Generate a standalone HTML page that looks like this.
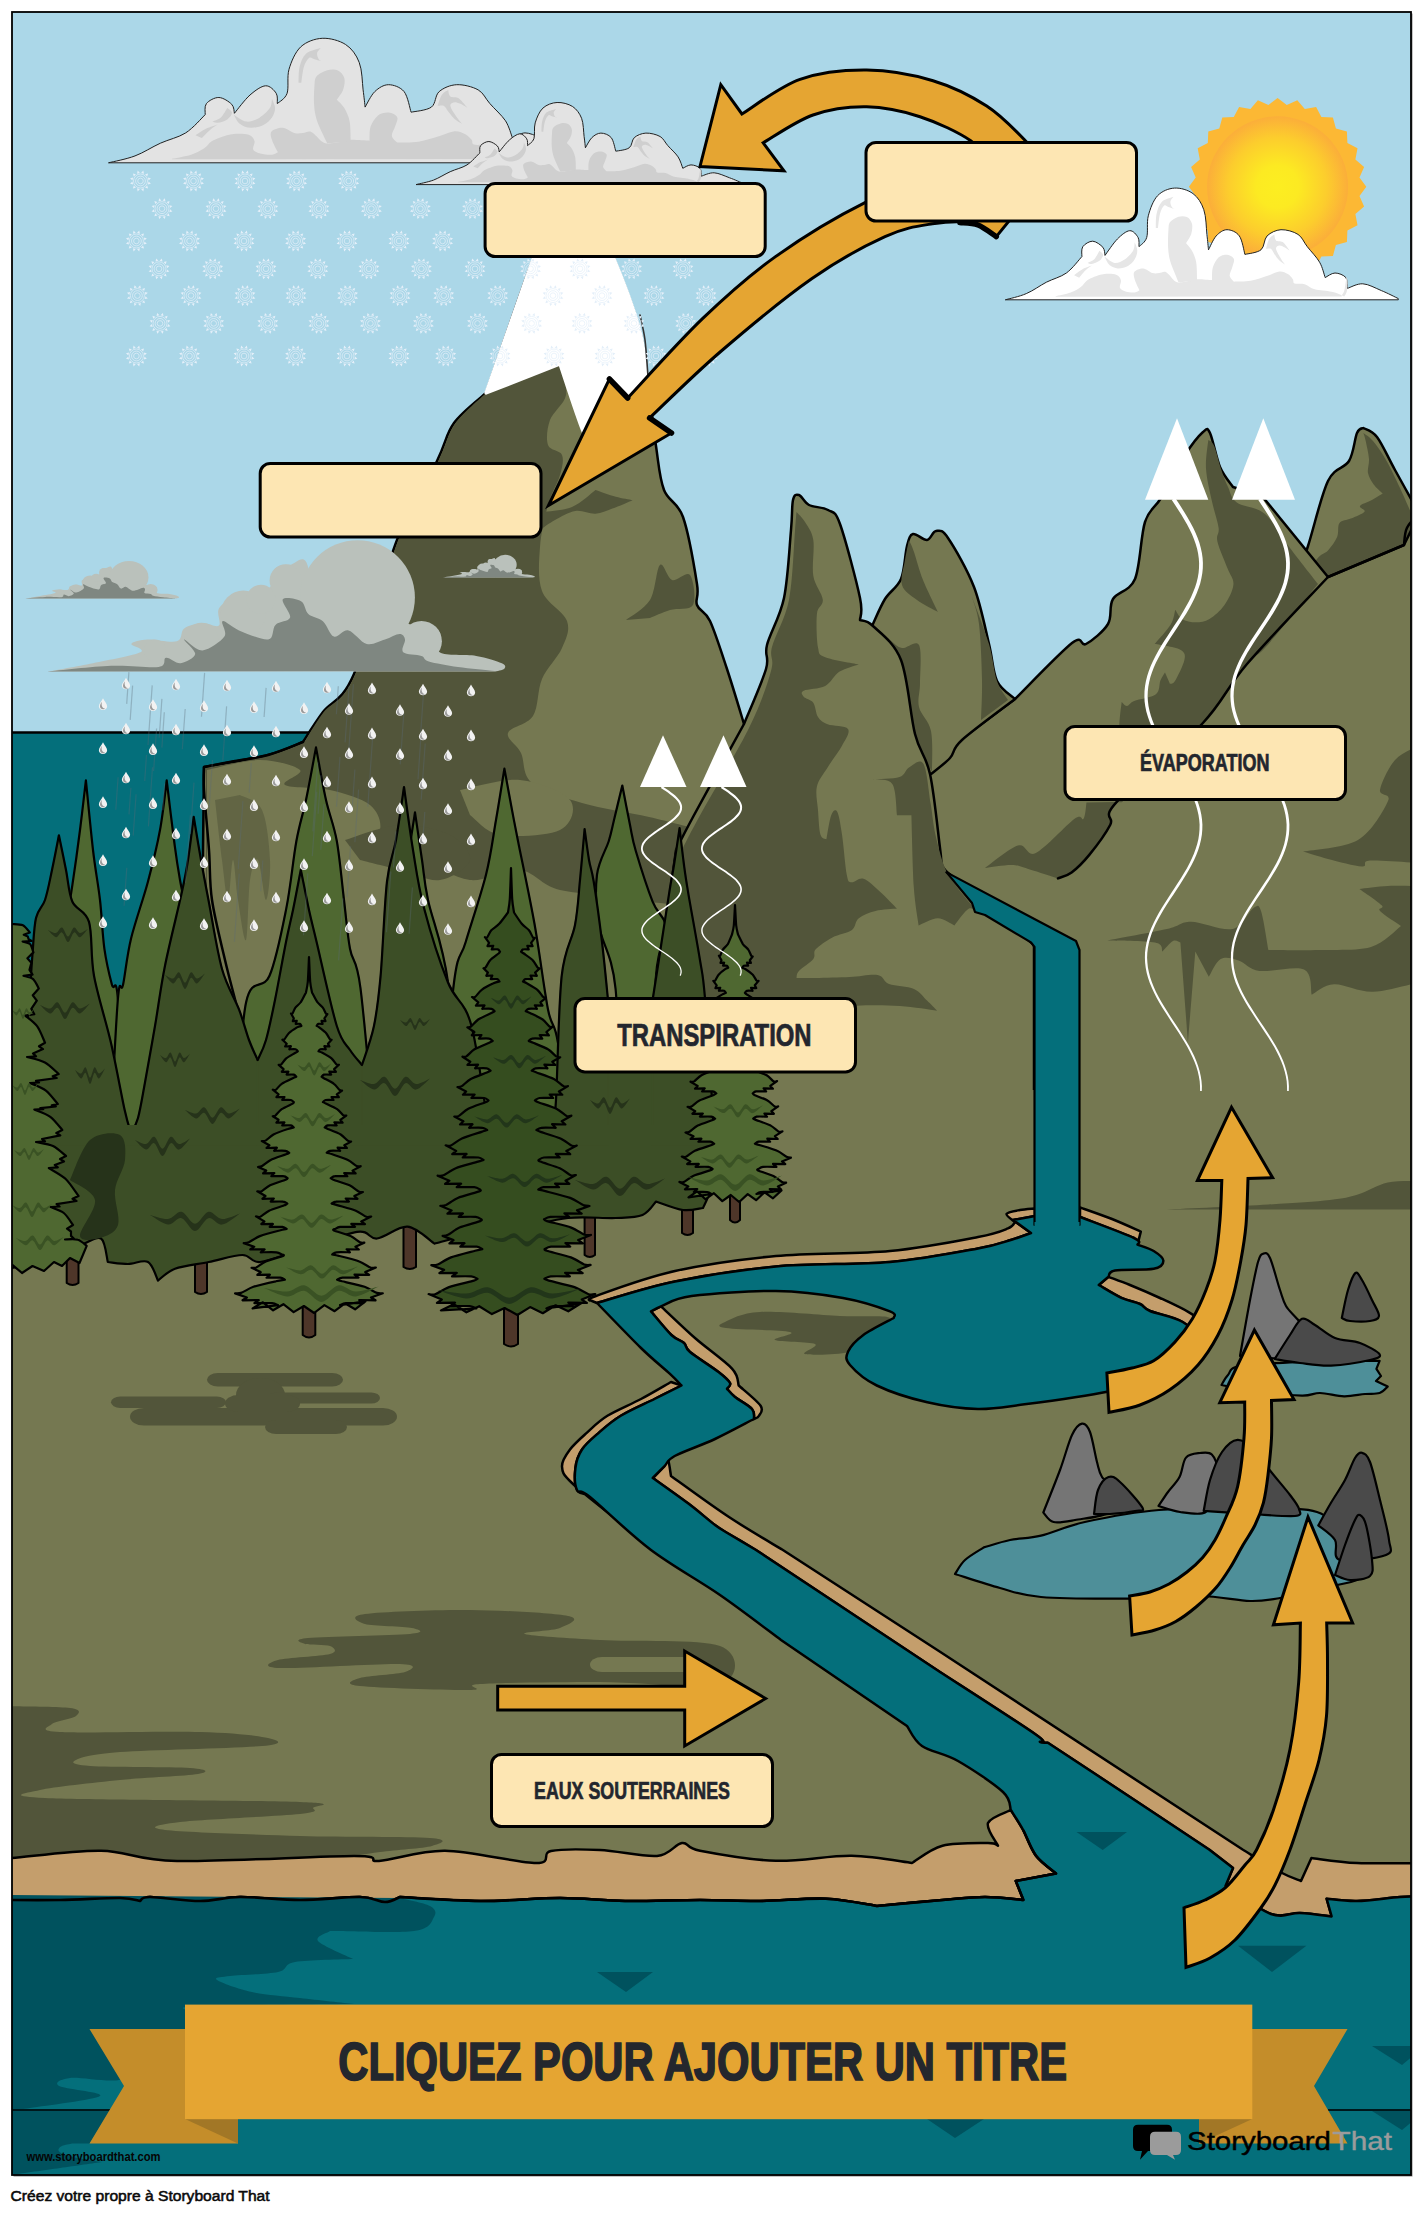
<!DOCTYPE html>
<html lang="fr"><head><meta charset="utf-8"><title>Cycle de l'eau</title>
<style>
html,body{margin:0;padding:0;background:#fff}
body{width:1425px;height:2214px;overflow:hidden;font-family:"Liberation Sans",sans-serif}
svg{display:block}
text{font-family:"Liberation Sans",sans-serif}
</style></head><body>
<svg width="1425" height="2214" viewBox="0 0 1425 2214">
<defs>
<clipPath id="fr"><rect x="12" y="12" width="1399" height="2163"/></clipPath>
<radialGradient id="sung" cx="0.5" cy="0.5" r="0.5"><stop offset="0" stop-color="#FCEE21"/><stop offset="0.3" stop-color="#FCEA22"/><stop offset="0.7" stop-color="#FCCD2D"/><stop offset="1" stop-color="#FBAE3A"/></radialGradient><g id="drop"><path d="M0 -6.5 C1.2 -3.5 4.6 -0.5 4.6 2.3 C4.6 5 2.6 6.5 0 6.5 C-2.6 6.5 -4.6 5 -4.6 2.3 C-4.6 -0.5 -1.2 -3.5 0 -6.5Z" fill="#F2F2F2"/><path d="M-1.2 -2.5 C-3.6 0.5 -3.8 3 -2.6 4.6 C-1.4 6 1.2 6.1 2.6 5 C0.2 5 -2.4 3 -1.2 -2.5Z" fill="#9A9A9A"/></g><g id="flake" fill="none" stroke="#E4EFF9" stroke-width="0.7"><circle r="2.8"/><circle r="4.9"/><circle r="7"/><path d="M10.4 2.8L7.3 3.5L8.1 0.6ZM7.6 7.6L4.6 6.7L6.7 4.6ZM2.8 10.4L0.6 8.1L3.5 7.3ZM-2.8 10.4L-3.5 7.3L-0.6 8.1ZM-7.6 7.6L-6.7 4.6L-4.6 6.7ZM-10.4 2.8L-8.1 0.6L-7.3 3.5ZM-10.4 -2.8L-7.3 -3.5L-8.1 -0.6ZM-7.6 -7.6L-4.6 -6.7L-6.7 -4.6ZM-2.8 -10.4L-0.6 -8.1L-3.5 -7.3ZM2.8 -10.4L3.5 -7.3L0.6 -8.1ZM7.6 -7.6L6.7 -4.6L4.6 -6.7ZM10.4 -2.8L8.1 -0.6L7.3 -3.5Z" fill="#E4EFF9" stroke="none"/></g>
</defs>
<rect x="13.5" y="13.5" width="1399" height="2163" fill="#8a8a8a"/>
<g clip-path="url(#fr)">
<rect x="0" y="0" width="1425" height="2214" fill="#ABD7E8"/>
<rect x="0" y="733" width="700" height="400" fill="#046F7B"/>
<line x1="0" y1="732.5" x2="420" y2="732.5" stroke="#000" stroke-width="2.6"/>
<path d="M1277.6 98.1 L1286.8 104.9 L1297.3 100.3 L1304.8 109 L1316.1 106.9 L1321.4 117 L1332.9 117.5 L1335.9 128.5 L1346.9 131.5 L1347.4 143 L1357.5 148.3 L1355.4 159.6 L1364.1 167.1 L1359.5 177.6 L1366.3 186.8 L1359.5 196 L1364.1 206.5 L1355.4 214 L1357.5 225.3 L1347.4 230.6 L1346.9 242.1 L1335.9 245.1 L1332.9 256.1 L1321.4 256.6 L1316.1 266.7 L1304.8 264.6 L1297.3 273.3 L1286.8 268.7 L1277.6 275.5 L1268.4 268.7 L1257.9 273.3 L1250.4 264.6 L1239.1 266.7 L1233.8 256.6 L1222.3 256.1 L1219.3 245.1 L1208.3 242.1 L1207.8 230.6 L1197.7 225.3 L1199.8 214 L1191.1 206.5 L1195.7 196 L1188.9 186.8 L1195.7 177.6 L1191.1 167.1 L1199.8 159.6 L1197.7 148.3 L1207.8 143 L1208.3 131.5 L1219.3 128.5 L1222.3 117.5 L1233.8 117 L1239.1 106.9 L1250.4 109 L1257.9 100.3 L1268.4 104.9Z" fill="#FCB834"/>
<circle cx="1277.6" cy="186.8" r="70.5" fill="url(#sung)"/>
<path d="M108.5 162.8C112.9 161.7 126.4 159.2 135 155.9C143.7 152.7 151.9 147 160.4 143.2C168.8 139.4 178.2 137.6 185.7 132.9C193.2 128.1 202 117.7 205.2 114.6C205.4 112.8 204.1 106.5 206.4 103.6C208.6 100.8 214.6 97.3 218.9 97.5C223.1 97.6 229.1 101.7 231.7 104.3C234.3 107 234 111.8 234.4 113.3C237 110.2 244.8 99.6 250 95C255.2 90.5 261.3 86 265.6 85.8C270 85.5 274.2 90.3 276.2 93.3C278.1 96.3 277.1 101.9 277.3 103.6C279 101.9 285.1 99.1 287.1 93.3C289 87.6 286.8 77 289 69.3C291.3 61.5 295.2 52.1 300.7 46.9C306.3 41.7 314.7 38.7 322.2 38.3C329.7 37.9 339.4 40.5 345.6 44.5C351.8 48.5 356.3 54.8 359.2 62.4C362.2 69.9 362.2 82.4 363.1 89.9C364.1 97.3 364.8 104.2 365.1 107.1C366.7 104.5 370.9 95.3 374.8 91.6C378.7 87.9 383.6 84.7 388.5 84.7C393.3 84.7 400.3 87 404.1 91.6C407.8 96.2 409.9 108.8 411.1 112.2C414.5 111.4 426.7 110.5 431.4 107.1C436 103.6 434.9 95.3 439.2 91.6C443.4 87.9 450.2 85 456.7 84.7C463.2 84.4 472.6 86.7 478.2 89.9C483.7 93 485.3 98.5 489.9 103.6C494.4 108.8 501.7 115.1 505.5 120.8C509.2 126.6 511.3 135.2 512.5 138C514.6 137.2 520.6 132.9 525 132.9C529.3 132.9 536 135.2 538.6 138C541.2 140.9 540.2 148.1 540.5 150.1C543.8 149.2 552.9 144.5 560 144.9C567.2 145.3 576 149.7 583.4 152.5C590.9 155.2 601.3 159.9 604.9 161.4L604.9 162.8L108.5 162.8Z" fill="#E3E3E3" stroke="#222" stroke-width="1.0" stroke-linejoin="round"/>
<path d="M172 158.8C175.2 158.1 185.8 156.4 191.1 154.7C196.4 152.9 200.5 150.6 203.9 148.5C207.3 146.3 208.5 143.4 211.3 141.5C214.2 139.6 217.2 138.5 220.9 137.2C224.6 136 229.1 134.4 233.7 134C238.3 133.6 245.1 133.6 248.6 134.8C252 135.9 253.7 138.5 254.5 141C255.3 143.4 252.3 147.3 253.2 149.4C254.2 151.5 257.1 152.6 260.3 153.5C263.4 154.4 269 154.9 272 154.7C274.9 154.4 276.9 152.6 277.9 152.2C276.9 150.2 273 143.5 272 140C270.9 136.6 269.8 133.6 271.5 131.6C273.3 129.5 278.8 127.6 282.6 127.8C286.4 128 290.9 132 294.3 132.9C297.7 133.8 300 133.2 302.8 133.1C305.6 132.9 308.1 130.5 311.3 131.9C314.5 133.4 319.2 139.5 321.9 141.5C324.7 143.5 326.7 143.4 327.7 143.8C329.7 143.5 336.2 142.6 340 141.9C343.8 141.2 345.5 140 350.4 139.8C355.3 139.6 366.4 140.6 369.5 140.7C369.7 138.4 369.2 130.9 370.6 126.6C372 122.4 375 117.7 378 115.4C381.1 113 385.5 112.3 388.7 112.6C391.9 112.9 396.1 114.9 397.2 117.3C398.3 119.6 396 123.5 395.1 126.6C394.2 129.8 391.5 133.4 391.9 136C392.2 138.7 396.3 141.5 397.2 142.6C400.7 142.4 411.4 142.8 418.5 141.7C425.6 140.6 433.7 137.7 439.7 136C445.8 134.3 450.4 131.7 454.6 131.3C458.9 131 462.4 132.7 465.3 134.2C468.1 135.6 470.2 138.1 471.6 139.8C473.1 141.5 471.3 143.5 473.8 144.5C476.3 145.4 482.3 144.3 486.5 145.4C490.8 146.5 493.6 149.6 499.3 151C505 152.4 514.9 152.8 520.6 153.9C526.2 154.9 531.2 157 533.3 157.6L533.3 159.1L172 159.3L172 158.8Z" fill="#CFCFCF"/>
<path d="M336.8 99.7C338.1 101.1 342.2 104.5 344.3 108.1C346.4 111.7 348.5 115.8 349.6 121.3C350.7 126.7 350.5 137.7 350.7 141L327.3 143.4C326.6 141.9 324.8 138.4 323 134.4C321.2 130.4 318.1 124.4 316.6 119.4C315.1 114.4 314.4 110 314.1 104.4C313.7 98.7 314.1 90.3 314.5 85.6C314.9 80.9 314.5 78.8 316.6 76.2C318.8 73.7 323.7 71.2 327.3 70.2C330.8 69.3 335.1 69.3 337.9 70.6C340.7 71.9 343.4 75 344.3 78.1C345.2 81.2 344.5 85.8 343.2 89.4C342 93 337.9 98 336.8 99.7Z" fill="#CFCFCF"/>
<path d="M298.5 82.8C298.7 80.1 298.4 71.7 299.6 66.8C300.9 62 302.4 56.8 306 53.7C309.5 50.6 318.4 49 320.9 48.1C320.2 48.9 317.4 51.3 317.1 53.1C316.7 55 317.8 57.9 318.8 59.3C319.7 60.7 321.9 61.2 322.6 61.6C321.2 61.2 316.7 60 314.5 59.3C312.3 58.7 311 56.6 309.2 57.8C307.4 59.1 305.2 62.7 303.9 66.8C302.6 71 301.7 80.1 301.3 82.8L298.5 82.8Z" fill="#CFCFCF"/>
<path d="M233.7 114.7C235.8 115.8 242.2 121.1 246.4 121.6C250.7 122.2 255.3 120.1 259.2 117.9C263.1 115.6 267.7 111.3 269.8 108.1C272 104.9 271.6 100.3 272 98.7C272.5 100.3 275.1 105 275.1 108.1C275.1 111.2 273.9 114.7 272 117.5C270 120.3 267 123.3 263.4 125C259.9 126.7 254.6 128 250.7 127.8C246.8 127.7 242.9 126.3 240.1 124.1C237.2 121.9 234.7 116.3 233.7 114.7Z" fill="#CFCFCF"/>
<path d="M212.4 121.6C213.8 120.9 218.4 119.8 220.9 117.5C223.4 115.2 226.2 109.7 227.3 108.1C228.1 108.9 232 110.9 232 112.8C232 114.7 229.7 117.7 227.3 119.4C224.9 121 220.2 122.4 217.7 122.8C215.2 123.1 213.3 121.8 212.4 121.6Z" fill="#CFCFCF"/>
<path d="M195.4 135.3C197.2 134.2 202.3 130.5 206 128.8C209.7 127 215.8 125.3 217.7 124.6C216.5 125.5 212.9 127.4 210.3 129.7C207.6 131.9 203.2 136.7 201.8 138.1L195.4 135.3Z" fill="#CFCFCF"/>
<path d="M437.6 106C438.3 104.1 440.1 97.4 441.9 94.8C443.6 92.1 447.2 90.8 448.2 90.1C448.6 91.2 448.6 95.2 450.4 96.6C452.1 98 456 96.6 458.9 98.5C461.7 100.4 466 106.3 467.4 107.9C466.3 107.3 463.1 105.1 461 104.1C458.9 103.2 456.4 101.9 454.6 102.3C452.9 102.6 450 103.5 450.4 106C450.7 108.5 454.8 114.3 456.8 117.3C458.7 120.2 461.2 122.7 462.1 123.8C460.8 123.1 456.9 121.2 454.6 119.1C452.3 117.1 450 113.8 448.2 111.6C446.5 109.4 445.8 106.9 444 106C442.2 105.1 438.7 106 437.6 106Z" fill="#CFCFCF"/>
<path d="M533.3 157.6C533.9 156.8 535.6 155.6 536.5 152.9C537.4 150.3 538.1 144.3 538.7 141.7C539.2 139 539.5 137.7 539.7 137C539.9 138.1 540.8 140.7 540.8 143.5C540.8 146.3 540.4 151.3 539.7 153.9C539 156.4 537.1 158.2 536.5 159.1L533.3 157.6Z" fill="#CFCFCF"/>
<path d="M416 184.6C418.9 183.8 427.8 182.2 433.5 180.1C439.2 177.9 444.7 174.2 450.2 171.7C455.8 169.1 462 168 467 164.9C471.9 161.7 477.7 154.8 479.9 152.8C480 151.6 479.1 147.5 480.6 145.6C482.1 143.7 486.1 141.4 488.9 141.5C491.7 141.6 495.6 144.3 497.4 146C499.1 147.8 498.9 150.9 499.2 151.9C500.9 149.9 506 142.9 509.5 139.9C512.9 136.9 516.9 134 519.8 133.8C522.6 133.6 525.4 136.8 526.7 138.8C528 140.7 527.4 144.4 527.5 145.6C528.6 144.4 532.6 142.5 533.9 138.8C535.2 135 533.7 128 535.2 122.9C536.7 117.8 539.3 111.5 542.9 108.1C546.6 104.7 552.2 102.7 557.1 102.5C562 102.2 568.5 103.9 572.6 106.5C576.6 109.2 579.6 113.3 581.6 118.3C583.5 123.3 583.5 131.6 584.1 136.5C584.8 141.4 585.2 145.9 585.4 147.8C586.5 146.1 589.3 140.1 591.9 137.6C594.4 135.2 597.7 133.1 600.9 133.1C604.1 133.1 608.7 134.6 611.2 137.6C613.7 140.7 615 149 615.8 151.2C618 150.7 626.1 150.1 629.2 147.8C632.3 145.6 631.6 140.1 634.3 137.6C637.1 135.2 641.6 133.3 645.9 133.1C650.2 132.9 656.4 134.4 660.1 136.5C663.7 138.6 664.8 142.2 667.8 145.6C670.8 149 675.6 153.1 678.1 156.9C680.6 160.7 682 166.4 682.8 168.3C684.1 167.7 688.1 164.9 691 164.9C693.9 164.9 698.3 166.4 700 168.3C701.7 170.2 701.1 174.9 701.3 176.2C703.4 175.6 709.4 172.5 714.2 172.8C718.9 173.1 724.7 176 729.6 177.8C734.6 179.6 741.4 182.7 743.8 183.7L743.8 184.6L416 184.6Z" fill="#E3E3E3" stroke="#222" stroke-width="1.0" stroke-linejoin="round"/>
<path d="M457.9 181.9C460 181.5 467 180.4 470.6 179.2C474.1 178.1 476.8 176.6 479 175.1C481.2 173.7 482 171.8 483.9 170.6C485.8 169.3 487.8 168.5 490.2 167.7C492.7 166.9 495.6 165.9 498.7 165.6C501.7 165.3 506.2 165.3 508.5 166.1C510.8 166.9 511.9 168.6 512.4 170.2C512.9 171.8 510.9 174.4 511.6 175.8C512.2 177.1 514.2 177.9 516.2 178.5C518.3 179.1 522 179.4 523.9 179.2C525.9 179.1 527.2 177.9 527.9 177.6C527.2 176.3 524.6 171.8 523.9 169.6C523.2 167.3 522.5 165.3 523.7 164C524.8 162.7 528.5 161.4 531 161.5C533.5 161.7 536.5 164.3 538.7 164.9C540.9 165.4 542.4 165.1 544.3 165C546.2 164.9 547.8 163.3 549.9 164.2C552 165.2 555.1 169.3 556.9 170.6C558.7 171.9 560.1 171.8 560.7 172C562.1 171.8 566.4 171.2 568.9 170.8C571.4 170.4 572.5 169.5 575.7 169.4C579 169.3 586.3 169.9 588.4 170C588.5 168.5 588.1 163.5 589.1 160.7C590 158 592 154.9 594 153.3C596 151.8 598.9 151.3 601 151.5C603.1 151.7 605.9 153 606.6 154.6C607.3 156.1 605.8 158.7 605.2 160.7C604.6 162.8 602.9 165.2 603.1 166.9C603.4 168.7 606 170.5 606.6 171.3C609 171.2 616 171.4 620.7 170.7C625.4 169.9 630.7 168.1 634.7 166.9C638.7 165.8 641.8 164 644.6 163.8C647.4 163.6 649.7 164.8 651.6 165.7C653.5 166.6 654.9 168.3 655.8 169.4C656.7 170.5 655.6 171.9 657.2 172.5C658.8 173.1 662.8 172.4 665.6 173.1C668.4 173.8 670.3 175.9 674.1 176.8C677.8 177.8 684.4 178 688.1 178.7C691.8 179.4 695.1 180.8 696.5 181.2L696.5 182.2L457.9 182.3L457.9 181.9Z" fill="#CFCFCF"/>
<path d="M566.8 143C567.6 143.9 570.3 146.2 571.7 148.5C573.1 150.9 574.5 153.6 575.2 157.2C575.9 160.8 575.8 168 575.9 170.2L560.5 171.8C560 170.8 558.8 168.5 557.6 165.9C556.5 163.2 554.4 159.3 553.4 156C552.5 152.6 552 149.8 551.7 146C551.5 142.3 551.7 136.8 552 133.7C552.3 130.6 552 129.2 553.4 127.5C554.8 125.8 558.1 124.1 560.5 123.5C562.8 122.9 565.6 122.9 567.5 123.8C569.4 124.6 571.1 126.7 571.7 128.7C572.3 130.8 571.8 133.8 571 136.1C570.2 138.5 567.5 141.8 566.8 143Z" fill="#CFCFCF"/>
<path d="M541.5 131.8C541.6 130.1 541.4 124.5 542.2 121.3C543 118.1 544.1 114.7 546.4 112.6C548.8 110.6 554.6 109.5 556.2 108.9C555.8 109.5 553.9 111 553.7 112.3C553.5 113.5 554.2 115.4 554.8 116.3C555.4 117.3 556.9 117.6 557.4 117.8C556.5 117.6 553.5 116.8 552 116.3C550.6 115.9 549.7 114.5 548.5 115.3C547.3 116.2 545.9 118.5 545 121.3C544.1 124 543.6 130.1 543.3 131.8L541.5 131.8Z" fill="#CFCFCF"/>
<path d="M498.7 152.9C500.1 153.6 504.3 157.1 507.1 157.4C509.9 157.8 512.9 156.4 515.5 155C518.1 153.5 521.1 150.6 522.5 148.5C523.9 146.4 523.7 143.4 523.9 142.3C524.3 143.4 526 146.5 526 148.5C526 150.6 525.2 152.9 523.9 154.7C522.6 156.6 520.7 158.5 518.3 159.7C516 160.8 512.5 161.6 509.9 161.5C507.3 161.4 504.7 160.5 502.9 159C501 157.6 499.4 153.9 498.7 152.9Z" fill="#CFCFCF"/>
<path d="M484.6 157.4C485.5 157 488.6 156.2 490.2 154.7C491.9 153.2 493.7 149.6 494.4 148.5C495 149 497.5 150.4 497.5 151.6C497.5 152.9 496 154.9 494.4 156C492.9 157 489.8 157.9 488.1 158.2C486.5 158.4 485.2 157.6 484.6 157.4Z" fill="#CFCFCF"/>
<path d="M473.4 166.5C474.5 165.8 477.9 163.3 480.4 162.1C482.9 161 486.8 159.9 488.1 159.4C487.3 160 485 161.3 483.2 162.8C481.4 164.2 478.5 167.4 477.6 168.3L473.4 166.5Z" fill="#CFCFCF"/>
<path d="M633.3 147.1C633.8 145.9 635 141.5 636.1 139.7C637.3 137.9 639.6 137.1 640.3 136.6C640.6 137.3 640.6 140 641.8 140.9C642.9 141.9 645.5 140.9 647.4 142.2C649.2 143.4 652.1 147.3 653 148.4C652.3 148 650.2 146.5 648.8 145.9C647.4 145.3 645.7 144.4 644.6 144.7C643.4 144.9 641.5 145.5 641.8 147.1C642 148.8 644.7 152.6 646 154.6C647.3 156.5 648.9 158.2 649.5 158.9C648.7 158.4 646.1 157.1 644.6 155.8C643 154.5 641.5 152.3 640.3 150.8C639.2 149.4 638.7 147.7 637.5 147.1C636.4 146.5 634 147.1 633.3 147.1Z" fill="#CFCFCF"/>
<path d="M696.5 181.2C696.9 180.7 698.1 179.8 698.6 178.1C699.2 176.3 699.7 172.4 700 170.7C700.4 168.9 700.6 168.1 700.7 167.6C700.9 168.3 701.4 170 701.4 171.9C701.4 173.7 701.2 177 700.7 178.7C700.3 180.4 699 181.6 698.6 182.2L696.5 181.2Z" fill="#CFCFCF"/>
<path d="M1005.3 299.8C1008.8 298.8 1019.5 296.6 1026.3 293.6C1033.2 290.7 1039.7 285.7 1046.4 282.2C1053.1 278.8 1060.5 277.2 1066.4 273C1072.4 268.7 1079.3 259.3 1081.9 256.6C1082 255 1081 249.3 1082.8 246.7C1084.6 244.1 1089.3 241.1 1092.7 241.2C1096 241.3 1100.8 245 1102.9 247.3C1104.9 249.7 1104.7 254 1105 255.4C1107.1 252.6 1113.3 243.1 1117.4 239C1121.5 234.9 1126.3 230.9 1129.7 230.7C1133.2 230.4 1136.5 234.8 1138.1 237.5C1139.6 240.1 1138.8 245.2 1139 246.7C1140.3 245.2 1145.2 242.6 1146.7 237.5C1148.3 232.3 1146.5 222.8 1148.3 215.8C1150.1 208.9 1153.2 200.4 1157.5 195.8C1161.9 191.1 1168.6 188.4 1174.5 188.1C1180.4 187.7 1188.1 190 1193 193.6C1197.9 197.2 1201.5 202.9 1203.8 209.7C1206.2 216.5 1206.2 227.7 1206.9 234.4C1207.7 241.1 1208.2 247.2 1208.5 249.8C1209.8 247.5 1213.1 239.3 1216.2 235.9C1219.3 232.6 1223.1 229.7 1227 229.7C1230.8 229.7 1236.4 231.8 1239.3 235.9C1242.3 240 1244 251.3 1244.9 254.4C1247.6 253.7 1257.2 252.9 1261 249.8C1264.7 246.7 1263.8 239.3 1267.1 235.9C1270.5 232.6 1275.9 230 1281 229.7C1286.2 229.5 1293.6 231.5 1298 234.4C1302.4 237.2 1303.7 242.1 1307.3 246.7C1310.9 251.3 1316.6 257 1319.6 262.2C1322.6 267.3 1324.2 275 1325.2 277.6C1326.8 276.8 1331.6 273 1335 273C1338.5 273 1343.8 275 1345.9 277.6C1347.9 280.2 1347.1 286.6 1347.4 288.4C1350 287.6 1357.2 283.4 1362.8 283.8C1368.5 284.1 1375.4 288.1 1381.4 290.6C1387.3 293 1395.5 297.2 1398.3 298.6L1398.3 299.8L1005.3 299.8Z" fill="#FFFFFF" stroke="#222" stroke-width="1.0" stroke-linejoin="round"/>
<path d="M1055.6 296.2C1058.1 295.6 1066.5 294 1070.7 292.5C1074.9 291 1078.2 288.9 1080.8 286.9C1083.5 285 1084.5 282.4 1086.7 280.7C1089 279 1091.4 278 1094.3 276.8C1097.3 275.7 1100.8 274.3 1104.4 274C1108.1 273.6 1113.5 273.6 1116.2 274.7C1119 275.7 1120.3 278 1120.9 280.2C1121.5 282.4 1119.2 285.9 1119.9 287.8C1120.7 289.7 1123 290.7 1125.5 291.5C1127.9 292.3 1132.4 292.7 1134.7 292.5C1137.1 292.3 1138.7 290.7 1139.5 290.3C1138.7 288.5 1135.6 282.5 1134.7 279.4C1133.9 276.3 1133 273.6 1134.4 271.8C1135.8 270 1140.2 268.2 1143.2 268.4C1146.2 268.6 1149.8 272.2 1152.4 273C1155.1 273.8 1156.9 273.3 1159.2 273.1C1161.4 273 1163.4 270.9 1165.9 272.1C1168.4 273.4 1172.2 278.9 1174.3 280.7C1176.5 282.5 1178.1 282.4 1178.9 282.7C1180.5 282.5 1185.6 281.6 1188.6 281.1C1191.6 280.5 1192.9 279.3 1196.8 279.2C1200.7 279 1209.5 279.9 1212 280C1212.1 277.9 1211.7 271.2 1212.8 267.4C1214 263.6 1216.4 259.4 1218.7 257.3C1221.1 255.2 1224.6 254.5 1227.2 254.7C1229.7 255 1233.1 256.8 1233.9 258.9C1234.7 261.1 1232.9 264.6 1232.2 267.4C1231.5 270.2 1229.4 273.4 1229.7 275.8C1230 278.2 1233.2 280.7 1233.9 281.7C1236.7 281.5 1245.1 281.8 1250.7 280.8C1256.4 279.9 1262.8 277.3 1267.6 275.8C1272.4 274.2 1276 271.9 1279.4 271.6C1282.7 271.3 1285.5 272.8 1287.8 274.1C1290 275.4 1291.7 277.6 1292.8 279.2C1294 280.7 1292.6 282.5 1294.5 283.4C1296.5 284.2 1301.3 283.2 1304.6 284.2C1308 285.2 1310.2 288 1314.7 289.3C1319.2 290.5 1327.1 290.8 1331.6 291.8C1336.1 292.8 1340 294.6 1341.7 295.2L1341.7 296.5L1055.6 296.7L1055.6 296.2Z" fill="#E6E6E6"/>
<path d="M1186.1 243.2C1187.1 244.4 1190.3 247.5 1192 250.7C1193.7 254 1195.4 257.6 1196.2 262.5C1197.1 267.4 1196.9 277.3 1197.1 280.2L1178.5 282.4C1178 281.1 1176.6 277.9 1175.2 274.3C1173.8 270.7 1171.3 265.3 1170.1 260.8C1168.9 256.4 1168.4 252.4 1168.1 247.4C1167.8 242.3 1168.1 234.7 1168.4 230.5C1168.8 226.3 1168.4 224.4 1170.1 222.1C1171.8 219.8 1175.7 217.6 1178.5 216.7C1181.3 215.9 1184.7 215.9 1186.9 217.1C1189.2 218.2 1191.3 221 1192 223.8C1192.7 226.6 1192.1 230.7 1191.2 233.9C1190.2 237.1 1186.9 241.6 1186.1 243.2Z" fill="#E6E6E6"/>
<path d="M1155.8 228C1155.9 225.6 1155.6 218 1156.6 213.7C1157.6 209.3 1158.9 204.7 1161.7 201.9C1164.5 199.1 1171.5 197.7 1173.5 196.8C1173 197.6 1170.7 199.7 1170.4 201.4C1170.2 203.1 1171.1 205.7 1171.8 206.9C1172.5 208.2 1174.3 208.6 1174.8 209C1173.8 208.6 1170.2 207.5 1168.4 206.9C1166.7 206.4 1165.6 204.5 1164.2 205.6C1162.8 206.7 1161 210 1160 213.7C1159 217.4 1158.3 225.6 1158 228L1155.8 228Z" fill="#E6E6E6"/>
<path d="M1104.4 256.6C1106.1 257.7 1111.2 262.4 1114.5 262.9C1117.9 263.3 1121.5 261.5 1124.6 259.5C1127.7 257.5 1131.4 253.6 1133.1 250.7C1134.7 247.9 1134.5 243.7 1134.7 242.3C1135.2 243.7 1137.3 247.9 1137.3 250.7C1137.3 253.5 1136.3 256.6 1134.7 259.2C1133.2 261.7 1130.8 264.4 1128 265.9C1125.2 267.4 1121 268.6 1117.9 268.4C1114.8 268.3 1111.7 267 1109.5 265.1C1107.2 263.1 1105.3 258 1104.4 256.6Z" fill="#E6E6E6"/>
<path d="M1087.6 262.9C1088.7 262.2 1092.4 261.2 1094.3 259.2C1096.3 257.1 1098.5 252.1 1099.4 250.7C1100 251.4 1103.1 253.3 1103.1 254.9C1103.1 256.6 1101.2 259.4 1099.4 260.8C1097.5 262.3 1093.8 263.5 1091.8 263.9C1089.8 264.2 1088.3 263 1087.6 262.9Z" fill="#E6E6E6"/>
<path d="M1074.1 275.2C1075.5 274.2 1079.6 270.9 1082.5 269.3C1085.5 267.7 1090.2 266.2 1091.8 265.6C1090.8 266.3 1088 268.1 1085.9 270.1C1083.8 272.1 1080.3 276.4 1079.2 277.7L1074.1 275.2Z" fill="#E6E6E6"/>
<path d="M1265.9 248.8C1266.5 247.2 1267.9 241.1 1269.3 238.7C1270.7 236.4 1273.5 235.2 1274.3 234.5C1274.6 235.5 1274.6 239.2 1276 240.4C1277.4 241.7 1280.5 240.4 1282.7 242.1C1285 243.8 1288.4 249.1 1289.5 250.5C1288.6 250 1286.1 248 1284.4 247.2C1282.7 246.3 1280.8 245.2 1279.4 245.5C1278 245.8 1275.7 246.6 1276 248.8C1276.3 251.1 1279.5 256.3 1281.1 258.9C1282.6 261.6 1284.6 263.9 1285.3 264.8C1284.3 264.1 1281.2 262.5 1279.4 260.6C1277.5 258.8 1275.7 255.9 1274.3 253.9C1272.9 251.9 1272.4 249.7 1270.9 248.8C1269.5 248 1266.7 248.8 1265.9 248.8Z" fill="#E6E6E6"/>
<path d="M1341.7 295.2C1342.1 294.5 1343.5 293.3 1344.2 290.9C1344.9 288.6 1345.5 283.2 1345.9 280.8C1346.3 278.5 1346.6 277.3 1346.7 276.6C1346.9 277.6 1347.6 280 1347.6 282.5C1347.6 285.1 1347.3 289.5 1346.7 291.8C1346.2 294.1 1344.6 295.7 1344.2 296.5L1341.7 295.2Z" fill="#E6E6E6"/>
<path d="M1290 600C1293 591 1301.7 565.8 1308 546C1314.3 526.2 1321.2 495.2 1328 481C1334.8 466.8 1344.2 469 1349 461C1353.8 453 1354.6 438.5 1357 433C1359.4 427.5 1362.3 428.8 1363.4 428C1365.7 429.5 1371.7 430 1377 437C1382.3 444 1387.8 457 1395 470C1402.2 483 1415.8 507.5 1420 515L1420 600L1290 600Z" fill="#757851" stroke="#000" stroke-width="2.5" stroke-linejoin="round" stroke-linecap="round"/>
<path d="M1363.4 433C1363.8 434.3 1364.8 436.7 1365.7 441C1366.6 445.3 1368.6 453.7 1369 459C1369.4 464.3 1367.2 468.8 1368 473C1368.8 477.2 1371.2 481 1373.7 484.4C1376.2 487.8 1381.3 492 1382.8 493.5C1380.9 494.6 1375.2 498.2 1371.4 500.3C1367.6 502.4 1361.2 504.1 1360 506C1358.8 507.9 1366 509.6 1364.5 511.7C1363 513.8 1355.1 516.7 1350.9 518.6C1346.7 520.5 1341.8 520 1339.5 523C1337.2 526 1339.1 532.2 1337.2 536.8C1335.3 541.4 1331.4 546.7 1328 550.5C1324.6 554.3 1321.3 553 1316.6 559.6C1311.9 566.2 1302.8 584.9 1300 590L1420 590L1412 515C1410 510.5 1404.3 497.2 1400 488C1395.7 478.8 1390.5 467.8 1386 460C1381.5 452.2 1376.8 445.5 1373 441C1369.2 436.5 1365 434.3 1363.4 433Z" fill="#52553A"/>
<path d="M1015 699C1024.5 689.7 1060.2 652.2 1072 643C1083.8 633.8 1080 647.2 1086 644C1092 640.8 1103.5 631.5 1108 624C1112.5 616.5 1108.5 606.5 1113 599C1117.5 591.5 1129.7 591.8 1135 579C1140.3 566.2 1140.7 535.5 1145 522C1149.3 508.5 1154.3 509.2 1161 498C1167.7 486.8 1178 466 1185 455C1192 444 1198.8 435.7 1203 432C1207.2 428.3 1207.2 427.2 1210 433C1212.8 438.8 1216.2 458 1220 467C1223.8 476 1230.8 483.7 1233 487L1262 496L1328 577L1404 545L1420 512L1420 1400L880 1400L880 800L1015 699Z" fill="#757851" stroke="#000" stroke-width="2.5" stroke-linejoin="round" stroke-linecap="round"/>
<path d="M1208.3 440C1207.9 444.7 1205.4 458.3 1206 468.4C1206.6 478.4 1209.6 490.4 1211.7 500.3C1213.8 510.2 1217.6 520.9 1218.6 527.7C1219.5 534.6 1215.9 534.5 1217.4 541.4C1218.9 548.2 1225 561.6 1227.7 568.8C1230.4 576 1234 578.6 1233.4 584.7C1232.8 590.8 1228.3 599.5 1224.3 605.2C1220.3 610.9 1214.2 616 1209.5 618.9C1204.8 621.8 1200.4 622.3 1195.8 622.3C1191.2 622.3 1185.4 621 1182 618.9C1178.6 616.8 1176.4 611.3 1175.3 609.8C1174.5 612.3 1174.1 618.9 1170.7 624.6C1167.3 630.3 1157.4 640.8 1154.7 644C1157 644.4 1163.9 645.2 1168.4 646.3C1173 647.4 1179.3 648.5 1182 650.8C1184.7 653.1 1185.5 655 1184.4 660C1183.3 665 1177.7 676.5 1175.3 680.5C1172.9 684.5 1170.9 683.4 1170 684L1165 672.5C1164.2 673.8 1161.9 676.9 1160.4 680.5C1158.9 684.1 1160.3 690.8 1155.9 694.2C1151.5 697.6 1139 699 1134.2 701C1129.4 703 1129.1 705.8 1127 706C1124.9 706.2 1122.6 702.7 1121.7 702C1121.3 705.6 1120 714.1 1119.4 723.8C1118.8 733.5 1117.2 747.6 1118 760C1118.8 772.4 1124.3 791 1124 798C1123.7 805 1117.3 801.3 1116 802L1086.5 802.4C1086 805.1 1085.5 816.1 1083.5 818.8C1081.5 821.5 1082.5 813.1 1074.6 818.8C1066.6 824.5 1045.2 848.5 1035.8 853C1026.4 857.5 1026.5 843.1 1018 845.6C1009.5 848.1 990.5 864.3 985 868C989.5 867.5 1004.5 864.8 1012 865C1019.5 865.2 1022.1 867.3 1029.8 869.5C1037.5 871.7 1053.3 876.9 1058 878.4C1060.3 877.4 1066.3 876.5 1071.6 872.5C1076.8 868.5 1083 862.6 1089.5 854.6C1096 846.6 1105.8 833.4 1110.3 824.7C1114.8 816 1101 819.2 1116.3 802.4C1131.6 785.6 1180.2 747.1 1202 724C1223.8 700.9 1236.2 677 1247 664C1257.8 651 1254.7 659.6 1266.5 646.3C1278.3 633 1309.4 594.4 1318 584C1313.3 578 1298.8 559.7 1290 548C1281.2 536.3 1273.9 521.6 1265 514C1256.1 506.4 1243 507.1 1236.8 502.6C1230.6 498.1 1230.7 492.7 1228 487C1225.3 481.3 1223.2 475.3 1220.9 468.4C1218.6 461.5 1216.1 450.3 1214 445.6C1211.9 440.9 1209.2 440.9 1208.3 440Z" fill="#52553A"/>
<path d="M1420 512C1417.8 514.6 1409.7 522.2 1407 527.7C1404.3 533.2 1404.5 542.1 1404 545L1328 577C1314.5 591.5 1268 639.5 1247 664C1226 688.5 1223.8 700.9 1202 724C1180.2 747.1 1131.6 785.6 1116.3 802.4C1101 819.2 1114.8 816 1110.3 824.7C1105.8 833.4 1096 846.6 1089.5 854.6C1083 862.6 1076.8 868.5 1071.6 872.5C1066.3 876.5 1060.3 877.4 1058 878.4" fill="none" stroke="#000" stroke-width="2.5" stroke-linejoin="round" stroke-linecap="round"/>
<path d="M1420 745C1415.8 747.5 1401.7 752.5 1395 760C1388.3 767.5 1381.2 783.2 1380 790C1378.8 796.8 1391.7 792.7 1388 801C1384.3 809.3 1372.2 831.6 1358 840C1343.8 848.4 1312.2 849.7 1303 851.6C1307.2 852.8 1318.2 856.5 1328 859C1337.8 861.5 1355 866.2 1362 866.5C1369 866.8 1360.3 861.1 1370 860.5C1379.7 859.9 1411.7 862.6 1420 863L1420 745Z" fill="#52553A"/>
<path d="M1420 886C1414.7 886 1398.1 885.5 1388 886C1377.9 886.5 1364.2 888.4 1359.4 888.9C1363.1 891.6 1378.3 901.6 1381.7 905.3C1385.1 909 1376.8 907.5 1380 911C1383.2 914.5 1397.5 923.5 1401 926C1396 929.5 1384.5 943 1371 947C1357.5 951 1337.1 949.5 1320 950C1302.9 950.5 1277 950 1268.4 950C1267.2 943.5 1263.5 918 1261 911C1258.5 904 1258.2 905 1253.5 908C1248.8 911 1243 926.7 1232.6 929C1222.2 931.3 1201.8 921.7 1190.9 921.7C1180 921.7 1180.9 925.9 1167 929C1153.1 932.1 1117.3 938.6 1107.4 940.5C1115.3 940.8 1145.8 940.7 1155 942.5C1164.2 944.3 1161.2 950 1162.5 951.5C1164.2 949.8 1170 942.5 1173 941C1176 939.5 1179.2 942.2 1180.4 942.5L1187.9 1042.4L1195.3 951.5L1208.8 976.8C1210.8 973.8 1215.7 961.7 1220.7 959C1225.7 956.3 1232.1 958.4 1238.6 960.4C1245.1 962.4 1248.6 969.4 1259.5 970.9C1270.4 972.4 1295.3 965.4 1304 969.4C1312.7 973.4 1310.4 990.5 1311.7 994.7C1315.4 993 1323.8 984.8 1334 984.3C1344.2 983.8 1358.5 992.2 1372.8 991.8C1387.1 991.4 1412.1 983.6 1420 982L1420 886Z" fill="#52553A"/>
<path d="M872 626C874.2 621.5 880.2 606.8 885 599C889.8 591.2 897.3 587.8 901 579C904.7 570.2 905 553.5 907 546C909 538.5 909.7 535 913 534C916.3 533 923.2 540.5 927 540C930.8 539.5 932.5 531.3 936 531C939.5 530.7 941.7 528.7 948 538C954.3 547.3 967.2 569.3 974 587C980.8 604.7 985.2 628.3 989 644C992.8 659.7 992.7 671.8 997 681C1001.3 690.2 1012 696 1015 699C1006.2 705.8 972.8 730.2 962 740C951.2 749.8 955.2 752.3 950 758C944.8 763.7 934.2 771.3 931 774L880 800L872 626Z" fill="#757851" stroke="#000" stroke-width="2.5" stroke-linejoin="round" stroke-linecap="round"/>
<path d="M909 540C909.8 542 911.7 545.3 914 552C916.3 558.7 919 570 923 580C927 590 935.5 606.7 938 612C934.5 610 923 604.5 917 600C911 595.5 904 591.7 902 585C900 578.3 903.8 567.5 905 560C906.2 552.5 908.3 543.3 909 540Z" fill="#52553A"/>
<path d="M876 627C878.3 629.2 885.7 636.5 890 640C894.3 643.5 897.2 647.2 902 648C906.8 648.8 916 639.2 919 645C922 650.8 920 672.7 920 683C920 693.3 917.2 699 919 707C920.8 715 928.8 720.2 931 731C933.2 741.8 931.8 765.2 932 772C929.2 765.7 920.2 752.7 915 734C909.8 715.3 903.3 672.3 901 660L876 627Z" fill="#52553A"/>
<path d="M972 597C973.2 601.5 977.3 610.2 979 624C980.7 637.8 981.7 664 982 680C982.3 696 981.2 713.3 981 720L1008 700C1006.2 696.8 1000.2 690.3 997 681C993.8 671.7 993.2 658 989 644C984.8 630 974.8 604.8 972 597Z" fill="#52553A"/>
<path d="M303 742C306.3 737 314.5 723.3 323 712C331.5 700.7 341.7 702.7 354 674C366.3 645.3 383.2 575.5 397 540C410.8 504.5 427.5 480.5 437 461C446.5 441.5 445.8 434.3 454 423C462.2 411.7 480.7 398 486 393C493.8 370.7 520.7 291.2 533 259C545.3 226.8 551.3 209.8 560 200C568.7 190.2 576 190.2 585 200C594 209.8 605 237.7 614 259C623 280.3 633.5 308.5 639 328C644.5 347.5 644.2 356.3 647 376C649.8 395.7 653.2 427 656 446C658.8 465 659.5 478.2 664 490C668.5 501.8 677.5 501.3 683 517C688.5 532.7 694.7 569.3 697 584C699.3 598.7 694.8 598.8 697 605C699.2 611.2 705 610.3 710 621C715 631.7 721.3 651.8 727 669C732.7 686.2 741.2 714.8 744 724L760 1100L200 1100L204 767C214.7 765 251.5 759.2 268 755C284.5 750.8 297.2 744.2 303 742Z" fill="#757851" stroke="#000" stroke-width="2.5" stroke-linejoin="round" stroke-linecap="round"/>
<path d="M486 393L560 364C561 369.2 567.7 385.7 566 395C564.3 404.3 553 411.7 550 420C547 428.3 546 439.2 548 445C550 450.8 560 450 562 455C564 460 562.3 466.7 560 475C557.7 483.3 551.3 493 548 505C544.7 517 541 532.7 540 547C539 561.3 537.5 578.7 542 591C546.5 603.3 563.7 611.5 567 621C570.3 630.5 566.2 638.3 562 648C557.8 657.7 546.8 667.7 542 679C537.2 690.3 538.7 707 533 716C527.3 725 510 726.8 508 733C506 739.2 517 744.7 521 753C525 761.3 521.8 774.7 532 783C542.2 791.3 562.5 797.3 582 803C601.5 808.7 629.3 812.5 649 817C668.7 821.5 691.5 827.8 700 830L700 1100L206 1100L206 768C216.3 766 251.7 760.2 268 756C284.3 751.8 298 745.2 304 743C307.2 738 314.5 724.3 323 713C331.5 701.7 342.5 703.7 355 675C367.5 646.3 384.2 576.5 398 541C411.8 505.5 428.5 481.5 438 462C447.5 442.5 447 435.5 455 424C463 412.5 480.8 398.2 486 393Z" fill="#52553A"/>
<path d="M207 770C215.8 768.3 244.5 760 260 760C275.5 760 295.8 765.8 300 770C304.2 774.2 280 781.7 285 785C290 788.3 315.8 786.7 330 790C344.2 793.3 361.7 798.3 370 805C378.3 811.7 381.7 822.5 380 830C378.3 837.5 353.3 845 360 850C366.7 855 401.7 855 420 860C438.3 865 453.3 878.3 470 880C486.7 881.7 505 868.3 520 870C535 871.7 540 885 560 890C580 895 616.7 893.3 640 900C663.3 906.7 690 896.7 700 930C710 963.3 700 1071.7 700 1100L207 1100L207 770Z" fill="#757851"/>
<path d="M345 840C354.2 837.5 382.5 825.8 400 825C417.5 824.2 438.3 829.2 450 835C461.7 840.8 471.7 852.5 470 860C468.3 867.5 451.7 878.3 440 880C428.3 881.7 413.3 873.3 400 870C386.7 866.7 366.7 861.7 360 860L345 840Z" fill="#52553A"/>
<path d="M215 800C216.2 810 219.8 843.3 222 860C224.2 876.7 226.2 900 228 900C229.8 900 231.3 860 233 860C234.7 860 235.8 886.7 238 900C240.2 913.3 244 943.3 246 940C248 936.7 248 893.3 250 880C252 866.7 255.3 856.7 258 860C260.7 863.3 264 900 266 900C268 900 270.7 875 270 860C269.3 845 267 820.8 262 810C257 799.2 243.7 797.5 240 795L215 800Z" fill="#52553A" opacity="0.55"/>
<path d="M460 790C470 788.3 501.7 778.3 520 780C538.3 781.7 563.3 791.7 570 800C576.7 808.3 571.7 824.2 560 830C548.3 835.8 515 837.5 500 835C485 832.5 475 818.3 470 815L460 790Z" fill="#757851"/>
<path d="M626 620C630 616.7 644.3 609.2 650 600C655.7 590.8 656.3 568.3 660 565C663.7 561.7 667 578.3 672 580C677 581.7 686.5 570.8 690 575C693.5 579.2 696.3 599.2 693 605C689.7 610.8 677.2 607.8 670 610C662.8 612.2 653.3 616.7 650 618L626 620Z" fill="#52553A"/>
<path d="M543 512C547.8 511.2 563.2 510.7 572 507C580.8 503.3 591.6 492.8 595.5 490C598.9 491.1 609.6 495.1 615.8 496.8C622 498.5 629.8 499.6 632.6 500.2C629.2 501.6 618.6 506.4 612.4 508.6C606.2 510.9 601.7 513.3 595.5 513.7C589.3 514.1 582 509.9 575.3 511C568.5 512 560.9 516.8 555 520C549.1 523.2 542.5 528.3 540 530L543 512Z" fill="#52553A"/>
<path d="M533 259C537.5 249.2 551.3 209.8 560 200C568.7 190.2 576 190.2 585 200C594 209.8 605 237.7 614 259C623 280.3 633.5 308.5 639 328C644.5 347.5 645 362.3 647 376C649 389.7 650.3 404.3 651 410L640 430L592 440C590.5 438.5 588.3 443.7 583 431C577.7 418.3 563.8 375.2 560 364L486 393L533 259Z" fill="#fff" stroke="#fff" stroke-width="3.4" stroke-linejoin="round" stroke-linecap="round"/>
<path d="M640 315C640.8 319.2 643.7 329.8 645 340C646.3 350.2 647 364.3 648 376C649 387.7 650.5 404.3 651 410" fill="none" stroke="#333" stroke-width="1.6" stroke-linejoin="round" stroke-linecap="round"/>
<path d="M303 742C297.2 744.2 279.3 751.8 268 755C256.7 758.2 245.7 759 235 761C224.3 763 209.2 766 204 767C204 770.8 203.2 776.2 204 790C204.8 803.8 207.7 831.7 209 850C210.3 868.3 209.3 881.7 212 900C214.7 918.3 221 942.8 225 960C229 977.2 234.2 995.8 236 1003" fill="none" stroke="#000" stroke-width="2.5" stroke-linejoin="round" stroke-linecap="round"/>
<path d="M676 850C678.8 844.5 681.7 838 693 817C704.3 796 735.5 739.5 744 724C747.7 714.8 762.2 682.2 766 669C769.8 655.8 764 656.8 767 645C770 633.2 780 617.2 784 598C788 578.8 789.5 546.3 791 530C792.5 513.7 791.7 505.8 793 500C794.3 494.2 796.3 494.2 799 495C801.7 495.8 804.2 502.5 809 505C813.8 507.5 822.8 506.8 828 510C833.2 513.2 834.7 509.3 840 524C845.3 538.7 856.7 582 860 598C863.3 614 860 616.3 860 620C862.2 621 866.2 619.3 873 626C879.8 632.7 894 642 901 660C908 678 910.2 715 915 734C919.8 753 925.8 755 930 774C934.2 793 938 832.8 940 848C942 863.2 940.8 861 942 865C943.2 869 946.2 870.8 947 872L1034 945L1034 1110L640 1110L676 850Z" fill="#757851" stroke="#000" stroke-width="2.5" stroke-linejoin="round" stroke-linecap="round"/>
<path d="M796.5 512C797.9 513.7 802.2 517.3 805 522C807.8 526.7 811.9 531 813.3 540C814.7 549 811.7 565.8 813.3 575.8C814.9 585.8 822.2 593.3 822.8 599.7C823.4 606.1 817.7 606 816.9 614C816.1 622 816.6 640.4 818 647.6C819.4 654.8 818.4 654.4 825.2 657.2C832 660 853.2 663.2 858.8 664.4C855.6 665.6 845.2 668 839.6 671.6C834 675.2 831.2 682.8 825.2 686C819.2 689.2 807.3 688.9 803.7 690.7C800.1 692.5 802.1 694.7 803.7 696.7C805.3 698.7 810.9 699.3 813.3 702.7C815.7 706.1 815.6 713.4 818 717C820.4 720.6 822.6 722.3 827.6 724.3C832.6 726.3 845.6 725.4 848 729C850.4 732.6 845.4 739.4 842 745.8C838.6 752.2 831.8 760.6 827.6 767.4C823.4 774.2 818.5 779.4 816.9 786.5C815.3 793.6 817.4 802 818 810C818.6 818 819 829.5 820.4 834.4C821.8 839.3 825.4 838.4 826.4 839.2C827.2 835.2 829.4 819.8 831.2 815.2C833 810.6 835.4 808.5 837.2 811.7C839 814.9 840.4 823.9 842 834.4C843.6 844.9 845.2 867 846.8 875C848.4 883 848.8 881.7 851.6 882.3C854.4 882.9 858.7 877.1 863.5 878.7C868.3 880.3 874.7 886.9 880.3 891.9C885.9 896.9 894.2 905.8 897 908.6C893.4 909 881.9 909.4 875.5 911C869.1 912.6 862.8 915 858.8 918.2C854.8 921.4 856 927 851.6 930.2C847.2 933.4 838.4 934.2 832.4 937.4C826.4 940.6 818.9 945.7 815.7 949.3C812.5 952.9 816.1 955.3 813.3 958.9C810.5 962.5 801.7 967.7 798.9 970.9C796.1 974.1 796.9 976.8 796.5 978C799.8 978 807.1 978.2 816 978C824.9 977.8 839.7 977.5 850 977C860.3 976.5 871.2 973.8 877.7 975C884.2 976.2 883 981.7 889 984C895 986.3 907.7 986.2 914 989C920.3 991.8 923.2 997 927 1000.6C930.8 1004.2 935.3 1009 937 1010.7C930.8 1009.9 913.5 1006.8 900 1006C886.5 1005.2 872.7 1005 856 1005.7C839.3 1006.4 826 1009 800 1010C774 1011 716.7 1011.7 700 1012L660 1012L681 852C683.8 846.5 686.7 839.7 698 819C709.3 798.3 736.8 752.7 749 728C761.2 703.3 767.2 684.5 771 671C774.8 657.5 769 658.8 772 647C775 635.2 785.2 619.3 789 600C792.8 580.7 793.8 545.7 795 531C796.2 516.3 796.2 515.2 796.5 512Z" fill="#52553A"/>
<path d="M873 779.3C877.4 778.9 893.5 779 899.5 777C905.5 775 905 769.6 909 767.4C913 765.2 919.8 757.8 923.4 763.8C927 769.8 928.6 791.5 930.6 803.3C932.6 815.1 933 823.6 935.4 834.4C937.8 845.2 941.4 859.2 945 868C948.6 876.8 951.4 879.4 957 887C962.6 894.6 974.9 909 978.5 913.4C976.9 912.6 973 906.6 969 908.6C965 910.6 956.9 922.6 954.5 925.4C951.7 924.2 943.8 918.2 937.8 918.2C931.8 918.2 921.8 924.2 918.6 925.4C917.8 919 915 905.4 913.8 887C912.6 868.6 911.8 827.2 911.4 815.2L897 815.2C896.2 810 896.3 790 892.3 784C888.3 778 876.2 780.1 873 779.3Z" fill="#52553A"/>
<rect x="0" y="1090" width="1425" height="800" fill="#757851"/>
<path d="M1167 1209.5C1183.9 1208.7 1241.2 1206.1 1268.4 1204.5C1295.6 1202.9 1315.1 1201.7 1330 1200C1344.9 1198.3 1348.3 1197.5 1357.9 1194.6C1367.5 1191.7 1377.4 1184.9 1387.7 1182.6C1398 1180.3 1414.6 1181.3 1420 1181L1420 1209.5L1167 1209.5Z" fill="#52553A"/>
<rect x="207" y="1373" width="136" height="13.5" rx="10.8" ry="6.8" fill="#52553A"/>
<rect x="236" y="1378" width="49" height="34" rx="27.2" ry="17" fill="#52553A"/>
<rect x="111" y="1396.5" width="115" height="11.5" rx="9.2" ry="5.8" fill="#52553A"/>
<rect x="268" y="1392.5" width="112" height="11" rx="8.8" ry="5.5" fill="#52553A"/>
<rect x="130" y="1408" width="267" height="17.5" rx="14" ry="8.8" fill="#52553A"/>
<rect x="265" y="1420" width="82" height="14" rx="11.2" ry="7" fill="#52553A"/>
<rect x="225" y="1395" width="75" height="17" rx="13.6" ry="8.5" fill="#52553A"/>
<path d="M365 1614C382.5 1611.7 436.2 1609.7 470 1610C503.8 1610.3 553 1613 568 1616C583 1619 567.2 1625 560 1628C552.8 1631 518.3 1632 525 1634C531.7 1636 567.5 1638 600 1640C632.5 1642 700 1638.7 720 1646C740 1653.3 740 1678 720 1684C700 1690 640 1682 600 1682C560 1682 501.7 1682.7 480 1684C458.3 1685.3 490 1689.7 470 1690C450 1690.3 378.3 1688 360 1686C341.7 1684 352.5 1680.3 360 1678C367.5 1675.7 398.3 1674.3 405 1672C411.7 1669.7 420.8 1664.7 400 1664C379.2 1663.3 300.3 1668.7 280 1668C259.7 1667.3 269.7 1662.3 278 1660C286.3 1657.7 321.3 1656.3 330 1654C338.7 1651.7 334.2 1647.7 330 1646C325.8 1644.3 308.7 1645.3 305 1644C301.3 1642.7 290.5 1639.7 308 1638C325.5 1636.3 392.7 1635.7 410 1634C427.3 1632.3 419.5 1629.7 412 1628C404.5 1626.3 372.8 1626.3 365 1624C357.2 1621.7 347.5 1616.3 365 1614Z" fill="#52553A"/>
<rect x="590" y="1657" width="110" height="15" rx="12" ry="7.5" fill="#757851"/>
<path d="M0 1706C11.7 1706.3 57.3 1706.3 70 1708C82.7 1709.7 79 1713.3 76 1716C73 1718.7 54.7 1721.3 52 1724C49.3 1726.7 35.3 1730.7 60 1732C84.7 1733.3 165.3 1731 200 1732C234.7 1733 257.7 1735.7 268 1738C278.3 1740.3 286.7 1743.7 262 1746C237.3 1748.3 151 1749.7 120 1752C89 1754.3 81 1757.7 76 1760C71 1762.3 71 1764.7 90 1766C109 1767.3 172 1766.7 190 1768C208 1769.3 209.7 1772 198 1774C186.3 1776 146.3 1777.3 120 1780C93.7 1782.7 52.5 1787 40 1790C27.5 1793 1.7 1796 45 1798C88.3 1800 255.3 1800.3 300 1802C344.7 1803.7 313 1806 313 1808C313 1810 322.2 1811.7 300 1814C277.8 1816.3 202.5 1819.3 180 1822C157.5 1824.7 145 1827.7 165 1830C185 1832.3 255.8 1834.7 300 1836C344.2 1837.3 408 1836.3 430 1838C452 1839.7 440.3 1843.7 432 1846C423.7 1848.3 395.3 1850 380 1852C364.7 1854 346.7 1857 340 1858L0 1862L0 1706Z" fill="#52553A"/>
<path d="M725 1322C730.7 1319.3 740.8 1313 760 1312C779.2 1311 818.3 1315 840 1316C861.7 1317 886.7 1314.7 890 1318C893.3 1321.3 867 1330.3 860 1336C853 1341.7 857.2 1349 848 1352C838.8 1355 810.5 1355.3 805 1354C799.5 1352.7 820 1346.3 815 1344C810 1341.7 779.2 1342 775 1340C770.8 1338 798.2 1334 790 1332C781.8 1330 736.8 1329.7 726 1328C715.2 1326.3 719.3 1324.7 725 1322Z" fill="#52553A"/>
<path d="M30 1140C31.7 1125 35 1080 40 1050C45 1020 54.6 987.5 60 960C65.4 932.5 69.1 906.5 72.4 884.8C75.7 863.1 77.8 847.4 80 830C82.2 812.6 84.9 788.7 85.9 780.4C87.1 792 90.7 830.1 93 850C95.3 869.9 98.1 883.5 100 900C101.9 916.5 102.4 934.6 104.4 948.8C106.4 963 109.8 976.6 112 985C114.2 993.4 115.7 973.2 117.9 999C120.1 1024.8 123.8 1116.5 125 1140L125 1142 L30 1142 Z" fill="#4F6831" stroke="#4F6831" stroke-width="1.5"/>
<path d="M30 1140C31.7 1125 35 1080 40 1050C45 1020 54.6 987.5 60 960C65.4 932.5 69.1 906.5 72.4 884.8C75.7 863.1 77.8 847.4 80 830C82.2 812.6 84.9 788.7 85.9 780.4C87.1 792 90.7 830.1 93 850C95.3 869.9 98.1 883.5 100 900C101.9 916.5 102.4 934.6 104.4 948.8C106.4 963 109.8 976.6 112 985C114.2 993.4 115.7 973.2 117.9 999C120.1 1024.8 123.8 1116.5 125 1140" fill="none" stroke="#000" stroke-width="2.2" stroke-linejoin="round" stroke-linecap="round"/>
<path d="M110 1140C111.3 1116.5 115.7 1024.8 117.9 999C120.1 973.2 120.8 995 123 985C125.2 975 126.8 956 131 938.7C135.2 921.5 143.2 899.6 148 881.5C152.8 863.4 156.9 846.9 160 830C163.1 813.1 165.6 788.7 166.7 780.4C167.9 790.3 171.8 823.4 174 840C176.2 856.6 176.5 860 180 880C183.5 900 189.2 916.7 195 960C200.8 1003.3 211.7 1110 215 1140L215 1142 L110 1142 Z" fill="#4F6831" stroke="#4F6831" stroke-width="1.5"/>
<path d="M110 1140C111.3 1116.5 115.7 1024.8 117.9 999C120.1 973.2 120.8 995 123 985C125.2 975 126.8 956 131 938.7C135.2 921.5 143.2 899.6 148 881.5C152.8 863.4 156.9 846.9 160 830C163.1 813.1 165.6 788.7 166.7 780.4C167.9 790.3 171.8 823.4 174 840C176.2 856.6 176.5 860 180 880C183.5 900 189.2 916.7 195 960C200.8 1003.3 211.7 1110 215 1140" fill="none" stroke="#000" stroke-width="2.2" stroke-linejoin="round" stroke-linecap="round"/>
<path d="M235 1140C236.8 1117.1 240.2 1030.1 246 1002.7C251.8 975.3 262.8 991.5 269.5 975.8C276.2 960.1 281.8 930.9 286.3 908.4C290.8 885.9 293.1 859.1 296.4 841C299.7 822.9 302.7 815.6 306 800C309.3 784.4 314.3 756.2 316 747.4C317.7 756.2 322.5 784.4 326 800C329.5 815.6 333.8 824.3 336.8 841C339.8 857.7 341.8 882 344 900C346.2 918 347.3 934.2 350 948.8C352.7 963.4 356.2 955.7 360.4 987.6C364.6 1019.5 372.6 1114.6 375 1140L375 1142 L235 1142 Z" fill="#4F6831" stroke="#4F6831" stroke-width="1.5"/>
<path d="M235 1140C236.8 1117.1 240.2 1030.1 246 1002.7C251.8 975.3 262.8 991.5 269.5 975.8C276.2 960.1 281.8 930.9 286.3 908.4C290.8 885.9 293.1 859.1 296.4 841C299.7 822.9 302.7 815.6 306 800C309.3 784.4 314.3 756.2 316 747.4C317.7 756.2 322.5 784.4 326 800C329.5 815.6 333.8 824.3 336.8 841C339.8 857.7 341.8 882 344 900C346.2 918 347.3 934.2 350 948.8C352.7 963.4 356.2 955.7 360.4 987.6C364.6 1019.5 372.6 1114.6 375 1140" fill="none" stroke="#000" stroke-width="2.2" stroke-linejoin="round" stroke-linecap="round"/>
<path d="M390 1140C390.8 1116.7 392.5 1040 395 1000C397.5 960 402.8 923.3 405 900C407.2 876.7 406.3 874.6 408 860C409.7 845.4 413.8 820.3 415 812.4C416.2 820.3 419.8 845.4 422 860C424.2 874.6 423.7 879.6 428 900C432.3 920.4 442.7 942.5 448 982.5C453.3 1022.5 458 1113.8 460 1140L460 1142 L390 1142 Z" fill="#4F6831" stroke="#4F6831" stroke-width="1.5"/>
<path d="M390 1140C390.8 1116.7 392.5 1040 395 1000C397.5 960 402.8 923.3 405 900C407.2 876.7 406.3 874.6 408 860C409.7 845.4 413.8 820.3 415 812.4C416.2 820.3 419.8 845.4 422 860C424.2 874.6 423.7 879.6 428 900C432.3 920.4 442.7 942.5 448 982.5C453.3 1022.5 458 1113.8 460 1140" fill="none" stroke="#000" stroke-width="2.2" stroke-linejoin="round" stroke-linecap="round"/>
<path d="M440 1140C442.3 1113.8 449.7 1015.5 454 982.5C458.3 949.5 460.4 960 465.7 942C471 924 480.9 895 486 874.7C491.1 854.4 492.9 837.7 496 820C499.1 802.3 503 777.2 504.4 768.6C505.7 775.5 509.7 797.9 512 810C514.3 822.1 514.2 821.8 518 841C521.8 860.2 529.7 896.9 534.7 925C539.7 953.1 544.1 989.8 548 1009.5C551.9 1029.2 554.3 1019.6 558 1043C561.7 1066.4 568 1132.2 570 1150L570 1152 L440 1152 Z" fill="#4F6831" stroke="#4F6831" stroke-width="1.5"/>
<path d="M440 1140C442.3 1113.8 449.7 1015.5 454 982.5C458.3 949.5 460.4 960 465.7 942C471 924 480.9 895 486 874.7C491.1 854.4 492.9 837.7 496 820C499.1 802.3 503 777.2 504.4 768.6C505.7 775.5 509.7 797.9 512 810C514.3 822.1 514.2 821.8 518 841C521.8 860.2 529.7 896.9 534.7 925C539.7 953.1 544.1 989.8 548 1009.5C551.9 1029.2 554.3 1019.6 558 1043C561.7 1066.4 568 1132.2 570 1150" fill="none" stroke="#000" stroke-width="2.2" stroke-linejoin="round" stroke-linecap="round"/>
<path d="M620 1140C619.3 1114.8 619.1 1024.8 615.6 989C612.1 953.2 601.8 944 598.7 925C595.6 906 595.3 888.7 597 874.7C598.7 860.7 606 850.1 608.8 841C611.6 831.9 611.8 829.2 614 820C616.2 810.8 620.9 791.2 622.3 785.5C623.6 792.1 627.8 814.1 630 825C632.2 835.9 632 838.2 635.8 851C639.6 863.8 647.6 888.8 652.6 901.7C657.6 914.6 665.4 916.2 666 928.6C666.6 941 658.7 940.6 656 975.8C653.3 1011 651 1112.6 650 1140L650 1142 L620 1142 Z" fill="#4F6831" stroke="#4F6831" stroke-width="1.5"/>
<path d="M620 1140C619.3 1114.8 619.1 1024.8 615.6 989C612.1 953.2 601.8 944 598.7 925C595.6 906 595.3 888.7 597 874.7C598.7 860.7 606 850.1 608.8 841C611.6 831.9 611.8 829.2 614 820C616.2 810.8 620.9 791.2 622.3 785.5C623.6 792.1 627.8 814.1 630 825C632.2 835.9 632 838.2 635.8 851C639.6 863.8 647.6 888.8 652.6 901.7C657.6 914.6 665.4 916.2 666 928.6C666.6 941 658.7 940.6 656 975.8C653.3 1011 651 1112.6 650 1140" fill="none" stroke="#000" stroke-width="2.2" stroke-linejoin="round" stroke-linecap="round"/>
<path d="M66.7 1250 L66.7 1283 Q72.6 1287 78.5 1283 L78.5 1250 Z" fill="#4E3629" stroke="#000" stroke-width="2" stroke-linejoin="round"/>
<path d="M195 1255 L195 1292 Q201 1296 207 1292 L207 1255 Z" fill="#4E3629" stroke="#000" stroke-width="2" stroke-linejoin="round"/>
<path d="M403.5 1220 L403.5 1267 Q409.8 1271 416 1267 L416 1220 Z" fill="#4E3629" stroke="#000" stroke-width="2" stroke-linejoin="round"/>
<path d="M584.6 1210 L584.6 1255 Q589.8 1259 595 1255 L595 1210 Z" fill="#4E3629" stroke="#000" stroke-width="2" stroke-linejoin="round"/>
<path d="M682 1200 L682 1233 Q687.5 1237 693 1233 L693 1200 Z" fill="#4E3629" stroke="#000" stroke-width="2" stroke-linejoin="round"/>
<path d="M0 1130L720 1130C718.7 1135 713.7 1150 712 1160C710.3 1170 711.5 1182 710 1190C708.5 1198 704.2 1205 703 1208C699.7 1208.3 690.8 1211.1 683 1210C675.2 1208.9 660.5 1202.9 656 1201.5C653.8 1203.8 649.2 1212.2 642.5 1215C635.8 1217.8 628 1217.5 615.6 1218C603.2 1218.5 583.9 1216.3 568 1218C552.1 1219.7 536.3 1225.2 520 1228C503.7 1230.8 484.2 1232.4 470 1235C455.8 1237.6 440.4 1242.2 434.5 1243.6C430 1240.8 417.1 1227.5 407.5 1226.7C397.9 1225.9 385.4 1237.7 377 1238.5C368.6 1239.3 369.8 1229.9 357 1231.8C344.2 1233.7 316.2 1245 300 1250C283.8 1255 269.6 1261.2 260 1262C250.4 1262.8 251 1255 242.5 1255C234 1255 220.1 1259.7 208.8 1262C197.6 1264.3 183.5 1265.7 175 1268.8C166.5 1271.9 160.8 1278.6 158 1280.6C156.3 1277.5 153 1264.8 148 1262C143 1259.2 134.7 1264 128 1264C121.3 1264 111.2 1262.3 107.8 1262C106.7 1258.1 105.5 1241.3 101 1238.5C96.5 1235.7 91 1241.1 80.8 1245C70.6 1248.9 53.5 1257.8 40 1262C26.5 1266.2 6.7 1268.7 0 1270L0 1130Z" fill="#3C4E26" stroke="#000" stroke-width="2.2" stroke-linejoin="round" stroke-linecap="round"/>
<rect x="574" y="1003" width="140" height="140" fill="#3C4E26"/>
<path d="M20 1140C21 1123.3 24.3 1065 26 1040C27.7 1015 28.9 1004.3 30 990C31.1 975.7 31.5 966 32.5 954C33.5 942 33.9 927 36 918C38.1 909 42.3 908 45 900C47.7 892 49.7 880.8 52 870C54.3 859.2 57.8 841.1 58.9 835.3C60.1 841.1 63.8 858.9 66 870C68.2 881.1 68.6 893.1 72.4 901.7C76.2 910.4 85.4 909.5 89 921.9C92.6 934.2 90.3 955.6 94 975.8C97.7 996 105.9 1020.7 111 1043C116.1 1065.3 121.3 1094.8 124.6 1109.8C127.9 1124.8 129.9 1129.1 131 1133L131 1145 L20 1145 Z" fill="#3C4E26" stroke="#3C4E26" stroke-width="1.5"/>
<path d="M20 1140C21 1123.3 24.3 1065 26 1040C27.7 1015 28.9 1004.3 30 990C31.1 975.7 31.5 966 32.5 954C33.5 942 33.9 927 36 918C38.1 909 42.3 908 45 900C47.7 892 49.7 880.8 52 870C54.3 859.2 57.8 841.1 58.9 835.3C60.1 841.1 63.8 858.9 66 870C68.2 881.1 68.6 893.1 72.4 901.7C76.2 910.4 85.4 909.5 89 921.9C92.6 934.2 90.3 955.6 94 975.8C97.7 996 105.9 1020.7 111 1043C116.1 1065.3 121.3 1094.8 124.6 1109.8C127.9 1124.8 129.9 1129.1 131 1133" fill="none" stroke="#000" stroke-width="2.2" stroke-linejoin="round" stroke-linecap="round"/>
<path d="M131 1133C132.2 1130.5 135.7 1126.2 138 1118C140.3 1109.8 142 1098.8 144.8 1083.5C147.6 1068.2 151.6 1045.6 155 1026C158.4 1006.4 160.5 988.1 165 965.7C169.5 943.3 178.2 909.2 182 891.6C185.8 874 186.1 872.5 188 860C189.9 847.5 192.8 824 193.7 816.8C194.9 824 198.5 845.9 201 860C203.5 874.1 205.3 883.5 208.8 901.7C212.3 919.9 217 951 222 969C227 987 234.5 997.6 239 1009.4C243.5 1021.2 245.9 1031.6 249 1040C252.1 1048.4 256.2 1056.7 257.7 1060L257.7 1145 L131 1145 Z" fill="#3C4E26" stroke="#3C4E26" stroke-width="1.5"/>
<path d="M131 1133C132.2 1130.5 135.7 1126.2 138 1118C140.3 1109.8 142 1098.8 144.8 1083.5C147.6 1068.2 151.6 1045.6 155 1026C158.4 1006.4 160.5 988.1 165 965.7C169.5 943.3 178.2 909.2 182 891.6C185.8 874 186.1 872.5 188 860C189.9 847.5 192.8 824 193.7 816.8C194.9 824 198.5 845.9 201 860C203.5 874.1 205.3 883.5 208.8 901.7C212.3 919.9 217 951 222 969C227 987 234.5 997.6 239 1009.4C243.5 1021.2 245.9 1031.6 249 1040C252.1 1048.4 256.2 1056.7 257.7 1060" fill="none" stroke="#000" stroke-width="2.2" stroke-linejoin="round" stroke-linecap="round"/>
<path d="M257.7 1060C259.1 1056.7 263.1 1050 266 1040C268.9 1030 271.7 1016.3 275 1000C278.3 983.7 283 957 286 942C289 927 290.5 922 293 910C295.5 898 299.5 876.4 300.8 869.7C302.2 876.4 306.4 898 309 910C311.6 922 312 922.7 316.6 942C321.2 961.3 331.2 1008 336.8 1026C342.4 1044 345.8 1043.5 350 1050C354.2 1056.5 360 1062.5 362 1065L362 1145 L257.7 1145 Z" fill="#3C4E26" stroke="#3C4E26" stroke-width="1.5"/>
<path d="M257.7 1060C259.1 1056.7 263.1 1050 266 1040C268.9 1030 271.7 1016.3 275 1000C278.3 983.7 283 957 286 942C289 927 290.5 922 293 910C295.5 898 299.5 876.4 300.8 869.7C302.2 876.4 306.4 898 309 910C311.6 922 312 922.7 316.6 942C321.2 961.3 331.2 1008 336.8 1026C342.4 1044 345.8 1043.5 350 1050C354.2 1056.5 360 1062.5 362 1065" fill="none" stroke="#000" stroke-width="2.2" stroke-linejoin="round" stroke-linecap="round"/>
<path d="M362 1065C364 1058.5 370.8 1041.2 373.9 1026.3C377 1011.4 378.4 999.9 380.6 975.8C382.8 951.7 384.4 904.1 387 881.5C389.6 858.9 393.2 855.8 396 840C398.8 824.2 402.7 795.8 404 787C405.5 797.5 409.7 829.8 413 850C416.3 870.2 418.2 885.9 424 908C429.8 930.1 440.1 962.8 448 982.5C455.9 1002.2 464.5 999.8 471.5 1026C478.5 1052.2 486.9 1121 490 1140L490 1145 L362 1145 Z" fill="#3C4E26" stroke="#3C4E26" stroke-width="1.5"/>
<path d="M362 1065C364 1058.5 370.8 1041.2 373.9 1026.3C377 1011.4 378.4 999.9 380.6 975.8C382.8 951.7 384.4 904.1 387 881.5C389.6 858.9 393.2 855.8 396 840C398.8 824.2 402.7 795.8 404 787C405.5 797.5 409.7 829.8 413 850C416.3 870.2 418.2 885.9 424 908C429.8 930.1 440.1 962.8 448 982.5C455.9 1002.2 464.5 999.8 471.5 1026C478.5 1052.2 486.9 1121 490 1140" fill="none" stroke="#000" stroke-width="2.2" stroke-linejoin="round" stroke-linecap="round"/>
<path d="M552 1140C552.7 1133.3 554.4 1127.4 556 1100C557.6 1072.6 558.5 1005 561.7 975.8C564.9 946.6 572 941 575 925C578 909 578.4 896 580 880C581.6 864 583.8 837.5 584.6 829C585.3 834.2 587.5 851.2 589 860C590.5 868.8 591.5 867.8 593.7 881.5C595.9 895.2 599.6 922.2 602 942C604.4 961.8 607 990.3 608 1000L608 1145 L552 1145 Z" fill="#3C4E26" stroke="#3C4E26" stroke-width="1.5"/>
<path d="M552 1140C552.7 1133.3 554.4 1127.4 556 1100C557.6 1072.6 558.5 1005 561.7 975.8C564.9 946.6 572 941 575 925C578 909 578.4 896 580 880C581.6 864 583.8 837.5 584.6 829C585.3 834.2 587.5 851.2 589 860C590.5 868.8 591.5 867.8 593.7 881.5C595.9 895.2 599.6 922.2 602 942C604.4 961.8 607 990.3 608 1000" fill="none" stroke="#000" stroke-width="2.2" stroke-linejoin="round" stroke-linecap="round"/>
<path d="M652.6 1000C653.7 993.2 656.2 977.1 659 959C661.8 940.9 666.9 907.3 669.4 891.6C671.9 875.9 672.3 875.6 674 865C675.7 854.4 678.7 834.2 679.6 828C680.3 834.2 682.6 854.4 684 865C685.4 875.6 685.4 875.9 688 891.6C690.6 907.3 697 941.6 699.8 959C702.6 976.4 702.8 972.5 704.8 996C706.8 1019.5 710.5 1076 712 1100C713.5 1124 713.7 1133.3 714 1140L714 1145 L652.6 1145 Z" fill="#3C4E26" stroke="#3C4E26" stroke-width="1.5"/>
<path d="M652.6 1000C653.7 993.2 656.2 977.1 659 959C661.8 940.9 666.9 907.3 669.4 891.6C671.9 875.9 672.3 875.6 674 865C675.7 854.4 678.7 834.2 679.6 828C680.3 834.2 682.6 854.4 684 865C685.4 875.6 685.4 875.9 688 891.6C690.6 907.3 697 941.6 699.8 959C702.6 976.4 702.8 972.5 704.8 996C706.8 1019.5 710.5 1076 712 1100C713.5 1124 713.7 1133.3 714 1140" fill="none" stroke="#000" stroke-width="2.2" stroke-linejoin="round" stroke-linecap="round"/>
<rect x="0" y="1125" width="716" height="20" fill="#3C4E26"/>
<path d="M48 930C49.3 931.2 53.7 936.8 56 937.2C58.3 937.6 60 931.6 62 932.4C64 933.2 66 942 68 942C70 942 72 933.2 74 932.4C76 931.6 77.7 937.8 80 937.2C82.3 936.6 86.7 930.2 88 928.8C86.7 929.5 82.3 933.2 80 933C77.7 932.8 76 927 74 927.6C72 928.2 70 936.6 68 936.6C66 936.6 64 928.2 62 927.6C60 927 58.3 932.6 56 933C53.7 933.4 49.3 930.5 48 930Z" fill="#26331A"/>
<path d="M40 1005C41.7 1006.4 47.1 1012.9 50 1013.4C52.9 1013.9 55 1006.9 57.5 1007.8C60 1008.7 62.5 1019 65 1019C67.5 1019 70 1008.7 72.5 1007.8C75 1006.9 77.1 1014.1 80 1013.4C82.9 1012.7 88.3 1005.2 90 1003.6C88.3 1004.4 82.9 1008.7 80 1008.5C77.1 1008.3 75 1001.5 72.5 1002.2C70 1002.9 67.5 1012.7 65 1012.7C62.5 1012.7 60 1002.9 57.5 1002.2C55 1001.5 52.9 1008 50 1008.5C47.1 1009 41.7 1005.6 40 1005Z" fill="#26331A"/>
<path d="M75 1070C76 1071.4 79.2 1077.9 81 1078.4C82.8 1078.9 84 1071.9 85.5 1072.8C87 1073.7 88.5 1084 90 1084C91.5 1084 93 1073.7 94.5 1072.8C96 1071.9 97.2 1079.1 99 1078.4C100.8 1077.7 104 1070.2 105 1068.6C104 1069.4 100.8 1073.7 99 1073.5C97.2 1073.3 96 1066.5 94.5 1067.2C93 1067.9 91.5 1077.7 90 1077.7C88.5 1077.7 87 1067.9 85.5 1067.2C84 1066.5 82.8 1073 81 1073.5C79.2 1074 76 1070.6 75 1070Z" fill="#26331A"/>
<path d="M165 975C166.3 976.4 170.7 982.9 173 983.4C175.3 983.9 177 976.9 179 977.8C181 978.7 183 989 185 989C187 989 189 978.7 191 977.8C193 976.9 194.7 984.1 197 983.4C199.3 982.7 203.7 975.2 205 973.6C203.7 974.4 199.3 978.7 197 978.5C194.7 978.3 193 971.5 191 972.2C189 972.9 187 982.7 185 982.7C183 982.7 181 972.9 179 972.2C177 971.5 175.3 978 173 978.5C170.7 979 166.3 975.6 165 975Z" fill="#26331A"/>
<path d="M160 1055C161 1056.2 164.2 1061.8 166 1062.2C167.8 1062.6 169 1056.6 170.5 1057.4C172 1058.2 173.5 1067 175 1067C176.5 1067 178 1058.2 179.5 1057.4C181 1056.6 182.2 1062.8 184 1062.2C185.8 1061.6 189 1055.2 190 1053.8C189 1054.5 185.8 1058.2 184 1058C182.2 1057.8 181 1052 179.5 1052.6C178 1053.2 176.5 1061.6 175 1061.6C173.5 1061.6 172 1053.2 170.5 1052.6C169 1052 167.8 1057.6 166 1058C164.2 1058.4 161 1055.5 160 1055Z" fill="#26331A"/>
<path d="M185 1110C186.8 1111.4 192.8 1117.9 196 1118.4C199.2 1118.9 201.5 1111.9 204.2 1112.8C207 1113.7 209.8 1124 212.5 1124C215.2 1124 218 1113.7 220.8 1112.8C223.5 1111.9 225.8 1119.1 229 1118.4C232.2 1117.7 238.2 1110.2 240 1108.6C238.2 1109.4 232.2 1113.7 229 1113.5C225.8 1113.3 223.5 1106.5 220.8 1107.2C218 1107.9 215.2 1117.7 212.5 1117.7C209.8 1117.7 207 1107.9 204.2 1107.2C201.5 1106.5 199.2 1113 196 1113.5C192.8 1114 186.8 1110.6 185 1110Z" fill="#26331A"/>
<path d="M135 1140C136.8 1141.6 142.8 1149.1 146 1149.6C149.2 1150.1 151.5 1142.1 154.2 1143.2C157 1144.3 159.8 1156 162.5 1156C165.2 1156 168 1144.3 170.8 1143.2C173.5 1142.1 175.8 1150.4 179 1149.6C182.2 1148.8 188.2 1140.3 190 1138.4C188.2 1139.3 182.2 1144.3 179 1144C175.8 1143.7 173.5 1136 170.8 1136.8C168 1137.6 165.2 1148.8 162.5 1148.8C159.8 1148.8 157 1137.6 154.2 1136.8C151.5 1136 149.2 1143.5 146 1144C142.8 1144.5 136.8 1140.7 135 1140Z" fill="#26331A"/>
<path d="M150 1215C153 1216.6 162.8 1224.1 168 1224.6C173.2 1225.1 177 1217.1 181.5 1218.2C186 1219.3 190.5 1231 195 1231C199.5 1231 204 1219.3 208.5 1218.2C213 1217.1 216.8 1225.4 222 1224.6C227.2 1223.8 237 1215.3 240 1213.4C237 1214.3 227.2 1219.3 222 1219C216.8 1218.7 213 1211 208.5 1211.8C204 1212.6 199.5 1223.8 195 1223.8C190.5 1223.8 186 1212.6 181.5 1211.8C177 1211 173.2 1218.5 168 1219C162.8 1219.5 153 1215.7 150 1215Z" fill="#26331A"/>
<path d="M360 1080C362.3 1081.6 369.9 1089.1 374 1089.6C378.1 1090.1 381 1082.1 384.5 1083.2C388 1084.3 391.5 1096 395 1096C398.5 1096 402 1084.3 405.5 1083.2C409 1082.1 411.9 1090.4 416 1089.6C420.1 1088.8 427.7 1080.3 430 1078.4C427.7 1079.3 420.1 1084.3 416 1084C411.9 1083.7 409 1076 405.5 1076.8C402 1077.6 398.5 1088.8 395 1088.8C391.5 1088.8 388 1077.6 384.5 1076.8C381 1076 378.1 1083.5 374 1084C369.9 1084.5 362.3 1080.7 360 1080Z" fill="#26331A"/>
<path d="M590 1100C591.3 1101.4 595.7 1107.9 598 1108.4C600.3 1108.9 602 1101.9 604 1102.8C606 1103.7 608 1114 610 1114C612 1114 614 1103.7 616 1102.8C618 1101.9 619.7 1109.1 622 1108.4C624.3 1107.7 628.7 1100.2 630 1098.6C628.7 1099.4 624.3 1103.7 622 1103.5C619.7 1103.3 618 1096.5 616 1097.2C614 1097.9 612 1107.7 610 1107.7C608 1107.7 606 1097.9 604 1097.2C602 1096.5 600.3 1103 598 1103.5C595.7 1104 591.3 1100.6 590 1100Z" fill="#26331A"/>
<path d="M575 1180C578 1181.6 587.8 1189.1 593 1189.6C598.2 1190.1 602 1182.1 606.5 1183.2C611 1184.3 615.5 1196 620 1196C624.5 1196 629 1184.3 633.5 1183.2C638 1182.1 641.8 1190.4 647 1189.6C652.2 1188.8 662 1180.3 665 1178.4C662 1179.3 652.2 1184.3 647 1184C641.8 1183.7 638 1176 633.5 1176.8C629 1177.6 624.5 1188.8 620 1188.8C615.5 1188.8 611 1177.6 606.5 1176.8C602 1176 598.2 1183.5 593 1184C587.8 1184.5 578 1180.7 575 1180Z" fill="#26331A"/>
<path d="M400 1020C401 1021 404.2 1025.7 406 1026C407.8 1026.3 409 1021.3 410.5 1022C412 1022.7 413.5 1030 415 1030C416.5 1030 418 1022.7 419.5 1022C421 1021.3 422.2 1026.5 424 1026C425.8 1025.5 429 1020.2 430 1019C429 1019.6 425.8 1022.7 424 1022.5C422.2 1022.3 421 1017.5 419.5 1018C418 1018.5 416.5 1025.5 415 1025.5C413.5 1025.5 412 1018.5 410.5 1018C409 1017.5 407.8 1022.2 406 1022.5C404.2 1022.8 401 1020.4 400 1020Z" fill="#26331A"/>
<path d="M70 1180C73.3 1173.3 81.7 1147.5 90 1140C98.3 1132.5 114.2 1131.7 120 1135C125.8 1138.3 125.8 1150.8 125 1160C124.2 1169.2 116.2 1179.2 115 1190C113.8 1200.8 120.5 1217 118 1225C115.5 1233 106.3 1236.2 100 1238C93.7 1239.8 80.8 1242.3 80 1236C79.2 1229.7 96.7 1209.3 95 1200C93.3 1190.7 74.2 1183.3 70 1180Z" fill="#26331A"/>
<path d="M0 922L12 924C13.6 924.2 20.2 924 22.9 925.2C25.6 926.5 28.8 931.4 29.8 932.5L23.8 934.8L27.8 936.5L28.6 939.2L31.6 941L22.6 941.5C23.7 941.9 28.4 942.3 30 944C31.6 945.6 32.9 951.1 33.4 952.4L27.4 958.2L31.4 962.9L29.5 969.9L32.5 974.6L23.5 975.8C24.9 976.3 30.9 977.2 33.1 979.1C35.4 981.1 38 987.1 38.8 988.5L32.8 995.3L36.8 1000.7L31.3 1008.8L34.3 1014.2L25.3 1015.6C27.1 1017.2 34.2 1022.1 37.1 1026.2C40.1 1030.2 43.8 1040.2 45 1042.7L39 1046.3L43 1049.1L33 1053.4L36 1056.3L27 1057C29.7 1057.8 40.1 1060 44.9 1062.5C49.6 1065 56.6 1072.3 58.7 1074L52.7 1076.2L56.7 1078L36 1080.8L39 1082.5L30 1083C32.4 1084.1 41.7 1087.3 45.9 1090.5C50.1 1093.7 56 1102 57.8 1104L51.8 1105.4L55.8 1106.5L40.3 1108.1L43.3 1109.2L34.3 1109.5C36.7 1110.6 46.1 1113.7 50.3 1116.8C54.5 1119.8 60.5 1128 62.3 1130L56.3 1133L60.3 1135.4L42 1139L45 1141.4L36 1142C38.5 1142.6 48.5 1143.9 53 1146C57.5 1148.1 64 1154.5 66 1156L60 1159L64 1161.4L54.8 1165L57.8 1167.4L48.8 1168C51.3 1169.7 61.2 1174.8 65.7 1179C70.1 1183.2 76.6 1193.5 78.5 1196L72.5 1198.8L76.5 1201L56.6 1204.2L59.6 1206.5L50.6 1207C52.6 1207.9 60.4 1210.3 63.8 1213C67.2 1215.7 71.6 1223.2 73 1225L67 1228.6L71 1231.5L71 1235.9L74 1238.8L65 1239.5C66.9 1239.5 74.6 1238.7 77.8 1239.7C81.1 1240.6 85.4 1244.9 86.7 1245.8L79.5 1263L70 1258L62 1266L54 1262L44 1271L32.5 1266L22 1273L12.6 1265L0 1266L0 922Z" fill="#4F6831" stroke="#000" stroke-width="2.2" stroke-linejoin="round" stroke-linecap="round"/>
<path d="M12 1010C12.7 1010.9 15.1 1015.1 16.4 1015.4C17.7 1015.7 18.6 1011.2 19.7 1011.8C20.8 1012.4 21.9 1019 23 1019C24.1 1019 25.2 1012.4 26.3 1011.8C27.4 1011.2 28.3 1015.8 29.6 1015.4C30.9 1015 33.3 1010.1 34 1009.1C33.3 1009.6 30.9 1012.4 29.6 1012.2C28.3 1012.1 27.4 1007.8 26.3 1008.2C25.2 1008.7 24.1 1015 23 1015C21.9 1015 20.8 1008.7 19.7 1008.2C18.6 1007.8 17.7 1012 16.4 1012.2C15.1 1012.5 12.7 1010.4 12 1010Z" fill="#3A5224"/>
<path d="M12 1085C12.9 1086 15.7 1090.7 17.2 1091C18.7 1091.3 19.8 1086.3 21.1 1087C22.4 1087.7 23.7 1095 25 1095C26.3 1095 27.6 1087.7 28.9 1087C30.2 1086.3 31.3 1091.5 32.8 1091C34.3 1090.5 37.1 1085.2 38 1084C37.1 1084.6 34.3 1087.7 32.8 1087.5C31.3 1087.3 30.2 1082.5 28.9 1083C27.6 1083.5 26.3 1090.5 25 1090.5C23.7 1090.5 22.4 1083.5 21.1 1083C19.8 1082.5 18.7 1087.2 17.2 1087.5C15.7 1087.8 12.9 1085.4 12 1085Z" fill="#3A5224"/>
<path d="M14 1150C15 1151 18.2 1155.7 20 1156C21.8 1156.3 23 1151.3 24.5 1152C26 1152.7 27.5 1160 29 1160C30.5 1160 32 1152.7 33.5 1152C35 1151.3 36.2 1156.5 38 1156C39.8 1155.5 43 1150.2 44 1149C43 1149.6 39.8 1152.7 38 1152.5C36.2 1152.3 35 1147.5 33.5 1148C32 1148.5 30.5 1155.5 29 1155.5C27.5 1155.5 26 1148.5 24.5 1148C23 1147.5 21.8 1152.2 20 1152.5C18.2 1152.8 15 1150.4 14 1150Z" fill="#3A5224"/>
<path d="M12 1205C13.3 1206.2 17.7 1211.8 20 1212.2C22.3 1212.6 24 1206.6 26 1207.4C28 1208.2 30 1217 32 1217C34 1217 36 1208.2 38 1207.4C40 1206.6 41.7 1212.8 44 1212.2C46.3 1211.6 50.7 1205.2 52 1203.8C50.7 1204.5 46.3 1208.2 44 1208C41.7 1207.8 40 1202 38 1202.6C36 1203.2 34 1211.6 32 1211.6C30 1211.6 28 1203.2 26 1202.6C24 1202 22.3 1207.6 20 1208C17.7 1208.4 13.3 1205.5 12 1205Z" fill="#3A5224"/>
<path d="M16 1238C17.6 1239.2 22.8 1244.8 25.6 1245.2C28.4 1245.6 30.4 1239.6 32.8 1240.4C35.2 1241.2 37.6 1250 40 1250C42.4 1250 44.8 1241.2 47.2 1240.4C49.6 1239.6 51.6 1245.8 54.4 1245.2C57.2 1244.6 62.4 1238.2 64 1236.8C62.4 1237.5 57.2 1241.2 54.4 1241C51.6 1240.8 49.6 1235 47.2 1235.6C44.8 1236.2 42.4 1244.6 40 1244.6C37.6 1244.6 35.2 1236.2 32.8 1235.6C30.4 1235 28.4 1240.6 25.6 1241C22.8 1241.4 17.6 1238.5 16 1238Z" fill="#3A5224"/>
<path d="M302.7 1303V1335Q309 1340 315.3 1335V1303Z" fill="#4E3629" stroke="#000" stroke-width="2" stroke-linejoin="round"/>
<path d="M278 1305.1C277.2 1304.9 275.2 1303.4 272.1 1303.1C268.9 1302.8 256.7 1303.1 254.3 1303.1L258.8 1300L242.5 1300.3L246.9 1297.5L235.1 1293.4C235.9 1293.3 238.6 1293.8 241 1292.9C243.5 1292.1 248.8 1288.4 253.4 1286.8C258 1285.3 271.6 1282.2 275.8 1281.3C279.9 1280.3 283.7 1279.9 284.9 1279.7C284.3 1279.5 282.7 1278 280.3 1277.7C277.8 1277.4 268.3 1277.7 266.5 1277.7L269.9 1274.7L257.3 1274.9L260.7 1272.1L251.6 1267.8C252.2 1267.7 254.3 1268.4 256.2 1267.6C258 1266.7 262.2 1263 265.8 1261.5C269.4 1259.9 281 1256.8 283.1 1255.9C285.3 1254.9 281.8 1254.6 281.6 1254.4C280.9 1254.1 279.1 1252.6 276.4 1252.3C273.6 1252.1 262.8 1252.3 260.7 1252.3L264.6 1249.3L250.2 1249.5L254.2 1246.7L243.7 1243.1C244.4 1243 246.8 1243.1 248.9 1242.2C251.1 1241.2 255.8 1237.6 259.9 1236.1C264 1234.5 276 1231.4 279.6 1230.5C283.2 1229.5 285.8 1229.2 286.7 1229C286.2 1228.7 284.7 1227.2 282.5 1226.9C280.2 1226.7 271.4 1226.9 269.7 1226.9L272.9 1223.9L261.3 1224.1L264.4 1221.4L256 1216.4C256.5 1216.4 258.4 1217.5 260.2 1216.8C261.9 1216 265.8 1212.3 269.1 1210.7C272.4 1209.1 282.7 1206.1 285.1 1205.1C287.6 1204.2 287 1203.8 287.3 1203.6C286.7 1203.3 285.3 1201.8 283.1 1201.6C280.9 1201.3 272.4 1201.6 270.7 1201.6L273.8 1198.5L262.4 1198.8L265.5 1196L257.3 1191.3C257.8 1191.3 259.7 1192.2 261.4 1191.4C263.1 1190.6 266.8 1186.9 270.1 1185.3C273.3 1183.8 283.4 1180.7 285.7 1179.7C288.1 1178.8 287.3 1178.4 287.6 1178.2C287.1 1177.9 285.7 1176.4 283.5 1176.2C281.3 1175.9 272.9 1176.2 271.3 1176.2L274.3 1173.1L263.1 1173.4L266.2 1170.6L258 1167C258.6 1166.9 260.4 1167 262.1 1166C263.8 1165.1 267.5 1161.5 270.7 1159.9C273.8 1158.4 283.6 1155.3 286.1 1154.3C288.5 1153.4 288.8 1153 289.2 1152.8C288.7 1152.6 287.4 1151.1 285.4 1150.8C283.4 1150.5 275.6 1150.8 274.1 1150.8L276.9 1147.7L266.5 1148L269.4 1145.2L261.8 1141C262.3 1141 264 1141.5 265.6 1140.6C267.1 1139.8 270.5 1136.1 273.5 1134.5C276.4 1133 285.1 1129.9 287.8 1129C290.5 1128 293 1127.6 293.8 1127.4C293.4 1127.2 292.4 1125.7 290.9 1125.4C289.3 1125.1 283.3 1125.4 282.2 1125.4L284.4 1122.4L276.4 1122.6L278.6 1119.8L272.8 1116.2C273.1 1116.1 274.5 1116.2 275.7 1115.3C276.8 1114.3 279.5 1110.7 281.7 1109.2C284 1107.6 291.1 1104.5 292.7 1103.6C294.3 1102.6 293.6 1102.3 293.8 1102.1C293.4 1101.8 292.4 1100.3 290.9 1100C289.3 1099.8 283.3 1100 282.2 1100L284.4 1097L276.4 1097.2L278.6 1094.4L272.8 1089.7C273.1 1089.7 274.5 1090.7 275.7 1089.9C276.9 1089.1 279.5 1085.3 281.7 1083.8C284 1082.2 290.8 1079.1 292.7 1078.2C294.6 1077.2 295.8 1076.9 296.3 1076.7C296 1076.4 295.2 1074.9 293.9 1074.6C292.6 1074.4 287.6 1074.6 286.6 1074.6L288.4 1071.6L281.8 1071.8L283.6 1069.1L278.7 1064.8C279.1 1064.8 280.2 1065.3 281.2 1064.5C282.2 1063.6 284.3 1060 286.2 1058.4C288.1 1056.8 293.8 1053.8 295.4 1052.8C296.9 1051.9 297.5 1051.5 297.8 1051.3C297.6 1051 296.9 1049.5 295.7 1049.3C294.6 1049 290.2 1049.3 289.3 1049.3L290.9 1046.2L285.1 1046.5L286.7 1043.7L282.4 1039.7C282.7 1039.7 283.7 1040 284.6 1039.1C285.4 1038.2 287.3 1034.6 289 1033C290.7 1031.5 295.4 1028.4 297 1027.4C298.7 1026.5 300.8 1026.1 301.4 1025.9C301.2 1025.6 300.7 1024.1 300 1023.9C299.2 1023.6 296.2 1023.9 295.7 1023.9L296.7 1020.8L292.8 1021.1L293.8 1018.3L291 1013.5C291.2 1013.5 291.8 1014.5 292.4 1013.7C293 1012.9 294.3 1009.2 295.4 1007.6C296.6 1006.1 299.5 1004.1 300.9 1002C302.3 1000 305.3 993.7 306 992.4C306.2 991 307.4 986.5 307.8 981.8C308.2 977.1 308.8 960.3 309 957C309.2 960.3 309.8 977.1 310.2 981.8C310.6 986.5 311.8 991 312 992.4C312.7 993.7 315.8 1000 317.3 1002C318.7 1004.1 321.7 1006.1 322.8 1007.6C324 1009.2 325.3 1012.9 325.9 1013.7C326.5 1014.6 327.2 1014.1 327.4 1014.1L324.4 1018.3L325.5 1021.1L321.5 1020.8L322.6 1023.9C322 1023.9 319 1023.6 318.2 1023.9C317.4 1024.1 316.9 1025.6 316.7 1025.9C317 1026.1 317.9 1026.5 319.2 1027.4C320.4 1028.4 324.6 1031.5 326 1033C327.4 1034.6 329.1 1038.2 329.8 1039.1C330.6 1040 331.4 1039.7 331.6 1039.8L328 1043.7L329.4 1046.5L324.4 1046.2L325.7 1049.3C325 1049.3 321.3 1049 320.3 1049.3C319.3 1049.5 318.7 1051 318.5 1051.3C319 1051.5 320.7 1051.9 322.4 1052.8C324.2 1053.8 329.6 1056.8 331.5 1058.4C333.4 1060 335.5 1063.6 336.5 1064.5C337.5 1065.3 338.6 1064.7 338.9 1064.8L334.1 1069.1L335.9 1071.8L329.3 1071.6L331.1 1074.6C330.2 1074.6 325.2 1074.4 323.9 1074.6C322.7 1074.9 321.9 1076.4 321.6 1076.7C321.9 1076.9 322.3 1077.2 323.9 1078.2C325.5 1079.1 331.8 1082.2 333.9 1083.8C336 1085.3 338.4 1089 339.5 1089.9C340.6 1090.8 341.8 1090.5 342.1 1090.5L336.8 1094.4L338.8 1097.2L331.5 1097L333.5 1100C332.4 1100 327 1099.8 325.6 1100C324.1 1100.3 323.3 1101.8 322.9 1102.1C323.3 1102.3 323.9 1102.6 325.8 1103.6C327.7 1104.5 334.7 1107.6 337.1 1109.2C339.4 1110.7 342.1 1114.4 343.3 1115.3C344.5 1116.1 345.9 1115.5 346.3 1115.6L340.3 1119.8L342.6 1122.6L334.4 1122.4L336.6 1125.4C335.4 1125.4 329.2 1125.1 327.7 1125.4C326.1 1125.7 325.1 1127.2 324.7 1127.4C325.1 1127.6 325.8 1128 327.9 1129C330.1 1129.9 338 1133 340.7 1134.5C343.3 1136.1 346.3 1139.7 347.7 1140.6C349.1 1141.6 350.6 1141.5 351.1 1141.6L344.3 1145.2L346.9 1148L337.6 1147.7L340.1 1150.8C338.8 1150.8 331.8 1150.5 330 1150.8C328.2 1151.1 327.1 1152.6 326.7 1152.8C327.4 1153 329.4 1153.4 332.3 1154.3C335.1 1155.3 344.7 1158.4 347.9 1159.9C351.2 1161.5 354.9 1165.2 356.6 1166C358.3 1166.9 360.2 1166.2 360.7 1166.2L352.5 1170.6L355.6 1173.4L344.2 1173.1L347.3 1176.2C345.6 1176.2 337.1 1175.9 334.9 1176.2C332.7 1176.4 331.3 1177.9 330.7 1178.2C331.1 1178.4 330.8 1178.8 333.3 1179.7C335.8 1180.7 346.2 1183.8 349.6 1185.3C353 1186.9 356.8 1190.5 358.6 1191.4C360.4 1192.3 362.3 1192 362.9 1192.1L354.3 1196L357.5 1198.8L345.7 1198.5L348.9 1201.6C347.2 1201.6 338.3 1201.3 336 1201.6C333.7 1201.8 332.2 1203.3 331.6 1203.6C332.4 1203.8 333.8 1204.2 337 1205.1C340.2 1206.1 351.9 1209.1 355.8 1210.7C359.7 1212.3 364.2 1216 366.2 1216.8C368.3 1217.6 370.5 1216.6 371.2 1216.5L361.2 1221.4L365 1224.1L351.3 1223.9L355 1226.9C353 1226.9 342.7 1226.7 340.1 1226.9C337.4 1227.2 335.8 1228.7 335.1 1229C335 1229.2 331.8 1229.5 333.9 1230.5C335.9 1231.4 347.1 1234.5 350.6 1236.1C354.1 1237.6 358 1241.3 359.9 1242.2C361.7 1243.1 363.7 1242.6 364.3 1242.7L355.4 1246.7L358.8 1249.5L346.6 1249.3L349.9 1252.3C348.1 1252.3 339 1252.1 336.6 1252.3C334.3 1252.6 332.8 1254.1 332.2 1254.4C333.1 1254.6 335.5 1254.9 339.1 1255.9C342.7 1256.8 355.2 1259.9 359.3 1261.5C363.5 1263 368.3 1266.7 370.6 1267.6C372.8 1268.4 375.2 1267.5 375.9 1267.5L365.2 1272.1L369.2 1274.9L354.5 1274.7L358.5 1277.7C356.4 1277.7 345.3 1277.4 342.5 1277.7C339.6 1278 337.8 1279.5 337.1 1279.7C337.8 1279.9 338.6 1280.3 342.2 1281.3C345.9 1282.2 359.9 1285.3 364.6 1286.8C369.2 1288.4 374.5 1292.1 376.9 1292.9C379.4 1293.8 382.1 1293.3 382.8 1293.3L371 1297.5L375.5 1300.3L359.2 1300L363.6 1303.1C361.3 1303.1 349.1 1302.8 345.9 1303.1C342.8 1303.4 340.8 1304.9 340 1305.1L365.4 1301.4L355.1 1309.3L344.9 1303.3L334.6 1311.2L324.4 1305.1L314.1 1313L303.9 1306L293.6 1312.1L283.4 1304.2L273.1 1310.3L262.9 1302.3L252.6 1308.4L278 1305.1Z" fill="#4F6831" stroke="#000" stroke-width="2.2" stroke-linejoin="round" stroke-linecap="round"/>
<path d="M297.4 1064.5C298.5 1065.6 302.2 1070.8 304.2 1071.1C306.1 1071.5 307.6 1066 309.2 1066.8C310.9 1067.5 312.6 1075.5 314.3 1075.5C316 1075.5 317.7 1067.5 319.4 1066.8C321.1 1066 322.5 1071.7 324.5 1071.1C326.4 1070.6 330.1 1064.7 331.2 1063.5C330.1 1064.1 326.4 1067.5 324.5 1067.3C322.5 1067.1 321.1 1061.8 319.4 1062.3C317.7 1062.9 316 1070.6 314.3 1070.6C312.6 1070.6 310.9 1062.9 309.2 1062.3C307.6 1061.8 306.1 1066.9 304.2 1067.3C302.2 1067.7 298.5 1065 297.4 1064.5Z" fill="#3A5224"/>
<path d="M290.4 1115.3C291.9 1116.4 296.7 1121.5 299.3 1121.9C301.9 1122.3 303.7 1116.8 305.9 1117.5C308.2 1118.2 310.4 1126.3 312.6 1126.3C314.8 1126.3 317 1118.2 319.2 1117.5C321.5 1116.8 323.3 1122.5 325.9 1121.9C328.5 1121.4 333.3 1115.5 334.8 1114.2C333.3 1114.9 328.5 1118.2 325.9 1118.1C323.3 1117.9 321.5 1112.6 319.2 1113.1C317 1113.7 314.8 1121.4 312.6 1121.4C310.4 1121.4 308.2 1113.7 305.9 1113.1C303.7 1112.6 301.9 1117.7 299.3 1118.1C296.7 1118.4 291.9 1115.8 290.4 1115.3Z" fill="#3A5224"/>
<path d="M277 1166.1C278.8 1167.2 284.6 1172.3 287.8 1172.7C290.9 1173 293.2 1167.5 295.9 1168.3C298.6 1169 301.3 1177.1 304 1177.1C306.6 1177.1 309.3 1169 312 1168.3C314.7 1167.5 317 1173.2 320.1 1172.7C323.3 1172.1 329.1 1166.3 330.9 1165C329.1 1165.6 323.3 1169 320.1 1168.8C317 1168.6 314.7 1163.3 312 1163.9C309.3 1164.4 306.6 1172.1 304 1172.1C301.3 1172.1 298.6 1164.4 295.9 1163.9C293.2 1163.3 290.9 1168.5 287.8 1168.8C284.6 1169.2 278.8 1166.5 277 1166.1Z" fill="#3A5224"/>
<path d="M280.2 1216.8C282.3 1217.9 289.1 1223.1 292.8 1223.4C296.4 1223.8 299 1218.3 302.2 1219C305.3 1219.8 308.5 1227.8 311.6 1227.8C314.8 1227.8 317.9 1219.8 321.1 1219C324.2 1218.3 326.8 1224 330.5 1223.4C334.2 1222.9 341 1217 343.1 1215.8C341 1216.4 334.2 1219.8 330.5 1219.6C326.8 1219.4 324.2 1214.1 321.1 1214.6C317.9 1215.2 314.8 1222.9 311.6 1222.9C308.5 1222.9 305.3 1215.2 302.2 1214.6C299 1214.1 296.4 1219.2 292.8 1219.6C289.1 1220 282.3 1217.3 280.2 1216.8Z" fill="#3A5224"/>
<path d="M286.3 1267.6C288.7 1268.7 296.4 1273.8 300.6 1274.2C304.8 1274.6 307.7 1269.1 311.3 1269.8C314.9 1270.6 318.4 1278.6 322 1278.6C325.6 1278.6 329.1 1270.6 332.7 1269.8C336.3 1269.1 339.2 1274.8 343.4 1274.2C347.6 1273.7 355.3 1267.8 357.7 1266.5C355.3 1267.2 347.6 1270.6 343.4 1270.4C339.2 1270.2 336.3 1264.9 332.7 1265.4C329.1 1266 325.6 1273.7 322 1273.7C318.4 1273.7 314.9 1266 311.3 1265.4C307.7 1264.9 304.8 1270 300.6 1270.4C296.4 1270.7 288.7 1268.1 286.3 1267.6Z" fill="#3A5224"/>
<path d="M263.9 1288C267.8 1289.4 280.2 1295.9 286.9 1296.4C293.6 1296.9 298.4 1289.9 304.2 1290.8C309.9 1291.7 315.7 1302 321.4 1302C327.2 1302 332.9 1291.7 338.7 1290.8C344.4 1289.9 349.2 1297.1 355.9 1296.4C362.7 1295.7 375.1 1288.2 378.9 1286.6C375.1 1287.4 362.7 1291.7 355.9 1291.5C349.2 1291.3 344.4 1284.5 338.7 1285.2C332.9 1285.9 327.2 1295.7 321.4 1295.7C315.7 1295.7 309.9 1285.9 304.2 1285.2C298.4 1284.5 293.6 1291 286.9 1291.5C280.2 1292 267.8 1288.6 263.9 1288Z" fill="#3A5224"/>
<path d="M504 1305V1344Q511 1349 518 1344V1305Z" fill="#4E3629" stroke="#000" stroke-width="2" stroke-linejoin="round"/>
<path d="M476.4 1308.5C475.5 1308.2 473.3 1306.5 469.8 1306.1C466.3 1305.8 452.7 1306.1 450.1 1306.1L455 1302.6L436.9 1302.9L441.8 1299.6L428.6 1294.1C429.5 1294.1 432.5 1295.2 435.2 1294.2C438 1293.3 443.9 1288.9 449 1287.1C454.2 1285.3 470.1 1281.7 473.9 1280.6C477.7 1279.5 477.1 1279 477.5 1278.8C476.7 1278.5 474.6 1276.7 471.2 1276.4C467.8 1276.1 454.6 1276.4 452 1276.4L456.8 1272.8L439.3 1273.1L444.1 1269.9L431.3 1265.2C432.2 1265.1 435.1 1265.6 437.7 1264.5C440.3 1263.5 446.1 1259.2 451 1257.4C456 1255.6 471 1251.9 475.1 1250.8C479.3 1249.7 481.3 1249.3 482.3 1249.1C481.5 1248.7 479.7 1247 476.8 1246.7C473.9 1246.4 462.5 1246.7 460.3 1246.7L464.5 1243.1L449.4 1243.4L453.5 1240.1L442.6 1235.9C443.3 1235.8 445.8 1235.9 448 1234.8C450.3 1233.7 455.2 1229.5 459.5 1227.6C463.8 1225.8 477.3 1222.2 480.2 1221.1C483.1 1220 481.2 1219.6 481.3 1219.3C480.6 1219 478.7 1217.3 475.7 1216.9C472.6 1216.6 461 1216.9 458.7 1216.9L462.9 1213.4L447.4 1213.7L451.6 1210.4L440.3 1205.8C441.1 1205.7 443.6 1206.1 446 1205.1C448.3 1204 453.4 1199.7 457.8 1197.9C462.2 1196.1 476.2 1192.5 479.2 1191.4C482.2 1190.3 480 1189.8 480.2 1189.6C479.4 1189.3 477.4 1187.5 474.3 1187.2C471.2 1186.9 459 1187.2 456.7 1187.2L461.1 1183.6L445 1183.9L449.4 1180.7L437.6 1175.7C438.4 1175.6 441.1 1176.3 443.5 1175.3C445.9 1174.3 451.2 1170 455.8 1168.2C460.4 1166.4 474.3 1162.8 478 1161.6C481.7 1160.5 482.8 1160.1 483.6 1159.9C482.9 1159.5 481.1 1157.8 478.4 1157.5C475.6 1157.2 464.8 1157.5 462.7 1157.5L466.6 1153.9L452.2 1154.2L456.2 1150.9L445.7 1145.3C446.4 1145.3 448.8 1146.5 450.9 1145.6C453.1 1144.7 457.8 1140.3 461.9 1138.5C466 1136.6 478.2 1133 481.6 1131.9C485 1130.8 486.5 1130.4 487.2 1130.1C486.6 1129.8 485.1 1128.1 482.7 1127.8C480.2 1127.4 470.9 1127.8 469.1 1127.8L472.5 1124.2L460 1124.5L463.4 1121.2L454.3 1116.5C454.9 1116.4 457 1116.9 458.9 1115.9C460.7 1114.8 464.8 1110.5 468.3 1108.7C471.9 1106.9 482.8 1103.3 485.5 1102.2C488.2 1101.1 488.1 1100.6 488.5 1100.4C488 1100.1 486.5 1098.3 484.3 1098C482 1097.7 473.1 1098 471.4 1098L474.6 1094.5L462.9 1094.7L466.1 1091.5L457.5 1087.1C458.1 1087 460 1087.2 461.8 1086.1C463.6 1085 467.4 1080.8 470.8 1079C474.1 1077.2 484.3 1073.6 486.9 1072.5C489.6 1071.3 490.1 1070.9 490.6 1070.7C490.1 1070.4 488.8 1068.6 486.8 1068.3C484.7 1068 476.7 1068.3 475.1 1068.3L478 1064.7L467.4 1065L470.3 1061.7L462.5 1056.7C463 1056.6 464.8 1057.4 466.4 1056.4C468 1055.4 471.5 1051.1 474.5 1049.3C477.6 1047.4 486.8 1043.8 489.2 1042.7C491.6 1041.6 492.2 1041.2 492.7 1040.9C492.2 1040.6 491.1 1038.9 489.2 1038.6C487.4 1038.2 480.2 1038.6 478.8 1038.6L481.4 1035L471.8 1035.3L474.4 1032L467.4 1027.4C467.9 1027.3 469.5 1027.7 470.9 1026.7C472.4 1025.6 475.5 1021.4 478.2 1019.5C481 1017.7 489.2 1014.1 491.4 1013C493.6 1011.9 494.2 1011.4 494.6 1011.2C494.2 1010.9 493.2 1009.1 491.5 1008.8C489.8 1008.5 483.4 1008.8 482.2 1008.8L484.5 1005.3L475.9 1005.6L478.3 1002.3L472 997C472.4 997 473.9 997.9 475.1 996.9C476.4 996 479.2 991.6 481.7 989.8C484.1 988 491.1 984.4 493.5 983.3C495.8 982.1 498.7 981.7 499.5 981.5C499.2 981.2 498.4 979.4 497.3 979.1C496.1 978.8 491.5 979.1 490.7 979.1L492.3 975.5L486.3 975.8L487.9 972.6L483.5 968.3C483.8 968.1 484.8 968.3 485.7 967.2C486.6 966.1 488.6 961.9 490.3 960.1C492 958.2 497.3 954.6 498.6 953.5C499.9 952.4 499.8 952 500 951.7C499.7 951.4 499.1 949.7 497.9 949.4C496.8 949 492.5 949.4 491.7 949.4L493.2 945.8L487.5 946.1L489.1 942.8L484.9 937.2C485.1 937.3 486.1 938.4 487 937.5C487.8 936.6 489.7 932.2 491.3 930.3C493 928.5 497 926.2 499.2 923.8C501.5 921.4 506.8 914 508 912.5C508.2 910.7 509.4 905.1 509.8 899.1C510.2 893.2 510.8 872.2 511 868C511.2 872.2 511.8 893.2 512.2 899.1C512.6 905.1 513.8 910.7 514 912.5C515 914 519.8 921.4 521.8 923.8C523.8 926.2 527.5 928.5 529 930.3C530.5 932.2 532.2 936.5 533 937.5C533.8 938.5 534.7 937.8 534.9 937.8L531.1 942.8L532.6 946.1L527.3 945.8L528.7 949.4C528 949.4 524 949 523 949.4C522 949.7 521.3 951.4 521.1 951.7C521.4 952 522.4 952.4 523.9 953.5C525.4 954.6 530.8 958.2 532.6 960.1C534.4 961.9 536.4 966.1 537.4 967.2C538.3 968.3 539.3 968.2 539.7 968.4L535.1 972.6L536.8 975.8L530.5 975.5L532.2 979.1C531.3 979.1 526.5 978.8 525.3 979.1C524.1 979.4 523.3 981.2 523 981.5C523.5 981.7 524.9 982.1 526.8 983.3C528.7 984.4 535.2 988 537.4 989.8C539.6 991.6 542.1 995.9 543.2 996.9C544.4 998 545.7 997.8 546 997.9L540.4 1002.3L542.5 1005.6L534.8 1005.3L536.9 1008.8C535.8 1008.8 530 1008.5 528.5 1008.8C527 1009.1 526.1 1010.9 525.7 1011.2C526.3 1011.4 527.7 1011.9 530 1013C532.2 1014.1 540.1 1017.7 542.7 1019.5C545.3 1021.4 548.4 1025.8 549.8 1026.7C551.2 1027.6 552.7 1026.4 553.1 1026.4L546.4 1032L548.9 1035.3L539.7 1035L542.2 1038.6C540.8 1038.6 533.9 1038.2 532.1 1038.6C530.3 1038.9 529.1 1040.6 528.7 1040.9C529.3 1041.2 530.6 1041.6 533.1 1042.7C535.7 1043.8 544.9 1047.4 548 1049.3C551.1 1051.1 554.6 1055.3 556.2 1056.4C557.9 1057.5 559.7 1057.2 560.2 1057.3L552.3 1061.7L555.3 1065L544.4 1064.7L547.4 1068.3C545.8 1068.3 537.7 1068 535.6 1068.3C533.5 1068.6 532.2 1070.4 531.7 1070.7C532.3 1070.9 533.7 1071.3 536.6 1072.5C539.6 1073.6 550.3 1077.2 553.9 1079C557.4 1080.8 561.5 1085.2 563.4 1086.1C565.3 1087.1 567.4 1086.1 568 1086.1L558.9 1091.5L562.3 1094.7L549.7 1094.5L553.2 1098C551.3 1098 541.9 1097.7 539.5 1098C537.1 1098.3 535.5 1100.1 534.9 1100.4C535.4 1100.6 535.3 1101.1 538.2 1102.2C541 1103.3 552.7 1106.9 556.4 1108.7C560.2 1110.5 564.6 1114.9 566.6 1115.9C568.6 1116.8 570.8 1115.7 571.4 1115.7L561.7 1121.2L565.4 1124.5L552.1 1124.2L555.7 1127.8C553.8 1127.8 543.8 1127.4 541.2 1127.8C538.6 1128.1 537 1129.8 536.4 1130.1C536.9 1130.4 537.4 1130.8 540.6 1131.9C543.8 1133 556.4 1136.6 560.5 1138.5C564.6 1140.3 569.4 1144.6 571.5 1145.6C573.7 1146.5 576.1 1145.6 576.8 1145.6L566.3 1150.9L570.2 1154.2L555.8 1153.9L559.7 1157.5C557.6 1157.5 546.7 1157.2 543.9 1157.5C541.1 1157.8 539.3 1159.5 538.6 1159.9C538.8 1160.1 537.4 1160.5 540.2 1161.6C543 1162.8 555.8 1166.4 559.8 1168.2C563.9 1170 568.6 1174.4 570.7 1175.3C572.8 1176.2 575.2 1175.1 575.9 1175L565.5 1180.7L569.4 1183.9L555.1 1183.6L559 1187.2C556.9 1187.2 546.2 1186.9 543.4 1187.2C540.7 1187.5 538.9 1189.3 538.3 1189.6C539.3 1189.8 542.1 1190.3 546.3 1191.4C550.6 1192.5 565.2 1196.1 570.1 1197.9C575 1199.7 580.7 1204 583.3 1205.1C585.9 1206.1 588.7 1205.9 589.5 1206L577 1210.4L581.7 1213.7L564.4 1213.4L569.1 1216.9C566.6 1216.9 553.6 1216.6 550.3 1216.9C546.9 1217.3 544.8 1219 544 1219.3C544.4 1219.6 543.4 1220 547 1221.1C550.7 1222.2 566.2 1225.8 571.2 1227.6C576.3 1229.5 582 1233.8 584.6 1234.8C587.3 1235.7 590.2 1234.9 591 1234.9L578.2 1240.1L583 1243.4L565.4 1243.1L570.2 1246.7C567.7 1246.7 554.4 1246.4 551 1246.7C547.6 1247 545.5 1248.7 544.6 1249.1C544.9 1249.3 543.3 1249.7 546.8 1250.8C550.3 1251.9 565.9 1255.6 570.9 1257.4C575.9 1259.2 581.6 1263.5 584.2 1264.5C586.9 1265.5 589.8 1264.9 590.6 1264.9L577.9 1269.9L582.7 1273.1L565.1 1272.8L569.9 1276.4C567.4 1276.4 554.2 1276.1 550.8 1276.4C547.4 1276.7 545.3 1278.5 544.4 1278.8C545 1279 544.9 1279.5 548.9 1280.6C553 1281.7 569.2 1285.3 574.5 1287.1C579.7 1288.9 585.8 1293.3 588.6 1294.2C591.4 1295.2 594.4 1294.1 595.3 1294L581.8 1299.6L586.9 1302.9L568.3 1302.6L573.4 1306.1C570.7 1306.1 556.8 1305.8 553.2 1306.1C549.6 1306.5 547.3 1308.2 546.4 1308.5L581.1 1303.4L568.3 1311.3L555.6 1305.3L542.8 1313.2L530.1 1307.1L517.4 1315L504.6 1308L491.9 1314.1L479.2 1306.2L466.4 1312.3L453.7 1304.3L440.9 1310.4L476.4 1308.5Z" fill="#354D1F" stroke="#000" stroke-width="2.2" stroke-linejoin="round" stroke-linecap="round"/>
<path d="M490.7 997.7C492.1 998.8 496.5 1003.9 498.8 1004.3C501.2 1004.7 502.9 999.2 504.9 999.9C507 1000.6 509 1008.7 511 1008.7C513 1008.7 515.1 1000.6 517.1 999.9C519.1 999.2 520.8 1004.8 523.2 1004.3C525.6 1003.7 530 997.9 531.3 996.6C530 997.2 525.6 1000.6 523.2 1000.4C520.8 1000.3 519.1 994.9 517.1 995.5C515.1 996 513 1003.7 511 1003.7C509 1003.7 507 996 504.9 995.5C502.9 994.9 501.2 1000.1 498.8 1000.4C496.5 1000.8 492.1 998.2 490.7 997.7Z" fill="#22361A"/>
<path d="M492.9 1057.2C494.6 1058.3 500.4 1063.4 503.5 1063.8C506.6 1064.1 508.8 1058.6 511.4 1059.4C514.1 1060.1 516.7 1068.2 519.4 1068.2C522 1068.2 524.7 1060.1 527.3 1059.4C530 1058.6 532.2 1064.3 535.3 1063.8C538.3 1063.2 544.1 1057.3 545.8 1056.1C544.1 1056.7 538.3 1060.1 535.3 1059.9C532.2 1059.7 530 1054.4 527.3 1055C524.7 1055.5 522 1063.2 519.4 1063.2C516.7 1063.2 514.1 1055.5 511.4 1055C508.8 1054.4 506.6 1059.5 503.5 1059.9C500.4 1060.3 494.6 1057.6 492.9 1057.2Z" fill="#22361A"/>
<path d="M474.4 1116.6C476.5 1117.7 483.5 1122.8 487.3 1123.2C491 1123.6 493.7 1118.1 496.9 1118.8C500.1 1119.5 503.3 1127.6 506.5 1127.6C509.7 1127.6 513 1119.5 516.2 1118.8C519.4 1118.1 522.1 1123.8 525.8 1123.2C529.6 1122.7 536.5 1116.8 538.7 1115.5C536.5 1116.2 529.6 1119.5 525.8 1119.4C522.1 1119.2 519.4 1113.9 516.2 1114.4C513 1115 509.7 1122.7 506.5 1122.7C503.3 1122.7 500.1 1115 496.9 1114.4C493.7 1113.9 491 1119 487.3 1119.4C483.5 1119.7 476.5 1117.1 474.4 1116.6Z" fill="#22361A"/>
<path d="M487.2 1176.1C489.7 1177.2 497.8 1182.3 502.2 1182.7C506.6 1183 509.7 1177.5 513.4 1178.3C517.2 1179 520.9 1187.1 524.6 1187.1C528.4 1187.1 532.1 1179 535.9 1178.3C539.6 1177.5 542.7 1183.2 547.1 1182.7C551.5 1182.1 559.6 1176.3 562.1 1175C559.6 1175.6 551.5 1179 547.1 1178.8C542.7 1178.6 539.6 1173.3 535.9 1173.9C532.1 1174.4 528.4 1182.1 524.6 1182.1C520.9 1182.1 517.2 1174.4 513.4 1173.9C509.7 1173.3 506.6 1178.5 502.2 1178.8C497.8 1179.2 489.7 1176.5 487.2 1176.1Z" fill="#22361A"/>
<path d="M484.7 1235.5C487.6 1236.6 496.7 1241.8 501.7 1242.1C506.6 1242.5 510.2 1237 514.4 1237.7C518.7 1238.5 522.9 1246.5 527.1 1246.5C531.4 1246.5 535.6 1238.5 539.9 1237.7C544.1 1237 547.6 1242.7 552.6 1242.1C557.5 1241.6 566.7 1235.7 569.6 1234.4C566.7 1235.1 557.5 1238.5 552.6 1238.3C547.6 1238.1 544.1 1232.8 539.9 1233.3C535.6 1233.9 531.4 1241.6 527.1 1241.6C522.9 1241.6 518.7 1233.9 514.4 1233.3C510.2 1232.8 506.6 1237.9 501.7 1238.3C496.7 1238.7 487.6 1236 484.7 1235.5Z" fill="#22361A"/>
<path d="M437.3 1290C442.1 1291.4 457.7 1297.9 466.1 1298.4C474.5 1298.9 480.5 1291.9 487.7 1292.8C494.9 1293.7 502.1 1304 509.2 1304C516.4 1304 523.6 1293.7 530.8 1292.8C538 1291.9 544 1299.1 552.4 1298.4C560.8 1297.7 576.4 1290.2 581.2 1288.6C576.4 1289.4 560.8 1293.7 552.4 1293.5C544 1293.3 538 1286.5 530.8 1287.2C523.6 1287.9 516.4 1297.7 509.2 1297.7C502.1 1297.7 494.9 1287.9 487.7 1287.2C480.5 1286.5 474.5 1293 466.1 1293.5C457.7 1294 442.1 1290.6 437.3 1290Z" fill="#22361A"/>
<path d="M730 1192V1220Q735 1225 740 1220V1192Z" fill="#4E3629" stroke="#000" stroke-width="2" stroke-linejoin="round"/>
<path d="M711.6 1194C711 1193.8 709.6 1192.3 707.2 1192C704.8 1191.8 695.6 1192 693.8 1192L697.2 1189L684.9 1189.3L688.3 1186.5L679.4 1181.9C680 1181.9 682 1182.8 683.8 1182C685.6 1181.2 689.6 1177.5 693.1 1175.9C696.6 1174.4 707.4 1171.3 710 1170.4C712.6 1169.5 712.3 1169.1 712.6 1168.9C712.1 1168.6 710.7 1167.2 708.4 1166.9C706.1 1166.6 697.3 1166.9 695.6 1166.9L698.8 1163.9L687.1 1164.1L690.3 1161.4L681.8 1156.5C682.3 1156.6 684.3 1157.6 686 1156.8C687.8 1156.1 691.6 1152.3 694.9 1150.8C698.3 1149.2 708.5 1146.2 711 1145.3C713.6 1144.3 713.8 1143.9 714.2 1143.7C713.7 1143.5 712.4 1142 710.3 1141.7C708.2 1141.5 700 1141.7 698.4 1141.7L701.4 1138.7L690.5 1139L693.5 1136.2L685.5 1132.5C686.1 1132.4 687.9 1132.6 689.5 1131.7C691.1 1130.8 694.7 1127.2 697.8 1125.6C700.9 1124.1 710.4 1121 712.7 1120.1C715.1 1119.2 714.8 1118.8 715.1 1118.6C714.6 1118.3 713.3 1116.9 711.3 1116.6C709.3 1116.3 701.5 1116.6 699.9 1116.6L702.8 1113.6L692.4 1113.8L695.2 1111.1L687.6 1106.8C688.1 1106.8 689.9 1107.4 691.4 1106.5C693 1105.7 696.4 1102 699.4 1100.5C702.3 1098.9 711.4 1095.9 713.7 1095C715.9 1094 716 1093.6 716.3 1093.4C715.8 1093.2 714.7 1091.7 712.8 1091.4C710.9 1091.2 703.5 1091.4 702.1 1091.4L704.7 1088.4L695 1088.7L697.6 1085.9L690.5 1081.7C691 1081.6 692.6 1082.2 694.1 1081.4C695.5 1080.5 698.7 1076.9 701.5 1075.3C704.3 1073.8 712.4 1070.7 715 1069.8C717.5 1068.9 719.9 1068.5 720.6 1068.3C720.2 1068 719.3 1066.6 717.9 1066.3C716.4 1066 710.7 1066.3 709.6 1066.3L711.7 1063.3L704.2 1063.5L706.2 1060.8L700.7 1056.9C701.1 1056.8 702.3 1057.1 703.5 1056.2C704.6 1055.3 707.1 1051.7 709.2 1050.2C711.4 1048.6 717.7 1045.6 719.6 1044.7C721.4 1043.7 722.6 1043.3 723 1043.1C722.7 1042.9 722 1041.4 720.7 1041.1C719.5 1040.9 714.8 1041.1 713.9 1041.1L715.6 1038.1L709.3 1038.4L711.1 1035.6L706.5 1030.8C706.8 1030.9 707.8 1031.8 708.8 1031.1C709.7 1030.3 711.8 1026.6 713.5 1025C715.3 1023.5 720.9 1020.4 722.2 1019.5C723.5 1018.6 723.1 1018.2 723.3 1018C723 1017.7 722.2 1016.3 721 1016C719.8 1015.7 715.2 1016 714.3 1016L716 1013L709.8 1013.2L711.5 1010.5L707 1006.8C707.3 1006.7 708.3 1006.9 709.3 1005.9C710.2 1005 712.2 1001.4 713.9 999.9C715.7 998.3 720.8 995.3 722.4 994.4C724 993.4 725.4 993 725.9 992.8C725.6 992.6 725.1 991.1 724.1 990.8C723.2 990.6 719.6 990.8 718.9 990.8L720.2 987.8L715.4 988.1L716.7 985.3L713.3 980.9C713.5 980.9 714.3 981.6 715 980.8C715.7 980 717.3 976.3 718.6 974.7C720 973.2 723.9 970.1 725.2 969.2C726.5 968.3 727.8 967.9 728.2 967.7C728.1 967.4 727.6 966 727 965.7C726.3 965.4 723.6 965.7 723.1 965.7L724.1 962.7L720.5 962.9L721.5 960.2L718.9 955.8C719.1 955.8 719.7 956.5 720.2 955.6C720.7 954.8 721.9 951.1 722.9 949.6C723.9 948 726.5 946.1 727.8 944.1C729 942 731.4 935.8 732 934.5C732.2 933.3 733.4 929.6 733.8 925.6C734.2 921.7 734.8 907.8 735 905C735.2 907.8 735.8 921.7 736.2 925.6C736.6 929.6 737.8 933.3 738 934.5C738.7 935.8 741.6 942 742.9 944.1C744.3 946.1 747.2 948 748.3 949.6C749.4 951.1 750.7 954.7 751.2 955.6C751.8 956.6 752.5 956.4 752.7 956.5L749.8 960.2L750.9 962.9L747 962.7L748.1 965.7C747.5 965.7 744.6 965.4 743.8 965.7C743.1 966 742.6 967.4 742.4 967.7C742.8 967.9 744.2 968.3 745.6 969.2C747 970.1 751.3 973.2 752.8 974.7C754.2 976.3 755.9 980 756.7 980.8C757.5 981.6 758.3 980.9 758.6 980.9L754.8 985.3L756.2 988.1L751 987.8L752.5 990.8C751.7 990.8 747.8 990.6 746.8 990.8C745.8 991.1 745.2 992.6 744.9 992.8C745.2 993 745.4 993.4 746.7 994.4C748 995.3 753 998.3 754.6 999.9C756.3 1001.4 758.1 1005 759 1005.9C759.9 1006.9 760.8 1006.8 761.1 1006.9L756.9 1010.5L758.5 1013.2L752.7 1013L754.3 1016C753.5 1016 749.2 1015.7 748 1016C746.9 1016.3 746.2 1017.7 746 1018C746.6 1018.2 748.4 1018.6 750.4 1019.5C752.4 1020.4 758.6 1023.5 760.8 1025C762.9 1026.6 765.4 1030.2 766.5 1031.1C767.7 1031.9 768.9 1031.3 769.3 1031.4L763.8 1035.6L765.8 1038.4L758.3 1038.1L760.4 1041.1C759.3 1041.1 753.6 1040.9 752.1 1041.1C750.7 1041.4 749.8 1042.9 749.4 1043.1C749.7 1043.3 750.1 1043.7 752 1044.7C753.9 1045.6 761.1 1048.6 763.4 1050.2C765.8 1051.7 768.5 1055.5 769.8 1056.2C771 1057 772.4 1056 772.8 1055.9L766.8 1060.8L769 1063.5L760.7 1063.3L763 1066.3C761.8 1066.3 755.5 1066 753.9 1066.3C752.3 1066.6 751.3 1068 750.9 1068.3C751.3 1068.5 751.8 1068.9 753.9 1069.8C756 1070.7 764 1073.8 766.7 1075.3C769.3 1076.9 772.3 1080.6 773.7 1081.4C775.1 1082.1 776.6 1081.1 777.1 1081L770.3 1085.9L772.9 1088.7L763.6 1088.4L766.1 1091.4C764.8 1091.4 757.8 1091.2 756 1091.4C754.2 1091.7 753.1 1093.2 752.7 1093.4C752.9 1093.6 752.5 1094 754.4 1095C756.4 1095.9 764.8 1098.9 767.5 1100.5C770.2 1102 773.3 1105.7 774.8 1106.5C776.2 1107.3 777.8 1106.4 778.2 1106.3L771.3 1111.1L773.9 1113.8L764.4 1113.6L767 1116.6C765.6 1116.6 758.5 1116.3 756.6 1116.6C754.8 1116.9 753.6 1118.3 753.2 1118.6C753.6 1118.8 754 1119.2 756.4 1120.1C758.7 1121 767.7 1124.1 770.7 1125.6C773.7 1127.2 777.1 1130.9 778.7 1131.7C780.2 1132.4 782 1131.3 782.5 1131.3L774.9 1136.2L777.7 1139L767.3 1138.7L770.1 1141.7C768.6 1141.7 760.8 1141.5 758.7 1141.7C756.7 1142 755.4 1143.5 754.9 1143.7C755.6 1143.9 757.2 1144.3 760.2 1145.3C763.1 1146.2 773.6 1149.2 777.1 1150.8C780.6 1152.3 784.6 1155.9 786.5 1156.8C788.3 1157.7 790.3 1157.6 790.9 1157.7L782 1161.4L785.3 1164.1L773 1163.9L776.4 1166.9C774.6 1166.9 765.3 1166.6 763 1166.9C760.6 1167.2 759.1 1168.6 758.5 1168.9C758.4 1169.1 756 1169.5 758 1170.4C760 1171.3 770.2 1174.4 773.4 1175.9C776.6 1177.5 780.3 1181.1 782 1182C783.7 1182.9 785.5 1182.6 786.1 1182.7L777.9 1186.5L781 1189.3L769.7 1189L772.8 1192C771.2 1192 762.7 1191.8 760.5 1192C758.4 1192.3 757 1193.8 756.5 1194L781.5 1190.4L773 1198.3L764.6 1192.3L756.1 1200.2L747.7 1194.1L739.2 1202L730.8 1195L722.3 1201.1L713.9 1193.2L705.4 1199.3L697 1191.3L688.5 1197.4L711.6 1194Z" fill="#4F6831" stroke="#000" stroke-width="2.2" stroke-linejoin="round" stroke-linecap="round"/>
<path d="M726.5 1006C727.5 1007.1 730.8 1012.2 732.6 1012.6C734.4 1012.9 735.7 1007.4 737.2 1008.2C738.7 1008.9 740.2 1017 741.7 1017C743.3 1017 744.8 1008.9 746.3 1008.2C747.8 1007.4 749.1 1013.1 750.9 1012.6C752.7 1012 755.9 1006.1 757 1004.9C755.9 1005.5 752.7 1008.9 750.9 1008.7C749.1 1008.5 747.8 1003.2 746.3 1003.8C744.8 1004.3 743.3 1012 741.7 1012C740.2 1012 738.7 1004.3 737.2 1003.8C735.7 1003.2 734.4 1008.3 732.6 1008.7C730.8 1009.1 727.5 1006.4 726.5 1006Z" fill="#3A5224"/>
<path d="M713.6 1056.2C714.9 1057.3 719.3 1062.5 721.7 1062.8C724 1063.2 725.7 1057.7 727.7 1058.5C729.7 1059.2 731.8 1067.2 733.8 1067.2C735.8 1067.2 737.8 1059.2 739.8 1058.5C741.8 1057.7 743.5 1063.4 745.9 1062.8C748.2 1062.3 752.6 1056.4 753.9 1055.2C752.6 1055.8 748.2 1059.2 745.9 1059C743.5 1058.8 741.8 1053.5 739.8 1054C737.8 1054.6 735.8 1062.3 733.8 1062.3C731.8 1062.3 729.7 1054.6 727.7 1054C725.7 1053.5 724 1058.6 721.7 1059C719.3 1059.4 714.9 1056.7 713.6 1056.2Z" fill="#3A5224"/>
<path d="M713.3 1106.5C714.9 1107.6 720.3 1112.8 723.2 1113.1C726 1113.5 728.1 1108 730.6 1108.8C733 1109.5 735.5 1117.5 738 1117.5C740.4 1117.5 742.9 1109.5 745.4 1108.8C747.9 1108 749.9 1113.7 752.8 1113.1C755.7 1112.6 761 1106.7 762.7 1105.5C761 1106.1 755.7 1109.5 752.8 1109.3C749.9 1109.1 747.9 1103.8 745.4 1104.3C742.9 1104.9 740.4 1112.6 738 1112.6C735.5 1112.6 733 1104.9 730.6 1104.3C728.1 1103.8 726 1108.9 723.2 1109.3C720.3 1109.7 714.9 1107 713.3 1106.5Z" fill="#3A5224"/>
<path d="M700.6 1156.8C702.5 1157.9 708.8 1163.1 712.2 1163.4C715.6 1163.8 718 1158.3 720.9 1159C723.7 1159.8 726.6 1167.8 729.5 1167.8C732.4 1167.8 735.3 1159.8 738.2 1159C741.1 1158.3 743.5 1164 746.9 1163.4C750.2 1162.9 756.5 1157 758.4 1155.8C756.5 1156.4 750.2 1159.8 746.9 1159.6C743.5 1159.4 741.1 1154.1 738.2 1154.6C735.3 1155.2 732.4 1162.9 729.5 1162.9C726.6 1162.9 723.7 1155.2 720.9 1154.6C718 1154.1 715.6 1159.2 712.2 1159.6C708.8 1160 702.5 1157.3 700.6 1156.8Z" fill="#3A5224"/>
<path d="M688.1 1177C691.2 1178.4 701.4 1184.9 706.9 1185.4C712.4 1185.9 716.4 1178.9 721.1 1179.8C725.8 1180.7 730.5 1191 735.2 1191C739.9 1191 744.6 1180.7 749.3 1179.8C754.1 1178.9 758 1186.1 763.5 1185.4C769 1184.7 779.2 1177.2 782.3 1175.6C779.2 1176.4 769 1180.7 763.5 1180.5C758 1180.3 754.1 1173.5 749.3 1174.2C744.6 1174.9 739.9 1184.7 735.2 1184.7C730.5 1184.7 725.8 1174.9 721.1 1174.2C716.4 1173.5 712.4 1180 706.9 1180.5C701.4 1181 691.2 1177.6 688.1 1177Z" fill="#3A5224"/>
<path d="M0 1858C2 1858 -4.8 1859.2 12 1858C28.8 1856.8 73.5 1850.2 101 1850.7C128.5 1851.2 134.8 1860.1 177 1861C219.2 1861.9 320.3 1856 354 1856C387.7 1856 363.8 1861.9 379 1861C394.2 1860.1 418.8 1850.4 445 1850.7C471.2 1851 518.3 1863 536 1863C553.7 1863 540.3 1853.2 551 1851C561.7 1848.8 582.3 1849.2 600 1850C617.7 1850.8 643.3 1857.2 657 1856C670.7 1854.8 674.8 1843.9 682 1843C689.2 1842.1 684.4 1847.7 700 1850.7C715.6 1853.7 750.5 1860 775.8 1860.8C801.1 1861.6 828.9 1855.4 851.6 1855.8C874.3 1856.2 901.9 1861.8 912 1863C917.1 1860.1 929.8 1849 942.5 1845.7C955.2 1842.4 978.8 1843 988 1843C997.2 1843 996.3 1845.2 998 1845.7C996.3 1841.9 985.9 1829 988 1823C990.1 1817 1007 1812.2 1010.8 1810C1012.9 1813.4 1019.2 1822.9 1023.4 1830.5C1027.6 1838.1 1030.6 1848.6 1036 1855.8C1041.4 1863 1052.7 1870.5 1056 1873.5L1015.8 1881L1023.4 1900C1017 1899.5 998.5 1897 985 1897C971.5 1897 960.5 1898.5 942.5 1900C924.5 1901.5 887.8 1905 876.9 1906C868.4 1904.8 845.5 1899.5 826 1898.7C806.5 1897.9 781 1900.8 760 1901C739 1901.2 722.5 1900 700 1900C677.5 1900 648.3 1901.3 625 1901C601.7 1900.7 584.2 1898 560 1898C535.8 1898 506.7 1901.2 480 1901C453.3 1900.8 413.3 1897.7 400 1897C397.5 1897.8 391.7 1902 385 1902C378.3 1902 374.2 1897.3 360 1897C345.8 1896.7 320 1900 300 1900C280 1900 256.7 1896.8 240 1897C223.3 1897.2 215 1901 200 1901C185 1901 160 1897 150 1897C140 1897 141.7 1900.3 140 1901C136.7 1900.5 133.3 1898.2 120 1898C106.7 1897.8 80 1899.7 60 1900C40 1900.3 10 1900 0 1900L0 1858Z" fill="#C49E6C" stroke="#000" stroke-width="2.5" stroke-linejoin="round" stroke-linecap="round"/>
<path d="M664.6 1466C665.2 1464.9 666.9 1457.9 668 1459.6C669.1 1461.3 670.5 1473.3 671 1476C680.6 1482.8 710 1504.5 728.6 1516.8C747.2 1529.1 773.5 1544.3 782.5 1549.8L940 1651.8L1243 1849.8C1249.2 1853.5 1270.3 1866.8 1280 1872C1289.7 1877.2 1297.5 1879.5 1301 1881L1311.4 1858C1319 1858.8 1338.1 1862.2 1357 1863C1375.9 1863.8 1413.7 1863 1425 1863L1425 1896C1420.8 1896.2 1411.3 1896.2 1400 1897C1388.7 1897.8 1369.2 1900.7 1357 1901C1344.8 1901.3 1331.7 1899.1 1326.6 1898.7L1331.6 1916.4C1326.3 1915.8 1310.1 1913.4 1300 1913C1289.9 1912.6 1283.4 1918.5 1271 1914C1258.6 1909.5 1233.1 1890.7 1225.5 1886L1233 1868L1209.4 1849.8C1196.2 1841 1156.9 1814.8 1130 1797C1103.1 1779.2 1061.5 1751.8 1047.8 1742.7C1046.5 1742.6 1042.1 1743.5 1040 1742C1037.9 1740.5 1051.7 1745.7 1035 1734C1018.3 1722.3 955.8 1682.3 940 1672L755.6 1549.8C751.1 1547.1 735.4 1537.8 728.6 1533.7C721.8 1529.6 721.8 1530.1 715 1525C708.2 1519.9 698.4 1511.1 688 1503.3C677.6 1495.5 658.7 1482.2 652.8 1478L664.6 1466Z" fill="#C49E6C" stroke="#000" stroke-width="2.5" stroke-linejoin="round" stroke-linecap="round"/>
<path d="M592 1301C592.7 1300.2 582.2 1301 596 1296C609.8 1291 645 1277.7 675 1271C705 1264.3 740.2 1259.3 776 1256C811.8 1252.7 856.3 1254.2 890 1251C923.7 1247.8 958.3 1240.8 978 1237C997.7 1233.2 1001.8 1230.9 1008 1228.4C1014.2 1225.9 1013.8 1223.1 1015 1222C1013.6 1220.7 1005.7 1216 1006.5 1214C1007.3 1212 1015.2 1210.9 1020 1210C1024.8 1209.1 1032.5 1208.7 1035 1208.4L1035 1216L1013 1220L1031 1233C1027.8 1234.1 1020.4 1237.1 1011.6 1239.7C1002.8 1242.3 998.3 1244.8 978 1248.5C957.7 1252.2 923.7 1259 890 1262C856.3 1265 811.8 1263.2 776 1266.5C740.2 1269.8 704.8 1275.4 675 1281.5C645.2 1287.6 610 1299.4 597 1303L592 1301Z" fill="#C49E6C" stroke="#000" stroke-width="2.5" stroke-linejoin="round" stroke-linecap="round"/>
<path d="M1080 1207.4C1085.3 1209.3 1101.9 1215 1112 1219C1122.1 1223 1136 1229.5 1140.8 1231.6L1137.5 1244.6L1134 1238L1080 1217L1080 1207.4Z" fill="#C49E6C" stroke="#000" stroke-width="2.5" stroke-linejoin="round" stroke-linecap="round"/>
<path d="M1108.5 1276.8C1112.1 1278.2 1121.4 1281.5 1130 1285C1138.6 1288.5 1150.2 1293.5 1160 1298C1169.8 1302.5 1179.8 1307 1189 1312.3C1198.2 1317.6 1210.7 1327 1215 1330L1208 1345C1203.8 1341.2 1192.4 1327.7 1182.7 1322C1173 1316.3 1157.1 1314 1150 1311C1142.9 1308 1144.8 1306.2 1140 1304C1135.2 1301.8 1128.3 1301 1121.4 1297.8C1114.5 1294.6 1102.6 1287.1 1098.8 1285L1108.5 1276.8Z" fill="#C49E6C" stroke="#000" stroke-width="2.5" stroke-linejoin="round" stroke-linecap="round"/>
<path d="M681.5 1385.5L671 1382C666 1384.8 651.6 1393.4 641 1399C630.4 1404.6 616.4 1410.2 607.4 1415.8C598.4 1421.4 593.2 1427 587 1432.6C580.8 1438.2 574.2 1443.9 570 1449.5C565.8 1455.1 561.7 1460.7 562 1466.3C562.3 1471.9 562.3 1473.7 572 1483C581.7 1492.3 612 1515.5 620 1522C615 1517.8 597.2 1502.3 590 1497C582.8 1491.7 579.4 1494.8 577 1490C574.6 1485.2 574.6 1474.8 575.4 1468C576.2 1461.2 578.1 1455.4 582 1449.5C585.9 1443.6 592.5 1438.2 599 1432.6C605.5 1427 611.5 1421.4 620.8 1415.8C630 1410.2 644.4 1404 654.5 1399C664.6 1394 677 1387.8 681.5 1385.5Z" fill="#C49E6C" stroke="#000" stroke-width="2.5" stroke-linejoin="round" stroke-linecap="round"/>
<path d="M651 1311.4L661 1306.3C666.7 1311.6 683.2 1327.6 695 1338C706.8 1348.4 724.7 1360.7 732 1368.6C739.3 1376.5 737.6 1382.7 738.7 1385.5C742.4 1388.9 757.2 1400.7 760.6 1405.7C764 1410.8 760.1 1413.6 759 1415.8C757.9 1418 754.8 1418.5 754 1419C753.7 1417.3 755.2 1412.7 752 1409C748.8 1405.3 739.2 1400.4 735 1397C730.8 1393.6 728.3 1390.2 727 1388.8C727.5 1387.8 731.4 1385.8 730 1383C728.6 1380.2 725.2 1377.2 718.5 1372C711.8 1366.8 695.8 1356.8 690 1352C684.2 1347.2 687.1 1345.8 684 1343C680.9 1340.2 676.9 1340.3 671.4 1335C665.9 1329.7 654.4 1315.3 651 1311.4Z" fill="#C49E6C" stroke="#000" stroke-width="2.5" stroke-linejoin="round" stroke-linecap="round"/>
<path d="M597 1303C610 1299.4 645.2 1287.6 675 1281.5C704.8 1275.4 740.2 1269.8 776 1266.5C811.8 1263.2 856.3 1265 890 1262C923.7 1259 957.7 1252.2 978 1248.5C998.3 1244.8 1002.8 1242.3 1011.6 1239.7C1020.4 1237.1 1027.8 1234.1 1031 1233L1013 1220L1035 1216L1080 1217C1089 1220.5 1124.4 1233.4 1134 1238C1143.6 1242.6 1136.9 1243.5 1137.5 1244.6C1140.2 1245.7 1149.4 1248.3 1153.7 1251C1158 1253.7 1163.4 1257.7 1163.4 1260.7C1163.4 1263.7 1161.8 1267.2 1153.7 1268.8C1145.6 1270.4 1122.5 1269.1 1115 1270.4C1107.5 1271.7 1109.6 1275.7 1108.5 1276.8L1098.8 1285C1102.6 1287.1 1114.5 1294.6 1121.4 1297.8C1128.3 1301 1135.2 1301.8 1140 1304C1144.8 1306.2 1142.9 1308 1150 1311C1157.1 1314 1173 1316.4 1182.7 1322C1192.5 1327.6 1204.2 1340.8 1208.5 1344.6C1202.1 1349.7 1186.7 1367.2 1170 1375C1153.3 1382.8 1132.7 1386.5 1108.5 1391.4C1084.3 1396.3 1046.4 1401.4 1024.6 1404.3C1002.8 1407.2 994 1409.3 977.8 1409C961.6 1408.7 944.1 1406.2 927.3 1402.3C910.5 1398.4 889.7 1391.7 876.8 1385.5C863.9 1379.3 854.8 1370.6 850 1365C845.2 1359.4 845.8 1356.8 848 1351.8C850.2 1346.8 855.7 1340.6 863.3 1335C870.9 1329.4 888.6 1320.8 893.7 1318C893.1 1316.9 898.5 1314.7 890 1311.4C881.5 1308.1 862 1301.4 843 1298C824 1294.6 801 1291.3 775.8 1291C750.6 1290.7 710.7 1293.5 691.6 1296C672.5 1298.5 667.8 1303.7 661 1306.3C654.2 1308.9 652.7 1310.6 651 1311.4C654.4 1315.3 665.9 1329.7 671.4 1335C676.9 1340.3 680.9 1340.2 684 1343C687.1 1345.8 684.2 1347.2 690 1352C695.8 1356.8 711.8 1366.8 718.5 1372C725.2 1377.2 728.6 1380.2 730 1383C731.4 1385.8 727.5 1387.8 727 1388.8C728.3 1390.2 730.8 1393.6 735 1397C739.2 1400.4 748.8 1405.3 752 1409C755.2 1412.7 753.7 1417.3 754 1419C747.5 1422.3 728.2 1432.8 715 1439C701.8 1445.2 683.1 1451.5 674.7 1456C666.3 1460.5 668.2 1462.3 664.6 1466C661 1469.7 654.8 1476 652.8 1478C658.7 1482.2 677.6 1495.5 688 1503.3C698.4 1511.1 708.2 1519.9 715 1525C721.8 1530.1 721.8 1529.6 728.6 1533.7C735.4 1537.8 751.1 1547.1 755.6 1549.8L940 1672C955.8 1682.3 1018.3 1722.3 1035 1734C1051.7 1745.7 1037.9 1740.5 1040 1742C1042.1 1743.5 1046.5 1742.6 1047.8 1742.7C1061.5 1751.8 1103.1 1779.2 1130 1797C1156.9 1814.8 1196.2 1841 1209.4 1849.8L1233 1868L1225.5 1886C1233.1 1890.7 1258.6 1909.5 1271 1914C1283.4 1918.5 1289.9 1912.6 1300 1913C1310.1 1913.4 1326.3 1915.8 1331.6 1916.4L1326.6 1898.7C1331.7 1899.1 1344.8 1901.3 1357 1901C1369.2 1900.7 1388.7 1897.8 1400 1897C1411.3 1896.2 1420.8 1896.2 1425 1896L1430 2220L-5 2220L-5 1900C5.8 1900 39.2 1900.3 60 1900C80.8 1899.7 106.7 1897.8 120 1898C133.3 1898.2 136.7 1900.5 140 1901C141.7 1900.3 140 1897 150 1897C160 1897 185 1901 200 1901C215 1901 223.3 1897.2 240 1897C256.7 1896.8 280 1900 300 1900C320 1900 345.8 1896.7 360 1897C374.2 1897.3 378.3 1902 385 1902C391.7 1902 397.5 1897.8 400 1897C413.3 1897.7 453.3 1900.8 480 1901C506.7 1901.2 535.8 1898 560 1898C584.2 1898 601.7 1900.7 625 1901C648.3 1901.3 677.5 1900 700 1900C722.5 1900 739 1901.2 760 1901C781 1900.8 806.5 1897.9 826 1898.7C845.5 1899.5 868.4 1904.8 876.9 1906C887.8 1905 924.5 1901.5 942.5 1900C960.5 1898.5 971.5 1897 985 1897C998.5 1897 1017 1899.5 1023.4 1900L1015.8 1881L1056 1873.5C1052.7 1870.5 1041.4 1863 1036 1855.8C1030.6 1848.6 1027.6 1838.1 1023.4 1830.5C1019.2 1822.9 1012.9 1813.4 1010.8 1810C1009.5 1807 1011.8 1800.2 1003 1792C994.2 1783.8 971.5 1768.7 958 1761C944.5 1753.3 930.5 1751.8 922 1746C913.5 1740.2 909.5 1729.3 907 1726L781 1640C770.8 1632.5 741.7 1610 720 1595C698.3 1580 672.7 1566.3 651 1550C629.3 1533.7 602.3 1507 590 1497C577.7 1487 579.4 1494.8 577 1490C574.6 1485.2 574.6 1474.8 575.4 1468C576.2 1461.2 578.1 1455.4 582 1449.5C585.9 1443.6 592.5 1438.2 599 1432.6C605.5 1427 611.5 1421.4 620.8 1415.8C630 1410.2 644.4 1404 654.5 1399C664.6 1394 677 1387.8 681.5 1385.5C679.5 1383.5 676.5 1380 669.7 1373.7C663 1367.5 653.1 1359.8 641 1348C628.9 1336.2 604.3 1310.5 597 1303Z" fill="#046F7B" stroke="#000" stroke-width="2.5" stroke-linejoin="round" stroke-linecap="round"/>
<path d="M946.6 872.4 L1076 941 L1079.5 950 L1079.5 1225 L1034.5 1225 L1034.5 947 L1031 942.4 L985 915 L975 912 L972 903Z" fill="#046F7B"/>
<path d="M946.6 872.4 L1076 941 L1079.5 950 L1079.5 1225" fill="none" stroke="#000" stroke-width="2.2" stroke-linejoin="round" stroke-linecap="round"/>
<path d="M1034.5 1225 L1034.5 947 L1031 942.4 L985 915 L975 912 L972 903 L946.6 872.4" fill="none" stroke="#000" stroke-width="2.2" stroke-linejoin="round" stroke-linecap="round"/>
<path d="M1034.5 1222 L1079.5 1222 L1079.5 1230 L1034.5 1230Z" fill="#046F7B"/>
<path d="M0 1895L399 1898C404.2 1899.3 424.2 1902.8 430 1906C435.8 1909.2 436.7 1912.8 434 1917C431.3 1921.2 431.3 1928.7 414 1931C396.7 1933.3 344 1931 330 1931C328 1932.7 314.2 1936.3 318 1941C321.8 1945.7 347.2 1956 353 1959C343.3 1959.5 307.5 1959.8 295 1962C282.5 1964.2 288.8 1969.7 278 1972C267.2 1974.3 240.2 1974.7 230 1976C219.8 1977.3 213.3 1977.3 217 1980C220.7 1982.7 238.2 1989 252 1992C265.8 1995 283 1996 300 1998C317 2000 345 2003 354 2004C328.3 2004.3 228.2 2005 200 2006C171.8 2007 187.5 2009.3 185 2010L185 2029L89.5 2029C95.2 2037 127.2 2068.8 124 2077C120.8 2085.2 80.8 2076.5 70 2078C59.2 2079.5 54 2083 59 2086C64 2089 104.8 2092.3 100 2096C95.2 2099.7 44.7 2105.7 30 2108C15.3 2110.3 15 2109.7 12 2110L0 2110L0 1895Z" fill="#00525E"/>
<path d="M0 1900C10 1900 40 1900.3 60 1900C80 1899.7 106.7 1897.8 120 1898C133.3 1898.2 136.7 1900.5 140 1901C141.7 1900.3 140 1897 150 1897C160 1897 185 1901 200 1901C215 1901 223.3 1897.2 240 1897C256.7 1896.8 280 1900 300 1900C320 1900 345.8 1896.7 360 1897C374.2 1897.3 378.3 1902 385 1902C391.7 1902 397.5 1897.8 400 1897C413.3 1897.7 453.3 1900.8 480 1901C506.7 1901.2 535.8 1898 560 1898C584.2 1898 601.7 1900.7 625 1901C648.3 1901.3 677.5 1900 700 1900C722.5 1900 739 1901.2 760 1901C781 1900.8 806.5 1897.9 826 1898.7C845.5 1899.5 868.4 1904.8 876.9 1906C887.8 1905 924.5 1901.5 942.5 1900C960.5 1898.5 971.5 1897 985 1897C998.5 1897 1017 1899.5 1023.4 1900L1015.8 1881L1056 1873.5C1052.7 1870.5 1041.4 1863 1036 1855.8C1030.6 1848.6 1025.5 1834.7 1023.4 1830.5" fill="none" stroke="#000" stroke-width="2.6" stroke-linejoin="round" stroke-linecap="round"/>
<path d="M0 2110.5L110 2110.5L89.5 2143.5L72 2143.5C70.3 2143.9 64.3 2144.9 62 2146C59.7 2147.1 58.1 2148.9 58.4 2150.3C58.7 2151.7 60.4 2153.1 64 2154.5C67.6 2155.9 73.7 2157.2 80 2158.5C86.3 2159.8 98.3 2161.4 102 2162C95 2163 74.7 2165.9 60 2168C45.3 2170.1 21.4 2173.4 13.7 2174.5L0 2175L0 2110.5Z" fill="#00525E"/>
<line x1="0" y1="2110" x2="110" y2="2110" stroke="#00181c" stroke-width="2"/>
<line x1="1328" y1="2110" x2="1425" y2="2110" stroke="#00181c" stroke-width="2"/>
<path d="M1076.5 1832 L1127 1832 L1102.7 1850Z" fill="#00525E"/>
<path d="M1238 1945.7 L1306.4 1945.7 L1272 1972Z" fill="#00525E"/>
<path d="M597 1972 L653 1972 L626 1992Z" fill="#00525E"/>
<path d="M1372 2046 L1425 2046 L1402 2065Z" fill="#00525E"/>
<path d="M1372 2111 L1425 2111 L1402 2130Z" fill="#00525E"/>
<path d="M927 2119 L984 2119 L955 2138Z" fill="#00525E"/>
<path d="M1221.5 1385C1222.6 1383.3 1224.9 1378.2 1228 1375C1231.1 1371.8 1228 1368.2 1240 1366C1252 1363.8 1276.7 1362.9 1300 1362C1323.3 1361.1 1366.3 1361 1379.6 1360.8L1376.4 1368.8L1381 1376L1376 1381L1387.7 1386.6C1386.3 1387.7 1383.4 1391.8 1379.6 1393C1375.8 1394.2 1370.9 1393.5 1365 1394C1359.1 1394.5 1351.5 1396.5 1344 1396.3C1336.5 1396.1 1327 1393.1 1320 1393C1313 1392.9 1312 1395.8 1302 1395.6C1292 1395.4 1273.4 1393.8 1260 1392C1246.6 1390.2 1227.9 1386.2 1221.5 1385Z" fill="#4E8F99" stroke="#000" stroke-width="2.2" stroke-linejoin="round" stroke-linecap="round"/>
<path d="M955 1574C956.7 1571.7 960.2 1564.4 965 1560C969.8 1555.6 980.7 1549.5 983.8 1547.4C988.2 1546.2 1000.5 1542 1010 1540C1019.5 1538 1028.5 1538.6 1041 1535.6C1053.5 1532.6 1065.1 1526.3 1084.8 1522C1104.5 1517.7 1131.5 1512.2 1159 1510C1186.5 1507.8 1223.7 1508.7 1250 1509C1276.3 1509.3 1301.2 1506.8 1317 1512C1332.8 1517.2 1337 1529.5 1345 1540C1353 1550.5 1361.7 1569.2 1365 1575C1362.7 1576.2 1360.2 1579.5 1351 1582C1341.8 1584.5 1321.8 1587.3 1310 1590C1298.2 1592.7 1290 1596.2 1280 1598C1270 1599.8 1263.3 1601.3 1250 1601C1236.7 1600.7 1220.2 1596.4 1200 1596C1179.8 1595.6 1155.1 1598.4 1128.6 1598.6C1102.1 1598.8 1062.4 1598.8 1041 1597C1019.6 1595.2 1014.3 1591.8 1000 1588C985.7 1584.2 962.5 1576.3 955 1574Z" fill="#4E8F99" stroke="#000" stroke-width="2.2" stroke-linejoin="round" stroke-linecap="round"/>
<path d="M1240 1356C1241.7 1346.7 1247 1315.7 1250 1300C1253 1284.3 1255.8 1269.7 1258 1262C1260.2 1254.3 1261.4 1254.3 1263.4 1253.6C1265.4 1252.9 1267.2 1251.9 1270 1258C1272.8 1264.1 1277.3 1282 1280 1290C1282.7 1298 1283.2 1301.2 1286 1306C1288.8 1310.8 1293 1314 1297 1318.8C1301 1323.6 1309.5 1328.1 1310 1335C1310.5 1341.9 1301.7 1355.8 1300 1360L1240 1356Z" fill="#757575" stroke="#000" stroke-width="2.2" stroke-linejoin="round" stroke-linecap="round"/>
<path d="M1274.7 1359C1277.2 1355 1285.5 1341.7 1290 1335C1294.5 1328.3 1297.8 1320.5 1302 1318.8C1306.2 1317.1 1309.5 1321.8 1315 1325C1320.5 1328.2 1327.5 1335 1335 1338C1342.5 1341 1352.6 1340.3 1360 1343C1367.4 1345.7 1377.9 1351.5 1379.6 1354.3C1381.3 1357.1 1378.1 1358.1 1370 1360C1361.9 1361.9 1342.7 1365.1 1331 1365.6C1319.3 1366.1 1309.4 1364.1 1300 1363C1290.6 1361.9 1278.9 1359.7 1274.7 1359Z" fill="#4A4A4A" stroke="#000" stroke-width="2.2" stroke-linejoin="round" stroke-linecap="round"/>
<path d="M1341.8 1318C1342.8 1313.3 1345.7 1297.5 1348 1290C1350.3 1282.5 1353.1 1274.7 1355.4 1273C1357.7 1271.3 1359.2 1275.5 1362 1280C1364.8 1284.5 1369.2 1294 1372 1300C1374.8 1306 1379.3 1312.5 1379 1316C1378.7 1319.5 1374.8 1320.2 1370 1321C1365.2 1321.8 1354.7 1321.5 1350 1321C1345.3 1320.5 1343.2 1318.5 1341.8 1318Z" fill="#4A4A4A" stroke="#000" stroke-width="2.2" stroke-linejoin="round" stroke-linecap="round"/>
<path d="M1043.3 1512.5C1046.1 1505.4 1055.2 1482.9 1060 1470C1064.8 1457.1 1068.3 1442.7 1072 1435C1075.7 1427.3 1079 1424.2 1082 1423.7C1085 1423.2 1087.5 1425.6 1090 1432C1092.5 1438.4 1095 1454.5 1097 1462C1099 1469.5 1099 1472.3 1102 1477C1105 1481.7 1113.7 1484.2 1115 1490C1116.3 1495.8 1116.7 1507 1110 1512C1103.3 1517 1084.4 1518.3 1075 1520C1065.6 1521.7 1058.9 1523.2 1053.6 1522C1048.3 1520.8 1045 1514.1 1043.3 1512.5Z" fill="#757575" stroke="#000" stroke-width="2.2" stroke-linejoin="round" stroke-linecap="round"/>
<path d="M1094 1514C1094.7 1510 1095.6 1496.2 1098 1490C1100.4 1483.8 1104.8 1478.3 1108.5 1477C1112.2 1475.7 1114.3 1476.9 1120 1482C1125.7 1487.1 1139.9 1502.8 1142.4 1507.6C1144.9 1512.4 1140.4 1509.9 1135 1511C1129.6 1512.1 1116.8 1513.5 1110 1514C1103.2 1514.5 1096.7 1514 1094 1514Z" fill="#4A4A4A" stroke="#000" stroke-width="2.2" stroke-linejoin="round" stroke-linecap="round"/>
<path d="M1158.5 1506C1160.1 1503.7 1164.5 1496.8 1168 1492C1171.5 1487.2 1176.5 1482.7 1179.5 1477C1182.5 1471.3 1182.6 1461.6 1186 1457.6C1189.4 1453.6 1195.7 1453.5 1200 1453C1204.3 1452.5 1209 1451.5 1211.8 1454.4C1214.6 1457.3 1217.3 1463.7 1217 1470.5C1216.7 1477.3 1212 1488 1210 1495C1208 1502 1210 1509.7 1205 1512.5C1200 1515.3 1187.8 1513.1 1180 1512C1172.2 1510.9 1162.1 1507 1158.5 1506Z" fill="#757575" stroke="#000" stroke-width="2.2" stroke-linejoin="round" stroke-linecap="round"/>
<path d="M1203.7 1510.9C1204.8 1505.8 1207 1489.8 1210 1480C1213 1470.2 1217.4 1458.7 1222 1452C1226.6 1445.3 1232.1 1440.1 1237.6 1439.8C1243.1 1439.5 1249.6 1444.9 1255 1450C1260.4 1455.1 1264.2 1463 1270 1470.5C1275.8 1478 1285.2 1488.6 1290 1495C1294.8 1501.4 1298.2 1505.5 1299 1509C1299.8 1512.5 1303.2 1515.2 1295 1516C1286.8 1516.8 1265.2 1514.8 1250 1514C1234.8 1513.2 1211.4 1511.4 1203.7 1510.9Z" fill="#4A4A4A" stroke="#000" stroke-width="2.2" stroke-linejoin="round" stroke-linecap="round"/>
<path d="M1318.3 1525.4C1320.4 1521.6 1326.5 1510.4 1331 1502.8C1335.5 1495.2 1341 1487.5 1345 1480C1349 1472.5 1352.2 1462.5 1355 1458C1357.8 1453.5 1359.4 1452.1 1361.9 1452.8C1364.4 1453.5 1367 1454.1 1370 1462C1373 1469.9 1376.8 1487 1380 1500C1383.2 1513 1388 1530.8 1389 1540C1390 1549.2 1394.2 1551.7 1386 1555C1377.8 1558.3 1348.5 1562.5 1340 1560C1331.5 1557.5 1338.6 1545.8 1335 1540C1331.4 1534.2 1321.1 1527.8 1318.3 1525.4Z" fill="#4A4A4A" stroke="#000" stroke-width="2.2" stroke-linejoin="round" stroke-linecap="round"/>
<path d="M1335 1575C1336.7 1570 1341.7 1554.2 1345 1545C1348.3 1535.8 1352.5 1525 1355 1520C1357.5 1515 1358.2 1514.2 1360 1515C1361.8 1515.8 1364 1517.5 1366 1525C1368 1532.5 1371.3 1551.5 1372 1560C1372.7 1568.5 1373.7 1572.7 1370 1576C1366.3 1579.3 1355.8 1580.2 1350 1580C1344.2 1579.8 1337.5 1575.8 1335 1575Z" fill="#4A4A4A" stroke="#000" stroke-width="2.2" stroke-linejoin="round" stroke-linecap="round"/>
<path d="M47.4 671.6C55 670.2 77.5 666.4 93 663.2C108.5 660 134.1 655.5 140.4 652.3C146.8 649 130.1 646 131.3 643.9C132.5 641.7 140.1 639.9 147.7 639.5C155.3 639.1 170.9 643.1 176.9 641.3C183 639.5 180 631.6 184.2 628.5C188.5 625.5 196.7 623.6 202.5 623.1C208.3 622.6 216.2 628.1 218.9 625.6C221.6 623.2 216.2 613.2 218.9 608.5C221.6 603.8 228.9 599.6 235.3 597.5C241.7 595.4 251.1 597.8 257.2 595.7C263.3 593.6 268.8 589.3 271.8 584.7C274.9 580.2 272.4 571.7 275.5 568.3C278.5 565 284.6 564.7 290.1 564.7C295.5 564.7 304.7 550.5 308.3 568.3C312 586.1 311.4 654.4 312 671.6L47.4 671.6Z" fill="#BAC1BB"/>
<path d="M312 671.6C312 654.1 296.8 574.9 312 566.5C327.2 558.1 385 611.6 403.2 621.2C421.5 630.9 415.4 622.3 421.5 624.2C427.5 626 436.7 627.5 439.7 632.2C442.7 636.9 433.6 648.3 439.7 652.3C445.8 656.2 465.9 654.1 476.2 655.9C486.5 657.7 497.1 661.1 501.8 663.2C506.4 665.3 505.5 667.3 504.3 668.7C503.1 670.1 496.1 671.1 494.5 671.6L312 671.6Z" fill="#BAC1BB"/>
<ellipse cx="357.6" cy="597.5" rx="57.3" ry="57.3" fill="#BAC1BB"/>
<ellipse cx="285.7" cy="580.4" rx="16.1" ry="16.1" fill="#BAC1BB"/>
<ellipse cx="243.4" cy="613.2" rx="22.6" ry="22.6" fill="#BAC1BB"/>
<ellipse cx="201.4" cy="639.5" rx="16.8" ry="16.8" fill="#BAC1BB"/>
<ellipse cx="421.5" cy="641.3" rx="20.4" ry="20.4" fill="#BAC1BB"/>
<ellipse cx="260.9" cy="599.3" rx="14.6" ry="14.6" fill="#BAC1BB"/>
<ellipse cx="155" cy="650.4" rx="10.9" ry="10.9" fill="#BAC1BB"/>
<path d="M47.4 671.6C58 670.6 92.7 666.6 111.2 665.8C129.8 665 149.6 668.2 158.7 666.9C167.8 665.5 162.3 658.3 166 657.7C169.6 657.1 175.7 663.8 180.6 663.2C185.5 662.6 194.6 658 195.2 654.1C195.8 650.1 183 640.1 184.2 639.5C185.5 638.9 195.8 650.9 202.5 650.4C209.2 650 221 641.4 224.4 636.6C227.7 631.7 220.1 622.3 222.6 621.2C225 620.2 231.4 627.3 239 630.4C246.6 633.4 262.1 640.4 268.2 639.5C274.3 638.6 271.8 628.5 275.5 624.9C279.1 621.2 288.9 621.8 290.1 617.6C291.3 613.3 280.9 602.1 282.8 599.3C284.6 596.6 296.8 598.7 301 601.2C305.3 603.6 304.7 610.6 308.3 613.9C312 617.3 318.7 617.5 322.9 621.2C327.2 625 329.6 635 333.9 636.6C338.1 638.1 343 629.1 348.5 630.4C353.9 631.6 360.6 642.3 366.7 643.9C372.8 645.4 379.5 641.1 385 639.5C390.4 637.8 396.2 634 399.6 634C402.9 634 404.4 636.4 405 639.5C405.6 642.5 400.5 649.5 403.2 652.3C405.9 655 417.2 654.4 421.5 655.9C425.7 657.4 422.7 659.6 428.8 661.4C434.8 663.2 447 665.3 458 666.9C468.9 668.4 488.4 670.2 494.5 670.9L47.4 671.6Z" fill="#7F8781"/>
<path d="M23.6 598.6C26.2 598.2 33.8 597.1 39.1 596.2C44.4 595.3 53 594 55.2 593.1C57.4 592.1 51.7 591.3 52.1 590.7C52.5 590.1 55.1 589.5 57.7 589.4C60.3 589.3 65.5 590.5 67.6 589.9C69.7 589.4 68.6 587.1 70.1 586.3C71.5 585.4 74.3 584.8 76.3 584.7C78.2 584.6 80.9 586.1 81.9 585.4C82.8 584.7 80.9 581.9 81.9 580.5C82.8 579.2 85.3 578 87.4 577.4C89.6 576.8 92.8 577.5 94.9 576.9C96.9 576.3 98.8 575 99.8 573.7C100.9 572.4 100 570 101.1 569C102.1 568.1 104.2 568 106 568C107.9 568 111 563.9 112.2 569C113.5 574.1 113.3 593.7 113.5 598.6L23.6 598.6Z" fill="#BAC1BB"/>
<path d="M113.5 598.6C113.5 593.6 108.3 570.9 113.5 568.5C118.6 566.1 138.3 581.4 144.5 584.2C150.7 586.9 148.6 584.5 150.7 585C152.7 585.5 155.8 586 156.9 587.3C157.9 588.7 154.8 591.9 156.9 593.1C158.9 594.2 165.7 593.6 169.3 594.1C172.8 594.6 176.3 595.6 177.9 596.2C179.5 596.8 179.2 597.4 178.8 597.8C178.4 598.2 176 598.5 175.5 598.6L113.5 598.6Z" fill="#BAC1BB"/>
<ellipse cx="129" cy="577.4" rx="19.5" ry="16.4" fill="#BAC1BB"/>
<ellipse cx="104.5" cy="572.5" rx="5.5" ry="4.6" fill="#BAC1BB"/>
<ellipse cx="90.2" cy="581.9" rx="7.7" ry="6.5" fill="#BAC1BB"/>
<ellipse cx="75.9" cy="589.4" rx="5.7" ry="4.8" fill="#BAC1BB"/>
<ellipse cx="150.7" cy="589.9" rx="6.9" ry="5.8" fill="#BAC1BB"/>
<ellipse cx="96.1" cy="577.9" rx="5" ry="4.2" fill="#BAC1BB"/>
<ellipse cx="60.2" cy="592.5" rx="3.7" ry="3.1" fill="#BAC1BB"/>
<path d="M23.6 598.6C27.2 598.3 39 597.2 45.3 596.9C51.6 596.7 58.3 597.6 61.4 597.2C64.5 596.9 62.6 594.8 63.9 594.6C65.1 594.5 67.2 596.4 68.8 596.2C70.5 596 73.6 594.7 73.8 593.6C74 592.5 69.7 589.6 70.1 589.4C70.5 589.2 74 592.7 76.3 592.5C78.6 592.4 82.6 590 83.7 588.6C84.9 587.2 82.3 584.5 83.1 584.2C83.9 583.9 86.1 585.9 88.7 586.8C91.3 587.7 96.5 589.7 98.6 589.4C100.7 589.1 99.8 586.3 101.1 585.2C102.3 584.2 105.6 584.4 106 583.1C106.4 581.9 102.9 578.7 103.6 577.9C104.2 577.1 108.3 577.7 109.8 578.4C111.2 579.1 111 581.1 112.2 582.1C113.5 583.1 115.7 583.1 117.2 584.2C118.6 585.3 119.5 588.1 120.9 588.6C122.4 589 124 586.4 125.9 586.8C127.7 587.1 130 590.2 132.1 590.7C134.1 591.1 136.4 589.9 138.3 589.4C140.1 588.9 142.1 587.8 143.2 587.8C144.4 587.8 144.9 588.5 145.1 589.4C145.3 590.3 143.5 592.3 144.5 593.1C145.4 593.8 149.2 593.7 150.7 594.1C152.1 594.5 151.1 595.2 153.1 595.7C155.2 596.2 159.3 596.8 163.1 597.2C166.8 597.7 173.4 598.2 175.5 598.4L23.6 598.6Z" fill="#7F8781"/>
<path d="M443 577.4C444.5 577.2 449 576.5 452.1 576C455.3 575.4 460.4 574.6 461.7 574.1C462.9 573.5 459.6 573 459.8 572.6C460.1 572.3 461.6 571.9 463.1 571.9C464.6 571.8 467.8 572.5 469 572.2C470.2 571.9 469.6 570.5 470.4 570C471.3 569.5 472.9 569.1 474.1 569.1C475.3 569 476.8 569.9 477.4 569.5C477.9 569.1 476.8 567.3 477.4 566.5C477.9 565.7 479.4 565 480.7 564.7C482 564.3 483.8 564.7 485.1 564.3C486.3 564 487.4 563.2 488 562.5C488.6 561.7 488.1 560.2 488.7 559.6C489.3 559.1 490.6 559 491.7 559C492.8 559 494.6 556.6 495.3 559.6C496 562.7 495.9 574.4 496 577.4L443 577.4Z" fill="#BAC1BB"/>
<path d="M496 577.4C496 574.4 493 560.8 496 559.3C499.1 557.9 510.7 567.1 514.3 568.7C518 570.4 516.8 568.9 518 569.2C519.2 569.6 521 569.8 521.7 570.6C522.3 571.4 520.4 573.4 521.7 574.1C522.9 574.8 526.9 574.4 529 574.7C531 575 533.1 575.6 534.1 576C535 576.3 534.8 576.7 534.6 576.9C534.4 577.1 533 577.3 532.6 577.4L496 577.4Z" fill="#BAC1BB"/>
<ellipse cx="505.2" cy="564.7" rx="11.5" ry="9.9" fill="#BAC1BB"/>
<ellipse cx="490.8" cy="561.7" rx="3.2" ry="2.8" fill="#BAC1BB"/>
<ellipse cx="482.3" cy="567.4" rx="4.5" ry="3.9" fill="#BAC1BB"/>
<ellipse cx="473.9" cy="571.9" rx="3.4" ry="2.9" fill="#BAC1BB"/>
<ellipse cx="518" cy="572.2" rx="4.1" ry="3.5" fill="#BAC1BB"/>
<ellipse cx="485.8" cy="565" rx="2.9" ry="2.5" fill="#BAC1BB"/>
<ellipse cx="464.6" cy="573.8" rx="2.2" ry="1.9" fill="#BAC1BB"/>
<path d="M443 577.4C445.1 577.2 452.1 576.5 455.8 576.4C459.5 576.3 463.5 576.8 465.3 576.6C467.1 576.4 466 575.1 466.8 575C467.5 574.9 468.7 576.1 469.7 576C470.7 575.9 472.5 575.1 472.6 574.4C472.8 573.7 470.2 572 470.4 571.9C470.7 571.8 472.8 573.8 474.1 573.8C475.4 573.7 477.8 572.2 478.5 571.4C479.2 570.5 477.6 568.9 478.1 568.7C478.6 568.6 479.9 569.8 481.4 570.3C482.9 570.8 486 572 487.3 571.9C488.5 571.7 488 570 488.7 569.4C489.5 568.7 491.4 568.8 491.7 568.1C491.9 567.4 489.8 565.4 490.2 565C490.6 564.5 493 564.9 493.8 565.3C494.7 565.7 494.6 566.9 495.3 567.5C496 568.1 497.4 568.1 498.2 568.7C499.1 569.4 499.6 571.1 500.4 571.4C501.3 571.6 502.3 570.1 503.4 570.3C504.5 570.5 505.8 572.4 507 572.6C508.2 572.9 509.6 572.2 510.7 571.9C511.8 571.6 512.9 570.9 513.6 570.9C514.3 570.9 514.6 571.4 514.7 571.9C514.8 572.4 513.8 573.6 514.3 574.1C514.9 574.5 517.1 574.4 518 574.7C518.8 575 518.2 575.3 519.5 575.6C520.7 576 523.1 576.3 525.3 576.6C527.5 576.9 531.4 577.2 532.6 577.3L443 577.4Z" fill="#7F8781"/>
<line x1="226.6" y1="706.4" x2="222.8" y2="760.7" stroke="#5b6b78" stroke-width="1.2" opacity="0.35"/>
<line x1="136.1" y1="794.2" x2="133.2" y2="835.6" stroke="#5b6b78" stroke-width="1.2" opacity="0.35"/>
<line x1="130.9" y1="787.7" x2="129" y2="814.4" stroke="#5b6b78" stroke-width="1.2" opacity="0.35"/>
<line x1="266.1" y1="687.9" x2="264.1" y2="717" stroke="#5b6b78" stroke-width="1.2" opacity="0.35"/>
<line x1="262.8" y1="860.5" x2="260.7" y2="891.1" stroke="#5b6b78" stroke-width="1.2" opacity="0.35"/>
<line x1="190.4" y1="815.1" x2="185.6" y2="882.7" stroke="#5b6b78" stroke-width="1.2" opacity="0.35"/>
<line x1="317.8" y1="762.4" x2="312.9" y2="831.4" stroke="#5b6b78" stroke-width="1.2" opacity="0.35"/>
<line x1="126.8" y1="867.7" x2="124.1" y2="905.8" stroke="#5b6b78" stroke-width="1.2" opacity="0.35"/>
<line x1="161.9" y1="698.9" x2="159.2" y2="737.7" stroke="#5b6b78" stroke-width="1.2" opacity="0.35"/>
<line x1="403.8" y1="713.2" x2="400.2" y2="764.4" stroke="#5b6b78" stroke-width="1.2" opacity="0.35"/>
<line x1="340" y1="756.9" x2="336.5" y2="806.6" stroke="#5b6b78" stroke-width="1.2" opacity="0.35"/>
<line x1="132.6" y1="685.6" x2="130.2" y2="719.9" stroke="#5b6b78" stroke-width="1.2" opacity="0.35"/>
<line x1="354.9" y1="769.5" x2="352.2" y2="808.6" stroke="#5b6b78" stroke-width="1.2" opacity="0.35"/>
<line x1="320.8" y1="775.3" x2="318.1" y2="813.8" stroke="#5b6b78" stroke-width="1.2" opacity="0.35"/>
<line x1="396" y1="831.4" x2="393.5" y2="867.4" stroke="#5b6b78" stroke-width="1.2" opacity="0.35"/>
<line x1="316.8" y1="791.7" x2="312.3" y2="856.1" stroke="#5b6b78" stroke-width="1.2" opacity="0.35"/>
<line x1="372.6" y1="737.6" x2="367.8" y2="806.8" stroke="#5b6b78" stroke-width="1.2" opacity="0.35"/>
<line x1="152.5" y1="767.3" x2="148.4" y2="826.4" stroke="#5b6b78" stroke-width="1.2" opacity="0.35"/>
<line x1="164.7" y1="783.5" x2="162.8" y2="810.2" stroke="#5b6b78" stroke-width="1.2" opacity="0.35"/>
<line x1="350.6" y1="846.3" x2="347" y2="897.1" stroke="#5b6b78" stroke-width="1.2" opacity="0.35"/>
<line x1="425.2" y1="743.5" x2="421.2" y2="799.8" stroke="#5b6b78" stroke-width="1.2" opacity="0.35"/>
<line x1="324" y1="804.2" x2="320.8" y2="849.7" stroke="#5b6b78" stroke-width="1.2" opacity="0.35"/>
<line x1="412.4" y1="887.4" x2="409.1" y2="933.7" stroke="#5b6b78" stroke-width="1.2" opacity="0.35"/>
<line x1="349.1" y1="685.8" x2="345.1" y2="742.4" stroke="#5b6b78" stroke-width="1.2" opacity="0.35"/>
<line x1="343" y1="898.4" x2="338.6" y2="960.4" stroke="#5b6b78" stroke-width="1.2" opacity="0.35"/>
<line x1="212.5" y1="760" x2="208.6" y2="815" stroke="#5b6b78" stroke-width="1.2" opacity="0.35"/>
<line x1="118.1" y1="777.3" x2="115.8" y2="809.8" stroke="#5b6b78" stroke-width="1.2" opacity="0.35"/>
<line x1="152.2" y1="685.4" x2="148" y2="745" stroke="#5b6b78" stroke-width="1.2" opacity="0.35"/>
<line x1="156.6" y1="728.5" x2="153.6" y2="771" stroke="#5b6b78" stroke-width="1.2" opacity="0.35"/>
<line x1="423.7" y1="690.4" x2="420.5" y2="735.6" stroke="#5b6b78" stroke-width="1.2" opacity="0.35"/>
<line x1="307.8" y1="873.4" x2="303.5" y2="935.3" stroke="#5b6b78" stroke-width="1.2" opacity="0.35"/>
<line x1="421" y1="735.5" x2="418" y2="779.2" stroke="#5b6b78" stroke-width="1.2" opacity="0.35"/>
<line x1="239.2" y1="873.6" x2="234.4" y2="941.7" stroke="#5b6b78" stroke-width="1.2" opacity="0.35"/>
<line x1="164.3" y1="712.2" x2="161.9" y2="747.6" stroke="#5b6b78" stroke-width="1.2" opacity="0.35"/>
<line x1="194" y1="782.6" x2="190.4" y2="834.1" stroke="#5b6b78" stroke-width="1.2" opacity="0.35"/>
<line x1="204.6" y1="672.9" x2="201.5" y2="716.8" stroke="#5b6b78" stroke-width="1.2" opacity="0.35"/>
<line x1="242.9" y1="801.1" x2="238.2" y2="869" stroke="#5b6b78" stroke-width="1.2" opacity="0.35"/>
<line x1="358.6" y1="789.5" x2="354.9" y2="842.3" stroke="#5b6b78" stroke-width="1.2" opacity="0.35"/>
<line x1="353.4" y1="684.3" x2="348.8" y2="749.8" stroke="#5b6b78" stroke-width="1.2" opacity="0.35"/>
<line x1="390.8" y1="871.4" x2="386.5" y2="932.3" stroke="#5b6b78" stroke-width="1.2" opacity="0.35"/>
<line x1="251.3" y1="763" x2="249.2" y2="792.6" stroke="#5b6b78" stroke-width="1.2" opacity="0.35"/>
<line x1="338.3" y1="686.2" x2="336.4" y2="714.2" stroke="#5b6b78" stroke-width="1.2" opacity="0.35"/>
<line x1="185.2" y1="709" x2="182.3" y2="749.3" stroke="#5b6b78" stroke-width="1.2" opacity="0.35"/>
<line x1="128.9" y1="672.1" x2="126.7" y2="703.9" stroke="#5b6b78" stroke-width="1.2" opacity="0.35"/>
<line x1="146.5" y1="754.9" x2="144.7" y2="781.1" stroke="#5b6b78" stroke-width="1.2" opacity="0.35"/>
<line x1="424.8" y1="812" x2="422.5" y2="843.7" stroke="#5b6b78" stroke-width="1.2" opacity="0.35"/>
<use href="#drop" transform="translate(126 683.5) scale(0.9)"/>
<use href="#drop" transform="translate(176 684.5) scale(0.9)"/>
<use href="#drop" transform="translate(227 685.5) scale(0.9)"/>
<use href="#drop" transform="translate(276 686.5) scale(0.9)"/>
<use href="#drop" transform="translate(327 687.5) scale(0.9)"/>
<use href="#drop" transform="translate(372 688.4) scale(0.9)"/>
<use href="#drop" transform="translate(423 689.5) scale(0.9)"/>
<use href="#drop" transform="translate(471 690.4) scale(0.9)"/>
<use href="#drop" transform="translate(126 728.5) scale(0.9)"/>
<use href="#drop" transform="translate(176 729.5) scale(0.9)"/>
<use href="#drop" transform="translate(227 730.5) scale(0.9)"/>
<use href="#drop" transform="translate(276 731.5) scale(0.9)"/>
<use href="#drop" transform="translate(327 732.5) scale(0.9)"/>
<use href="#drop" transform="translate(372 733.4) scale(0.9)"/>
<use href="#drop" transform="translate(423 734.5) scale(0.9)"/>
<use href="#drop" transform="translate(471 735.4) scale(0.9)"/>
<use href="#drop" transform="translate(126 777.5) scale(0.9)"/>
<use href="#drop" transform="translate(176 778.5) scale(0.9)"/>
<use href="#drop" transform="translate(227 779.5) scale(0.9)"/>
<use href="#drop" transform="translate(276 780.5) scale(0.9)"/>
<use href="#drop" transform="translate(327 781.5) scale(0.9)"/>
<use href="#drop" transform="translate(372 782.4) scale(0.9)"/>
<use href="#drop" transform="translate(423 783.5) scale(0.9)"/>
<use href="#drop" transform="translate(471 784.4) scale(0.9)"/>
<use href="#drop" transform="translate(126 832.5) scale(0.9)"/>
<use href="#drop" transform="translate(176 833.5) scale(0.9)"/>
<use href="#drop" transform="translate(227 834.5) scale(0.9)"/>
<use href="#drop" transform="translate(276 835.5) scale(0.9)"/>
<use href="#drop" transform="translate(327 836.5) scale(0.9)"/>
<use href="#drop" transform="translate(372 837.4) scale(0.9)"/>
<use href="#drop" transform="translate(423 838.5) scale(0.9)"/>
<use href="#drop" transform="translate(471 839.4) scale(0.9)"/>
<use href="#drop" transform="translate(126 894.5) scale(0.9)"/>
<use href="#drop" transform="translate(176 895.5) scale(0.9)"/>
<use href="#drop" transform="translate(227 896.5) scale(0.9)"/>
<use href="#drop" transform="translate(276 897.5) scale(0.9)"/>
<use href="#drop" transform="translate(327 898.5) scale(0.9)"/>
<use href="#drop" transform="translate(372 899.4) scale(0.9)"/>
<use href="#drop" transform="translate(423 900.5) scale(0.9)"/>
<use href="#drop" transform="translate(471 901.4) scale(0.9)"/>
<use href="#drop" transform="translate(103 704.1) scale(0.9)"/>
<use href="#drop" transform="translate(153 705.1) scale(0.9)"/>
<use href="#drop" transform="translate(204 706.1) scale(0.9)"/>
<use href="#drop" transform="translate(254 707.1) scale(0.9)"/>
<use href="#drop" transform="translate(304 708.1) scale(0.9)"/>
<use href="#drop" transform="translate(349 709) scale(0.9)"/>
<use href="#drop" transform="translate(400 710) scale(0.9)"/>
<use href="#drop" transform="translate(448 711) scale(0.9)"/>
<use href="#drop" transform="translate(103 748.1) scale(0.9)"/>
<use href="#drop" transform="translate(153 749.1) scale(0.9)"/>
<use href="#drop" transform="translate(204 750.1) scale(0.9)"/>
<use href="#drop" transform="translate(254 751.1) scale(0.9)"/>
<use href="#drop" transform="translate(304 752.1) scale(0.9)"/>
<use href="#drop" transform="translate(349 753) scale(0.9)"/>
<use href="#drop" transform="translate(400 754) scale(0.9)"/>
<use href="#drop" transform="translate(448 755) scale(0.9)"/>
<use href="#drop" transform="translate(103 802.1) scale(0.9)"/>
<use href="#drop" transform="translate(153 803.1) scale(0.9)"/>
<use href="#drop" transform="translate(204 804.1) scale(0.9)"/>
<use href="#drop" transform="translate(254 805.1) scale(0.9)"/>
<use href="#drop" transform="translate(304 806.1) scale(0.9)"/>
<use href="#drop" transform="translate(349 807) scale(0.9)"/>
<use href="#drop" transform="translate(400 808) scale(0.9)"/>
<use href="#drop" transform="translate(448 809) scale(0.9)"/>
<use href="#drop" transform="translate(103 860.1) scale(0.9)"/>
<use href="#drop" transform="translate(153 861.1) scale(0.9)"/>
<use href="#drop" transform="translate(204 862.1) scale(0.9)"/>
<use href="#drop" transform="translate(254 863.1) scale(0.9)"/>
<use href="#drop" transform="translate(304 864.1) scale(0.9)"/>
<use href="#drop" transform="translate(349 865) scale(0.9)"/>
<use href="#drop" transform="translate(400 866) scale(0.9)"/>
<use href="#drop" transform="translate(448 867) scale(0.9)"/>
<use href="#drop" transform="translate(103 922.1) scale(0.9)"/>
<use href="#drop" transform="translate(153 923.1) scale(0.9)"/>
<use href="#drop" transform="translate(204 924.1) scale(0.9)"/>
<use href="#drop" transform="translate(254 925.1) scale(0.9)"/>
<use href="#drop" transform="translate(304 926.1) scale(0.9)"/>
<use href="#drop" transform="translate(349 927) scale(0.9)"/>
<use href="#drop" transform="translate(400 928) scale(0.9)"/>
<use href="#drop" transform="translate(448 929) scale(0.9)"/>
<use href="#flake" x="140.5" y="181"/>
<use href="#flake" x="193.5" y="181"/>
<use href="#flake" x="245" y="181"/>
<use href="#flake" x="296.6" y="181"/>
<use href="#flake" x="348.7" y="181"/>
<use href="#flake" x="162" y="208.7"/>
<use href="#flake" x="216" y="208.7"/>
<use href="#flake" x="267.8" y="208.7"/>
<use href="#flake" x="318.9" y="208.7"/>
<use href="#flake" x="371.4" y="208.7"/>
<use href="#flake" x="420.4" y="208.7"/>
<use href="#flake" x="472.5" y="208.7"/>
<use href="#flake" x="136.4" y="241"/>
<use href="#flake" x="189.5" y="241"/>
<use href="#flake" x="244" y="241"/>
<use href="#flake" x="295.6" y="241"/>
<use href="#flake" x="347" y="241"/>
<use href="#flake" x="399" y="241"/>
<use href="#flake" x="442.6" y="241"/>
<use href="#flake" x="159" y="268.8"/>
<use href="#flake" x="212.7" y="268.8"/>
<use href="#flake" x="266" y="268.8"/>
<use href="#flake" x="317.8" y="268.8"/>
<use href="#flake" x="368.9" y="268.8"/>
<use href="#flake" x="421.4" y="268.8"/>
<use href="#flake" x="475" y="268.8"/>
<use href="#flake" x="530.6" y="268.8"/>
<use href="#flake" x="580" y="268.8"/>
<use href="#flake" x="631.6" y="268.8"/>
<use href="#flake" x="683" y="268.8"/>
<use href="#flake" x="137.4" y="295.6"/>
<use href="#flake" x="191" y="295.6"/>
<use href="#flake" x="245" y="295.6"/>
<use href="#flake" x="296" y="295.6"/>
<use href="#flake" x="347.6" y="295.6"/>
<use href="#flake" x="400" y="295.6"/>
<use href="#flake" x="443.7" y="295.6"/>
<use href="#flake" x="497.7" y="295.6"/>
<use href="#flake" x="553" y="295.6"/>
<use href="#flake" x="602" y="295.6"/>
<use href="#flake" x="654" y="295.6"/>
<use href="#flake" x="706" y="295.6"/>
<use href="#flake" x="160" y="323.4"/>
<use href="#flake" x="213.7" y="323.4"/>
<use href="#flake" x="267.8" y="323.4"/>
<use href="#flake" x="318.9" y="323.4"/>
<use href="#flake" x="370.4" y="323.4"/>
<use href="#flake" x="423.4" y="323.4"/>
<use href="#flake" x="477.5" y="323.4"/>
<use href="#flake" x="531.6" y="323.4"/>
<use href="#flake" x="582" y="323.4"/>
<use href="#flake" x="634" y="323.4"/>
<use href="#flake" x="685.7" y="323.4"/>
<use href="#flake" x="136.4" y="356"/>
<use href="#flake" x="189.5" y="356"/>
<use href="#flake" x="244" y="356"/>
<use href="#flake" x="295.6" y="356"/>
<use href="#flake" x="347" y="356"/>
<use href="#flake" x="399" y="356"/>
<use href="#flake" x="445.7" y="356"/>
<use href="#flake" x="500" y="356"/>
<use href="#flake" x="554" y="356"/>
<use href="#flake" x="605" y="356"/>
<use href="#flake" x="656" y="356"/>
<use href="#flake" x="707" y="356"/>
<path d="M700 166.5L720.8 84.7L741.9 114C751.6 108.2 779.2 86.6 800 79.3C820.8 72 844.5 69.8 866.7 70C888.9 70.2 913 74.7 933 80.7C953 86.7 971.5 96.2 986.7 106C1001.9 115.8 1015.1 130.3 1024 139.3C1032.9 148.3 1037.3 156.6 1040 160L990 165C986.8 160.9 982.4 148.8 970.7 140.7C959 132.6 937.3 122.3 920 116.7C902.7 111.1 884.5 107.1 866.7 106.8C848.9 106.5 830.2 109 813 115C795.8 121 771.5 138.2 763.2 142.8L784 170.8L700 166.5Z" fill="#E5A532" stroke="#000" stroke-width="3" stroke-linejoin="miter" stroke-miterlimit="6"/>
<path d="M548.5 505.5L609.4 379L627.7 398C640.2 384.8 677.9 342.3 702.5 318.7C727.1 295.1 748.4 276 775.5 256.6C802.6 237.3 839.2 215.4 865 202.6C890.8 189.8 907.5 184.6 930 180C952.5 175.4 983.3 172.5 1000 175C1016.7 177.5 1025 191.7 1030 195L996.3 236.6C992.3 234.3 983.2 225.1 972.6 223C962 220.9 947 221.5 932.4 223.8C917.8 226.1 905.1 227.5 885 236.6C864.9 245.7 839.4 259.4 812 278.5C784.6 297.6 747.8 328.2 720.7 351.5C693.6 374.8 661.5 406.9 649.6 418L671.5 433L548.5 505.5Z" fill="#E5A532" stroke="#000" stroke-width="3" stroke-linejoin="miter" stroke-miterlimit="6"/>
<path d="M609.4 379 L627.7 398" fill="none" stroke="#000" stroke-width="5.5" stroke-linecap="round"/>
<path d="M649.6 418 L671.5 433" fill="none" stroke="#000" stroke-width="5.5" stroke-linecap="round"/>
<path d="M960 222.5C963 222.9 972 222.7 978 225C984 227.3 993.2 234.7 996.3 236.6" fill="none" stroke="#000" stroke-width="5.5" stroke-linecap="round"/>
<path d="M1231.5 1107.3L1272.6 1177.7L1248 1178.5C1247.7 1186.2 1247.2 1211.3 1246 1225C1244.8 1238.7 1243.1 1248.2 1240.8 1260.7C1238.5 1273.2 1235.8 1287.6 1232 1300C1228.2 1312.4 1223.7 1324.2 1218 1335C1212.3 1345.8 1206 1355.9 1198 1365C1190 1374.1 1179.5 1383.1 1169.8 1389.8C1160.1 1396.5 1150.1 1401.2 1140 1405C1129.9 1408.8 1114.2 1411.2 1109 1412.4L1106.9 1373C1111.1 1372.2 1124.2 1370 1132 1368C1139.8 1366 1146.5 1365.1 1153.7 1360.8C1160.9 1356.5 1168.5 1349 1175 1342C1181.5 1335 1187.2 1327.5 1192.4 1318.8C1197.6 1310.1 1202.2 1299.7 1206 1290C1209.8 1280.3 1212.7 1272.4 1215 1260.7C1217.3 1249 1218.9 1233.4 1220 1220C1221.1 1206.6 1221.5 1187.1 1221.8 1180.5L1197.4 1180.5L1231.5 1107.3Z" fill="#E5A532" stroke="#000" stroke-width="3" stroke-linejoin="miter" stroke-miterlimit="6"/>
<path d="M1254.4 1330L1294 1399.5L1271.5 1400.5C1271.5 1406.8 1272.1 1425.6 1271.5 1438C1270.9 1450.4 1269.3 1464.2 1268 1475C1266.7 1485.8 1265.6 1494.5 1263.4 1502.8C1261.2 1511.1 1258.4 1518 1255 1525C1251.6 1532 1247.2 1537.8 1243 1545C1238.8 1552.2 1234.5 1560.9 1230 1568C1225.5 1575.1 1221.7 1581.3 1216 1587.8C1210.3 1594.3 1202.7 1601.4 1196 1607C1189.3 1612.6 1182.6 1617.7 1175.8 1621.5C1169 1625.3 1162.3 1627.8 1155 1630C1147.7 1632.2 1135.8 1634.2 1132 1635L1129.6 1596C1133 1595.3 1143.4 1594 1150 1592C1156.6 1590 1162.8 1587.3 1169 1584C1175.2 1580.7 1181.4 1576.4 1187 1572C1192.6 1567.6 1198 1562.8 1202.7 1557.5C1207.4 1552.2 1211.1 1546.8 1215 1540C1218.9 1533.2 1222.2 1525.9 1226 1517C1229.8 1508.1 1234.6 1499.8 1237.6 1486.6C1240.6 1473.4 1242.8 1452.1 1244 1438C1245.2 1423.9 1244.6 1408 1244.7 1402L1219.8 1402.7L1254.4 1330Z" fill="#E5A532" stroke="#000" stroke-width="3" stroke-linejoin="miter" stroke-miterlimit="6"/>
<path d="M1308 1517L1352.6 1623L1326.7 1623C1326.8 1629.2 1327.5 1644.5 1327.5 1660C1327.5 1675.5 1327.9 1699.1 1326.5 1715.8C1325.1 1732.5 1322.5 1745.5 1319 1760C1315.5 1774.5 1310.2 1788 1305.4 1803C1300.6 1818 1295.1 1836.1 1290 1849.8C1284.9 1863.5 1279.9 1875.3 1275 1885C1270.1 1894.7 1267.5 1898.8 1260.8 1908C1254.1 1917.2 1243.5 1931.7 1235 1940C1226.5 1948.3 1218.2 1953.4 1210 1958C1201.8 1962.6 1190 1965.8 1186 1967.4L1184 1907.8C1187.5 1906.5 1198.1 1903.4 1205 1900C1211.9 1896.6 1218.8 1893.4 1225.5 1887.6C1232.2 1881.8 1239.8 1871.3 1245 1865C1250.2 1858.7 1251.9 1859 1256.6 1849.8C1261.3 1840.6 1267.8 1826.7 1273.4 1810C1279 1793.3 1285.8 1770.7 1290 1749.4C1294.2 1728.1 1297 1703.1 1298.7 1682C1300.4 1660.9 1300.1 1632.8 1300.4 1623L1273.4 1624.8L1308 1517Z" fill="#E5A532" stroke="#000" stroke-width="3" stroke-linejoin="miter" stroke-miterlimit="6"/>
<path d="M497.7 1686.3 L684.7 1686.3 L684.7 1651 L765.6 1698.5 L684.7 1746 L684.7 1710 L497.7 1710Z" fill="#E5A532" stroke="#000" stroke-width="3" stroke-linejoin="miter" stroke-miterlimit="6"/>
<path d="M1171.8 500.1 L1175.1 505 L1178.3 509.9 L1181.4 514.8 L1184.3 519.7 L1187.1 524.6 L1189.7 529.5 L1192 534.3 L1194 539.2 L1195.7 544 L1197.1 548.8 L1198.1 553.6 L1198.8 558.4 L1199.1 563.2 L1199 568 L1198.6 572.8 L1197.8 577.6 L1196.6 582.4 L1195.1 587.2 L1193.2 592 L1191.1 596.9 L1188.7 601.8 L1186 606.6 L1183.2 611.5 L1180.2 616.5 L1177 621.4 L1173.8 626.3 L1170.6 631.2 L1167.4 636.2 L1164.2 641.1 L1161.1 646.1 L1158.2 651.1 L1155.5 656.1 L1153 661.1 L1150.7 666.1 L1148.8 671.1 L1147.2 676.1 L1145.9 681.2 L1145 686.2 L1144.5 691.3 L1144.4 696.4 L1144.6 701.4 L1145.3 706.5 L1146.3 711.5 L1147.8 716.5 L1149.5 721.6 L1151.6 726.6 L1153.9 731.6 L1156.5 736.5 L1159.3 741.5 L1162.3 746.5 L1165.4 751.4 L1168.6 756.4 L1171.9 761.3 L1175.1 766.2 L1178.3 771.1 L1181.5 776.1 L1184.4 781 L1187.3 785.8 L1189.9 790.7 L1192.2 795.6 L1194.3 800.5 L1196 805.3 L1197.4 810.2 L1198.5 815 L1199.2 819.8 L1199.6 824.6 L1199.5 829.5 L1199.1 834.3 L1198.4 839.1 L1197.2 844 L1195.7 848.8 L1193.9 853.7 L1191.8 858.6 L1189.4 863.5 L1186.8 868.4 L1183.9 873.3 L1180.9 878.2 L1177.8 883.1 L1174.6 888 L1171.3 893 L1168.1 897.9 L1164.9 902.9 L1161.9 907.8 L1158.9 912.8 L1156.2 917.8 L1153.7 922.7 L1151.4 927.7 L1149.4 932.7 L1147.8 937.7 L1146.5 942.7 L1145.6 947.8 L1145 952.8 L1144.9 957.8 L1145.1 962.8 L1145.7 967.8 L1146.7 972.9 L1148.1 977.9 L1149.8 982.9 L1151.8 987.8 L1154.1 992.8 L1156.6 997.8 L1159.4 1002.7 L1162.4 1007.7 L1165.5 1012.6 L1168.7 1017.6 L1171.9 1022.5 L1175.2 1027.4 L1178.4 1032.3 L1181.5 1037.3 L1184.6 1042.2 L1187.4 1047.1 L1190 1052 L1192.4 1056.9 L1194.5 1061.8 L1196.3 1066.6 L1197.8 1071.5 L1198.9 1076.4 L1199.7 1081.2 L1200 1086.1 L1200.1 1091 L1201.8 1091 L1201.9 1086 L1201.5 1081 L1200.7 1076 L1199.6 1071 L1198.1 1066 L1196.3 1061 L1194.2 1056.1 L1191.7 1051.1 L1189.1 1046.1 L1186.3 1041.2 L1183.2 1036.2 L1180.1 1031.3 L1176.9 1026.3 L1173.7 1021.4 L1170.4 1016.4 L1167.3 1011.5 L1164.2 1006.6 L1161.3 1001.7 L1158.5 996.8 L1156 991.9 L1153.8 987 L1151.8 982.1 L1150.2 977.2 L1148.9 972.3 L1147.9 967.5 L1147.4 962.6 L1147.1 957.8 L1147.3 953 L1147.9 948.1 L1148.8 943.3 L1150.1 938.4 L1151.7 933.5 L1153.6 928.7 L1155.8 923.8 L1158.3 918.9 L1161.1 914 L1164 909.1 L1167 904.2 L1170.2 899.3 L1173.5 894.4 L1176.7 889.4 L1180 884.5 L1183.1 879.6 L1186.2 874.6 L1189.1 869.6 L1191.7 864.7 L1194.2 859.7 L1196.4 854.7 L1198.3 849.7 L1199.8 844.7 L1201 839.7 L1201.9 834.6 L1202.3 829.6 L1202.4 824.6 L1202 819.5 L1201.3 814.5 L1200.2 809.4 L1198.7 804.4 L1196.9 799.4 L1194.8 794.4 L1192.5 789.4 L1189.8 784.4 L1187 779.4 L1184 774.5 L1180.9 769.5 L1177.7 764.6 L1174.4 759.6 L1171.2 754.7 L1168 749.8 L1164.9 744.9 L1162 740 L1159.2 735.1 L1156.7 730.2 L1154.4 725.3 L1152.5 720.4 L1150.8 715.6 L1149.5 710.8 L1148.5 705.9 L1147.9 701.1 L1147.6 696.3 L1147.8 691.5 L1148.3 686.7 L1149.2 681.9 L1150.4 677.1 L1152 672.2 L1153.8 667.4 L1156 662.5 L1158.5 657.7 L1161.2 652.8 L1164.1 647.9 L1167.1 643 L1170.3 638.1 L1173.5 633.2 L1176.8 628.2 L1180 623.3 L1183.2 618.3 L1186.3 613.4 L1189.2 608.4 L1191.9 603.4 L1194.4 598.4 L1196.6 593.4 L1198.5 588.4 L1200.2 583.4 L1201.4 578.3 L1202.3 573.2 L1202.8 568.2 L1202.9 563.1 L1202.6 558 L1201.9 552.9 L1200.8 547.9 L1199.4 542.8 L1197.6 537.8 L1195.5 532.7 L1193.2 527.7 L1190.5 522.7 L1187.7 517.7 L1184.7 512.8 L1181.6 507.8 L1178.4 502.8 L1175.2 497.9Z" fill="#fff"/>
<path d="M1258.3 500.1 L1261.6 505 L1264.9 509.9 L1268.1 514.9 L1271.1 519.7 L1273.9 524.6 L1276.5 529.5 L1278.9 534.3 L1280.9 539.2 L1282.7 544 L1284.1 548.8 L1285.1 553.6 L1285.8 558.4 L1286.1 563.2 L1286 568 L1285.6 572.7 L1284.7 577.5 L1283.6 582.4 L1282 587.2 L1280.1 592 L1278 596.9 L1275.5 601.8 L1272.8 606.6 L1269.9 611.5 L1266.8 616.4 L1263.6 621.4 L1260.4 626.3 L1257.1 631.2 L1253.8 636.2 L1250.6 641.1 L1247.4 646.1 L1244.5 651.1 L1241.7 656.1 L1239.1 661.1 L1236.9 666.1 L1234.9 671.1 L1233.2 676.1 L1231.9 681.2 L1231 686.2 L1230.5 691.3 L1230.4 696.4 L1230.7 701.4 L1231.3 706.5 L1232.4 711.5 L1233.8 716.6 L1235.6 721.6 L1237.7 726.6 L1240.1 731.6 L1242.7 736.6 L1245.6 741.5 L1248.6 746.5 L1251.8 751.4 L1255.1 756.4 L1258.4 761.3 L1261.7 766.2 L1265 771.2 L1268.1 776.1 L1271.2 781 L1274 785.9 L1276.7 790.7 L1279.1 795.6 L1281.2 800.5 L1283 805.3 L1284.4 810.2 L1285.5 815 L1286.2 819.8 L1286.6 824.6 L1286.5 829.5 L1286.1 834.3 L1285.3 839.1 L1284.2 844 L1282.7 848.8 L1280.8 853.7 L1278.7 858.6 L1276.2 863.5 L1273.5 868.3 L1270.6 873.3 L1267.6 878.2 L1264.4 883.1 L1261.1 888 L1257.8 893 L1254.5 897.9 L1251.3 902.9 L1248.2 907.8 L1245.2 912.8 L1242.4 917.8 L1239.8 922.7 L1237.5 927.7 L1235.5 932.7 L1233.9 937.7 L1232.5 942.7 L1231.6 947.8 L1231 952.8 L1230.9 957.8 L1231.1 962.8 L1231.7 967.8 L1232.7 972.9 L1234.1 977.9 L1235.8 982.9 L1237.9 987.8 L1240.2 992.8 L1242.9 997.8 L1245.7 1002.7 L1248.7 1007.7 L1251.9 1012.6 L1255.1 1017.6 L1258.4 1022.5 L1261.7 1027.4 L1265 1032.4 L1268.2 1037.3 L1271.3 1042.2 L1274.2 1047.1 L1276.8 1052 L1279.3 1056.9 L1281.4 1061.8 L1283.2 1066.6 L1284.7 1071.5 L1285.9 1076.4 L1286.7 1081.2 L1287 1086.1 L1287.1 1091 L1288.8 1091 L1288.9 1086 L1288.5 1081 L1287.7 1076 L1286.5 1071 L1285 1066 L1283.2 1061 L1281 1056.1 L1278.6 1051.1 L1275.9 1046.1 L1273 1041.2 L1269.9 1036.2 L1266.7 1031.2 L1263.4 1026.3 L1260.1 1021.4 L1256.8 1016.4 L1253.6 1011.5 L1250.5 1006.6 L1247.5 1001.7 L1244.7 996.8 L1242.2 991.9 L1239.9 987 L1237.9 982.1 L1236.2 977.2 L1234.9 972.3 L1233.9 967.5 L1233.4 962.6 L1233.1 957.8 L1233.3 953 L1233.9 948.1 L1234.8 943.3 L1236.1 938.4 L1237.8 933.5 L1239.7 928.7 L1242 923.8 L1244.5 918.9 L1247.3 914 L1250.3 909.1 L1253.4 904.2 L1256.6 899.3 L1259.9 894.4 L1263.3 889.4 L1266.5 884.5 L1269.8 879.6 L1272.9 874.6 L1275.8 869.7 L1278.6 864.7 L1281.1 859.7 L1283.3 854.7 L1285.2 849.7 L1286.8 844.7 L1288 839.7 L1288.9 834.6 L1289.3 829.6 L1289.4 824.6 L1289 819.5 L1288.3 814.5 L1287.2 809.4 L1285.7 804.4 L1283.8 799.4 L1281.7 794.4 L1279.3 789.4 L1276.6 784.4 L1273.7 779.4 L1270.7 774.5 L1267.5 769.5 L1264.2 764.6 L1260.9 759.6 L1257.6 754.7 L1254.4 749.8 L1251.2 744.8 L1248.3 739.9 L1245.5 735 L1242.9 730.2 L1240.6 725.3 L1238.6 720.4 L1236.9 715.6 L1235.5 710.7 L1234.5 705.9 L1233.9 701.1 L1233.6 696.3 L1233.8 691.5 L1234.3 686.7 L1235.2 681.9 L1236.4 677.1 L1238 672.2 L1240 667.4 L1242.2 662.5 L1244.7 657.7 L1247.4 652.8 L1250.4 647.9 L1253.5 643 L1256.7 638.1 L1260 633.2 L1263.3 628.2 L1266.6 623.3 L1269.8 618.4 L1273 613.4 L1275.9 608.4 L1278.7 603.4 L1281.2 598.5 L1283.5 593.4 L1285.5 588.4 L1287.1 583.4 L1288.4 578.3 L1289.3 573.3 L1289.8 568.2 L1289.9 563.1 L1289.6 558 L1288.9 552.9 L1287.8 547.9 L1286.3 542.8 L1284.5 537.8 L1282.4 532.7 L1280 527.7 L1277.3 522.7 L1274.4 517.7 L1271.4 512.7 L1268.2 507.8 L1265 502.8 L1261.7 497.9Z" fill="#fff"/>
<path d="M1177 418.3 L1208.3 499.7 L1145 499.7Z" fill="#fff"/>
<path d="M1263.3 418.3 L1295 499.7 L1232 499.7Z" fill="#fff"/>
<path d="M660.9 787.9 L663.2 789.5 L665.6 791 L667.8 792.6 L669.9 794.2 L671.9 795.7 L673.7 797.2 L675.4 798.8 L676.8 800.3 L678 801.8 L678.9 803.2 L679.5 804.7 L679.9 806.1 L680.1 807.4 L679.9 808.8 L679.6 810.2 L679 811.7 L678.1 813.1 L676.9 814.6 L675.5 816.1 L673.9 817.7 L672.1 819.2 L670.2 820.8 L668 822.3 L665.8 823.9 L663.5 825.5 L661.2 827 L658.8 828.6 L656.5 830.2 L654.2 831.8 L652 833.4 L650 835 L648.1 836.6 L646.3 838.2 L644.8 839.8 L643.5 841.5 L642.4 843.1 L641.7 844.8 L641.2 846.5 L641 848.3 L641.1 850 L641.5 851.7 L642.2 853.4 L643.2 855.1 L644.5 856.7 L645.9 858.4 L647.6 860 L649.5 861.6 L651.5 863.2 L653.7 864.7 L655.9 866.3 L658.2 867.9 L660.6 869.5 L663 871 L665.3 872.6 L667.5 874.2 L669.7 875.7 L671.7 877.3 L673.6 878.8 L675.3 880.3 L676.7 881.9 L677.9 883.4 L678.9 884.9 L679.6 886.3 L680.1 887.8 L680.3 889.2 L680.2 890.6 L679.9 892.1 L679.3 893.5 L678.4 895 L677.3 896.5 L676 898 L674.4 899.6 L672.6 901.1 L670.6 902.7 L668.5 904.2 L666.3 905.8 L664 907.4 L661.7 908.9 L659.3 910.5 L657 912.1 L654.7 913.7 L652.5 915.3 L650.4 916.9 L648.5 918.5 L646.8 920.1 L645.2 921.7 L643.9 923.3 L642.8 924.9 L642 926.6 L641.4 928.3 L641.2 930 L641.3 931.7 L641.6 933.4 L642.3 935 L643.2 936.7 L644.4 938.3 L645.8 939.9 L647.5 941.5 L649.3 943.1 L651.3 944.7 L653.4 946.3 L655.6 947.9 L658 949.4 L660.3 951 L662.7 952.6 L665 954.1 L667.3 955.7 L669.5 957.3 L671.5 958.8 L673.4 960.4 L675.1 961.9 L676.6 963.5 L677.9 965 L679 966.5 L679.7 968 L680.2 969.5 L680.5 970.9 L680.4 972.4 L680.2 973.9 L679.6 975.3 L680.7 975.9 L681.3 974.2 L681.7 972.5 L681.7 970.8 L681.4 969.2 L680.9 967.5 L680 965.8 L678.9 964.2 L677.6 962.6 L676 961 L674.3 959.4 L672.3 957.8 L670.2 956.2 L668 954.6 L665.7 953.1 L663.4 951.5 L661 949.9 L658.7 948.3 L656.4 946.8 L654.2 945.2 L652.1 943.6 L650.2 942.1 L648.4 940.5 L646.8 939 L645.5 937.4 L644.4 935.9 L643.6 934.4 L643 933 L642.7 931.5 L642.6 930.1 L642.8 928.6 L643.3 927.2 L644.1 925.7 L645.1 924.2 L646.3 922.7 L647.8 921.1 L649.5 919.6 L651.4 918 L653.4 916.5 L655.6 914.9 L657.9 913.4 L660.2 911.8 L662.5 910.2 L664.9 908.7 L667.2 907.1 L669.5 905.5 L671.6 903.9 L673.6 902.3 L675.5 900.8 L677.1 899.1 L678.6 897.5 L679.8 895.9 L680.7 894.2 L681.4 892.6 L681.8 890.8 L681.9 889.1 L681.7 887.4 L681.2 885.7 L680.4 884 L679.3 882.4 L678 880.7 L676.5 879.1 L674.7 877.5 L672.8 875.9 L670.7 874.3 L668.5 872.7 L666.3 871.1 L663.9 869.6 L661.6 868 L659.2 866.4 L656.9 864.8 L654.7 863.3 L652.6 861.7 L650.6 860.2 L648.8 858.6 L647.2 857.1 L645.9 855.6 L644.8 854.1 L643.9 852.6 L643.3 851.1 L642.9 849.7 L642.8 848.3 L643 846.9 L643.4 845.5 L644.1 844 L645.1 842.6 L646.2 841.1 L647.7 839.5 L649.3 838 L651.2 836.5 L653.2 834.9 L655.3 833.4 L657.6 831.8 L659.9 830.3 L662.3 828.7 L664.6 827.1 L666.9 825.5 L669.2 824 L671.4 822.4 L673.4 820.8 L675.3 819.2 L677 817.6 L678.5 816 L679.8 814.3 L680.8 812.6 L681.5 810.9 L682 809.2 L682.1 807.4 L682 805.7 L681.5 803.9 L680.7 802.2 L679.7 800.5 L678.4 798.9 L676.9 797.2 L675.2 795.6 L673.3 794 L671.2 792.4 L669.1 790.8 L666.8 789.2 L664.5 787.7 L662.1 786.1Z" fill="#fff"/>
<path d="M720.9 787.9 L723.2 789.5 L725.6 791 L727.8 792.6 L729.9 794.2 L731.9 795.7 L733.7 797.2 L735.4 798.8 L736.8 800.3 L738 801.8 L738.9 803.2 L739.5 804.7 L739.9 806.1 L740.1 807.4 L739.9 808.8 L739.6 810.2 L739 811.7 L738.1 813.1 L736.9 814.6 L735.5 816.1 L733.9 817.7 L732.1 819.2 L730.2 820.8 L728 822.3 L725.8 823.9 L723.5 825.5 L721.2 827 L718.8 828.6 L716.5 830.2 L714.2 831.8 L712 833.4 L710 835 L708.1 836.6 L706.3 838.2 L704.8 839.8 L703.5 841.5 L702.4 843.1 L701.7 844.8 L701.2 846.5 L701 848.3 L701.1 850 L701.5 851.7 L702.2 853.4 L703.2 855.1 L704.5 856.7 L705.9 858.4 L707.6 860 L709.5 861.6 L711.5 863.2 L713.7 864.7 L715.9 866.3 L718.2 867.9 L720.6 869.5 L723 871 L725.3 872.6 L727.5 874.2 L729.7 875.7 L731.7 877.3 L733.6 878.8 L735.3 880.3 L736.7 881.9 L737.9 883.4 L738.9 884.9 L739.6 886.3 L740.1 887.8 L740.3 889.2 L740.2 890.6 L739.9 892.1 L739.3 893.5 L738.4 895 L737.3 896.5 L736 898 L734.4 899.6 L732.6 901.1 L730.6 902.7 L728.5 904.2 L726.3 905.8 L724 907.4 L721.7 908.9 L719.3 910.5 L717 912.1 L714.7 913.7 L712.5 915.3 L710.4 916.9 L708.5 918.5 L706.8 920.1 L705.2 921.7 L703.9 923.3 L702.8 924.9 L702 926.6 L701.4 928.3 L701.2 930 L701.3 931.7 L701.6 933.4 L702.3 935 L703.2 936.7 L704.4 938.3 L705.8 939.9 L707.5 941.5 L709.3 943.1 L711.3 944.7 L713.4 946.3 L715.6 947.9 L718 949.4 L720.3 951 L722.7 952.6 L725 954.1 L727.3 955.7 L729.5 957.3 L731.5 958.8 L733.4 960.4 L735.1 961.9 L736.6 963.5 L737.9 965 L739 966.5 L739.7 968 L740.2 969.5 L740.5 970.9 L740.4 972.4 L740.2 973.9 L739.6 975.3 L740.7 975.9 L741.3 974.2 L741.7 972.5 L741.7 970.8 L741.4 969.2 L740.9 967.5 L740 965.8 L738.9 964.2 L737.6 962.6 L736 961 L734.3 959.4 L732.3 957.8 L730.2 956.2 L728 954.6 L725.7 953.1 L723.4 951.5 L721 949.9 L718.7 948.3 L716.4 946.8 L714.2 945.2 L712.1 943.6 L710.2 942.1 L708.4 940.5 L706.8 939 L705.5 937.4 L704.4 935.9 L703.6 934.4 L703 933 L702.7 931.5 L702.6 930.1 L702.8 928.6 L703.3 927.2 L704.1 925.7 L705.1 924.2 L706.3 922.7 L707.8 921.1 L709.5 919.6 L711.4 918 L713.4 916.5 L715.6 914.9 L717.9 913.4 L720.2 911.8 L722.5 910.2 L724.9 908.7 L727.2 907.1 L729.5 905.5 L731.6 903.9 L733.6 902.3 L735.5 900.8 L737.1 899.1 L738.6 897.5 L739.8 895.9 L740.7 894.2 L741.4 892.6 L741.8 890.8 L741.9 889.1 L741.7 887.4 L741.2 885.7 L740.4 884 L739.3 882.4 L738 880.7 L736.5 879.1 L734.7 877.5 L732.8 875.9 L730.7 874.3 L728.5 872.7 L726.3 871.1 L723.9 869.6 L721.6 868 L719.2 866.4 L716.9 864.8 L714.7 863.3 L712.6 861.7 L710.6 860.2 L708.8 858.6 L707.2 857.1 L705.9 855.6 L704.8 854.1 L703.9 852.6 L703.3 851.1 L702.9 849.7 L702.8 848.3 L703 846.9 L703.4 845.5 L704.1 844 L705.1 842.6 L706.2 841.1 L707.7 839.5 L709.3 838 L711.2 836.5 L713.2 834.9 L715.3 833.4 L717.6 831.8 L719.9 830.3 L722.3 828.7 L724.6 827.1 L726.9 825.5 L729.2 824 L731.4 822.4 L733.4 820.8 L735.3 819.2 L737 817.6 L738.5 816 L739.8 814.3 L740.8 812.6 L741.5 810.9 L742 809.2 L742.1 807.4 L742 805.7 L741.5 803.9 L740.7 802.2 L739.7 800.5 L738.4 798.9 L736.9 797.2 L735.2 795.6 L733.3 794 L731.2 792.4 L729.1 790.8 L726.8 789.2 L724.5 787.7 L722.1 786.1Z" fill="#fff"/>
<path d="M663 735.3 L686.5 787 L640 787Z" fill="#fff"/>
<path d="M723.5 735.3 L746.5 787 L700 787Z" fill="#fff"/>
<rect x="485.1" y="183.5" width="280.1" height="73" rx="10" ry="10" fill="#FDE6B3" stroke="#000" stroke-width="3"/>
<rect x="866" y="142.5" width="270.5" height="78.5" rx="10" ry="10" fill="#FDE6B3" stroke="#000" stroke-width="3"/>
<rect x="260.2" y="463.5" width="280.8" height="73.5" rx="10" ry="10" fill="#FDE6B3" stroke="#000" stroke-width="3"/>
<rect x="1065" y="726.5" width="280.5" height="73" rx="10" ry="10" fill="#FDE6B3" stroke="#000" stroke-width="3"/>
<text x="1140" y="770.6" font-size="23.4" font-weight="bold" fill="#23262E" stroke="#23262E" stroke-width="0.7" textLength="129.4" lengthAdjust="spacingAndGlyphs">ÉVAPORATION</text>
<rect x="575" y="998.5" width="280.5" height="73.4" rx="10" ry="10" fill="#FDE6B3" stroke="#000" stroke-width="3"/>
<text x="617.2" y="1045.8" font-size="31" font-weight="bold" fill="#23262E" stroke="#23262E" stroke-width="0.7" textLength="194.4" lengthAdjust="spacingAndGlyphs">TRANSPIRATION</text>
<rect x="491.5" y="1754.5" width="281" height="72" rx="10" ry="10" fill="#FDE6B3" stroke="#000" stroke-width="3"/>
<text x="534" y="1799" font-size="23.4" font-weight="bold" fill="#23262E" stroke="#23262E" stroke-width="0.7" textLength="196" lengthAdjust="spacingAndGlyphs">EAUX SOUTERRAINES</text>
<path d="M89.5 2029H238V2143.5H89.5L124 2086Z" fill="#C48D2A"/>
<path d="M1347.5 2029H1199V2143.5H1347.5L1314 2086Z" fill="#C48D2A"/>
<path d="M185 2119H238V2143.5Z" fill="#A27726"/>
<path d="M1252.3 2119H1199V2143.5Z" fill="#A27726"/>
<rect x="185" y="2004.6" width="1067.3" height="114.6" fill="#E5A532"/>
<text x="338.3" y="2080.2" font-size="54.3" font-weight="bold" fill="#24272D" stroke="#24272D" stroke-width="1.7" textLength="728.8" lengthAdjust="spacingAndGlyphs">CLIQUEZ POUR AJOUTER UN TITRE</text>
<text x="26.5" y="2160.6" font-size="12" font-weight="bold" fill="#050505" textLength="134" lengthAdjust="spacingAndGlyphs">www.storyboardthat.com</text>
<path d="M1138 2124.8H1167Q1172 2124.8 1172 2129.8V2146Q1172 2151 1167 2151H1148L1140 2159.7L1142 2151H1138Q1133 2151 1133 2146V2129.8Q1133 2124.8 1138 2124.8Z" fill="#000"/>
<path d="M1155 2131.7H1176Q1181 2131.7 1181 2136.7V2150Q1181 2155 1176 2155H1173L1175 2159.7L1167 2155H1155Q1150 2155 1150 2150V2136.7Q1150 2131.7 1155 2131.7Z" fill="#9B9B9B"/>
<text x="1187" y="2150" font-size="25.5" fill="#000" stroke="#000" stroke-width="0.4" textLength="144" lengthAdjust="spacingAndGlyphs">Storyboard</text>
<text x="1332.5" y="2150" font-size="25.5" fill="#9B9B9B" stroke="#9B9B9B" stroke-width="0.4" textLength="59.5" lengthAdjust="spacingAndGlyphs">That</text>
</g>
<rect x="12" y="12" width="1399" height="2163" fill="none" stroke="#000" stroke-width="1.8"/>
<text x="10.6" y="2200.6" font-size="15.2" fill="#0a0a0a" stroke="#0a0a0a" stroke-width="0.55" textLength="259" lengthAdjust="spacingAndGlyphs">Créez votre propre à Storyboard That</text>
</svg>
</body></html>
